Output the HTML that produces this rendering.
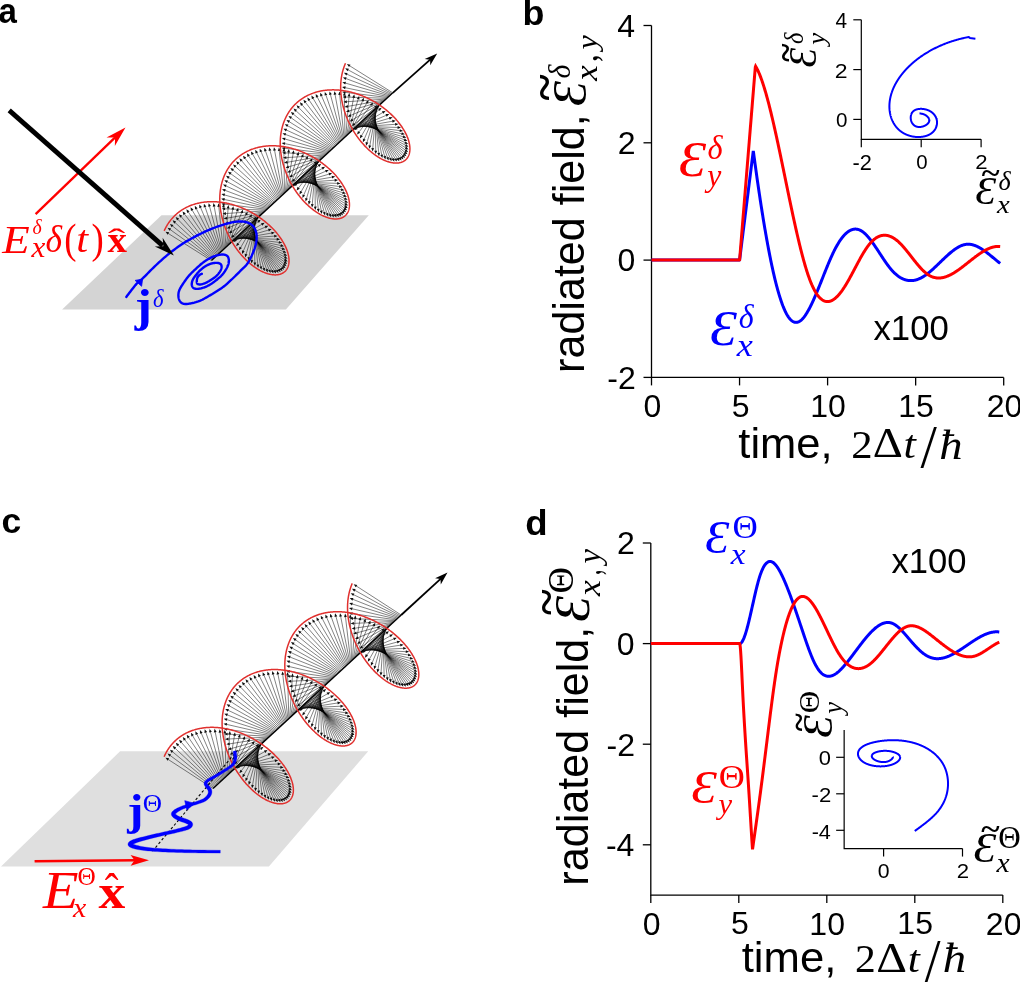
<!DOCTYPE html>
<html><head><meta charset="utf-8"><title>figure</title>
<style>html,body{margin:0;padding:0;background:#fff;}svg{display:block;}</style>
</head><body>
<svg width="1020" height="982" viewBox="0 0 1020 982">
<rect width="1020" height="982" fill="#fff"/>
<polygon points="161.5,215.2 368.8,215.2 285.9,309.4 62.1,309.4" fill="#d4d4d4"/>
<path d="M211.45,260.55L167.85,233.21M212.29,259.77L169.79,229.29M213.13,259.00L172.06,225.62M213.97,258.22L174.66,222.20M214.81,257.44L177.56,219.06M215.65,256.67L180.76,216.22M216.49,255.89L184.22,213.70M217.33,255.12L187.94,211.52M218.17,254.34L191.89,209.67M219.01,253.56L196.03,208.17M219.85,252.79L200.35,207.04M220.69,252.01L204.81,206.26M221.52,251.23L209.38,205.84M222.36,250.46L214.04,205.77M223.20,249.68L218.75,206.05M224.04,248.90L223.47,206.67M224.88,248.13L228.18,207.60M225.72,247.35L232.85,208.83M226.56,246.58L237.45,210.35M227.40,245.80L241.95,212.12M228.24,245.02L246.33,214.13M229.08,244.25L250.57,216.35M229.92,243.47L254.66,218.75M230.76,242.69L258.58,221.33M231.60,241.92L262.31,224.05M232.44,241.14L265.82,226.91M233.28,240.36L269.11,229.89M234.12,239.59L272.15,232.96M234.96,238.81L274.91,236.09M235.80,238.03L277.37,239.27M236.64,237.26L279.52,242.45M237.48,236.48L281.35,245.61M238.32,235.71L282.83,248.72M239.16,234.93L283.97,251.73M240.00,234.15L284.75,254.63M240.84,233.38L285.19,257.38M241.67,232.60L285.27,259.94M242.51,231.82L285.01,262.30M243.35,231.05L284.42,264.43M244.19,230.27L283.50,266.29M245.03,229.49L282.28,267.88M245.87,228.72L280.76,269.16M246.71,227.94L278.98,270.13M247.55,227.17L276.94,270.77M248.39,226.39L274.67,271.06M249.23,225.61L272.21,271.00M250.07,224.84L269.57,270.59M250.91,224.06L266.79,269.81M251.75,223.28L263.89,268.68M252.59,222.51L260.91,267.19M253.43,221.73L257.89,265.36M254.27,220.95L254.84,263.19M255.11,220.18L251.81,260.71M255.95,219.40L248.82,257.92M256.79,218.62L245.90,254.85M257.63,217.85L243.08,251.52M258.47,217.07L240.38,247.97M259.31,216.30L237.81,244.20M260.15,215.52L235.41,240.24M260.99,214.74L233.17,236.11M261.82,213.97L231.12,231.83M262.66,213.19L229.28,227.42M263.50,212.41L227.67,222.89M264.34,211.64L226.32,218.27M265.18,210.86L225.23,213.58M266.02,210.08L224.45,208.85M266.86,209.31L223.98,204.12M267.70,208.53L223.83,199.40M268.54,207.76L224.03,194.75M269.38,206.98L224.57,190.18M270.22,206.20L225.47,185.72M271.06,205.43L226.71,181.42M271.90,204.65L228.30,177.31M272.74,203.87L230.24,173.39M273.58,203.10L232.51,169.72M274.42,202.32L235.11,166.30M275.26,201.54L238.01,163.16M276.10,200.77L241.21,160.32M276.94,199.99L244.67,157.80M277.78,199.22L248.39,155.62M278.62,198.44L252.34,153.77M279.46,197.66L256.48,152.27M280.30,196.89L260.80,151.14M281.14,196.11L265.26,150.36M281.97,195.33L269.83,149.94M282.81,194.56L274.49,149.87M283.65,193.78L279.20,150.15M284.49,193.00L283.92,150.77M285.33,192.23L288.63,151.70M286.17,191.45L293.30,152.93M287.01,190.68L297.90,154.45M287.85,189.90L302.40,156.22M288.69,189.12L306.78,158.23M289.53,188.35L311.02,160.45M290.37,187.57L315.11,162.85M291.21,186.79L319.03,165.43M292.05,186.02L322.76,168.15M292.89,185.24L326.27,171.01M293.73,184.46L329.56,173.99M294.57,183.69L332.60,177.06M295.41,182.91L335.36,180.19M296.25,182.13L337.82,183.37M297.09,181.36L339.97,186.55M297.93,180.58L341.80,189.71M298.77,179.81L343.28,192.82M299.61,179.03L344.42,195.83M300.45,178.25L345.20,198.73M301.29,177.48L345.64,201.48M302.12,176.70L345.72,204.04M302.96,175.92L345.46,206.40M303.80,175.15L344.87,208.53M304.64,174.37L343.95,210.39M305.48,173.59L342.73,211.98M306.32,172.82L341.21,213.26M307.16,172.04L339.43,214.23M308.00,171.27L337.39,214.87M308.84,170.49L335.12,215.16M309.68,169.71L332.66,215.10M310.52,168.94L330.02,214.69M311.36,168.16L327.24,213.91M312.20,167.38L324.34,212.78M313.04,166.61L321.36,211.29M313.88,165.83L318.34,209.46M314.72,165.05L315.29,207.29M315.56,164.28L312.26,204.81M316.40,163.50L309.27,202.02M317.24,162.73L306.35,198.95M318.08,161.95L303.53,195.62M318.92,161.17L300.83,192.07M319.76,160.40L298.26,188.30M320.60,159.62L295.86,184.34M321.44,158.84L293.62,180.21M322.27,158.07L291.57,175.93M323.11,157.29L289.73,171.52M323.95,156.51L288.12,166.99M324.79,155.74L286.77,162.37M325.63,154.96L285.68,157.68M326.47,154.18L284.90,152.95M327.31,153.41L284.43,148.22M328.15,152.63L284.28,143.50M328.99,151.86L284.48,138.85M329.83,151.08L285.02,134.28M330.67,150.30L285.92,129.82M331.51,149.53L287.16,125.52M332.35,148.75L288.75,121.41M333.19,147.97L290.69,117.49M334.03,147.20L292.96,113.82M334.87,146.42L295.56,110.40M335.71,145.64L298.46,107.26M336.55,144.87L301.66,104.42M337.39,144.09L305.12,101.90M338.23,143.32L308.84,99.72M339.07,142.54L312.79,97.87M339.91,141.76L316.93,96.37M340.75,140.99L321.25,95.24M341.59,140.21L325.71,94.46M342.43,139.43L330.28,94.04M343.26,138.66L334.94,93.97M344.10,137.88L339.65,94.25M344.94,137.10L344.37,94.87M345.78,136.33L349.08,95.80M346.62,135.55L353.75,97.03M347.46,134.78L358.35,98.55M348.30,134.00L362.85,100.32M349.14,133.22L367.23,102.33M349.98,132.45L371.47,104.55M350.82,131.67L375.56,106.95M351.66,130.89L379.48,109.53M352.50,130.12L383.21,112.25M353.34,129.34L386.72,115.11M354.18,128.56L390.01,118.09M355.02,127.79L393.05,121.16M355.86,127.01L395.81,124.29M356.70,126.23L398.27,127.47M357.54,125.46L400.42,130.65M358.38,124.68L402.25,133.81M359.22,123.91L403.73,136.92M360.06,123.13L404.87,139.93M360.90,122.35L405.65,142.83M361.74,121.58L406.09,145.58M362.57,120.80L406.17,148.14M363.41,120.02L405.91,150.50M364.25,119.25L405.32,152.63M365.09,118.47L404.40,154.49M365.93,117.69L403.18,156.08M366.77,116.92L401.66,157.36M367.61,116.14L399.88,158.33M368.45,115.37L397.84,158.97M369.29,114.59L395.57,159.26M370.13,113.81L393.11,159.20M370.97,113.04L390.47,158.79M371.81,112.26L387.69,158.01M372.65,111.48L384.79,156.88M373.49,110.71L381.81,155.39M374.33,109.93L378.79,153.56M375.17,109.15L375.74,151.39M376.01,108.38L372.71,148.91M376.85,107.60L369.72,146.12M377.69,106.83L366.80,143.05M378.53,106.05L363.98,139.72M379.37,105.27L361.28,136.17M380.21,104.50L358.71,132.40M381.05,103.72L356.31,128.44M381.89,102.94L354.07,124.31M382.73,102.17L352.02,120.03M383.56,101.39L350.18,115.62M384.40,100.61L348.57,111.09M385.24,99.84L347.22,106.47M386.08,99.06L346.13,101.78M386.92,98.28L345.35,97.05M387.76,97.51L344.88,92.32M388.60,96.73L344.73,87.60M389.44,95.96L344.93,82.95M390.28,95.18L345.47,78.38M391.12,94.40L346.37,73.92M391.96,93.63L347.61,69.62M392.80,92.85L349.20,65.51" stroke="#000" stroke-width="0.7" stroke-opacity="0.7" fill="none"/>
<path d="M165.55,231.76L169.20,232.34L167.66,234.79ZM167.58,227.71L171.19,228.51L169.50,230.87ZM169.95,223.90L173.51,224.92L171.68,227.17ZM172.65,220.36L176.14,221.59L174.18,223.73ZM175.67,217.11L179.08,218.54L177.00,220.56ZM178.98,214.17L182.30,215.79L180.10,217.69ZM182.57,211.54L185.79,213.36L183.49,215.13ZM186.42,209.26L189.52,211.27L187.12,212.89ZM190.51,207.33L193.48,209.52L190.98,210.99ZM194.80,205.75L197.63,208.13L195.04,209.44ZM199.28,204.53L201.95,207.09L199.28,208.23ZM203.92,203.69L206.40,206.43L203.66,207.38ZM208.68,203.21L210.96,206.12L208.16,206.87ZM213.54,203.10L215.59,206.17L212.74,206.71ZM218.47,203.35L220.26,206.58L217.37,206.88ZM223.44,203.95L224.93,207.33L222.03,207.37ZM228.41,204.89L229.57,208.39L226.68,208.16ZM233.35,206.16L234.15,209.77L231.30,209.24ZM238.23,207.75L238.64,211.42L235.87,210.58ZM243.03,209.63L243.01,213.32L240.35,212.17ZM247.70,211.78L247.24,215.45L244.74,213.98ZM252.23,214.19L251.31,217.77L249.01,216.00ZM256.59,216.83L255.21,220.26L253.16,218.21ZM260.74,219.67L258.92,222.89L257.16,220.59ZM264.66,222.68L262.45,225.65L260.99,223.14ZM268.33,225.85L265.77,228.51L264.63,225.84ZM271.72,229.12L268.87,231.47L268.05,228.69ZM274.83,232.49L271.73,234.50L271.23,231.64ZM277.62,235.91L274.33,237.58L274.13,234.69ZM280.09,239.35L276.65,240.69L276.74,237.80ZM282.22,242.78L278.67,243.81L279.02,240.93ZM284.01,246.16L280.38,246.89L280.98,244.05ZM285.44,249.48L281.77,249.92L282.58,247.13ZM286.51,252.69L282.82,252.85L283.84,250.14ZM287.22,255.76L283.53,255.67L284.74,253.03ZM287.58,258.67L283.90,258.33L285.28,255.78ZM287.57,261.39L283.92,260.81L285.47,258.36ZM287.22,263.89L283.61,263.09L285.30,260.73ZM286.53,266.14L282.98,265.12L284.81,262.87ZM285.51,268.13L282.02,266.90L283.98,264.76ZM284.17,269.83L280.77,268.40L282.85,266.38ZM282.54,271.22L279.22,269.59L281.42,267.70ZM280.63,272.29L277.41,270.47L279.71,268.71ZM278.46,273.02L275.35,271.01L277.76,269.39ZM276.05,273.40L273.08,271.21L275.58,269.74ZM273.44,273.43L270.61,271.05L273.19,269.74ZM270.64,273.09L267.97,270.53L270.64,269.39ZM267.68,272.38L265.19,269.64L267.93,268.69ZM264.59,271.31L262.31,268.40L265.12,267.65ZM261.41,269.87L259.36,266.79L262.21,266.26ZM258.16,268.07L256.37,264.83L259.26,264.54ZM254.88,265.91L253.38,262.53L256.28,262.49ZM251.59,263.42L250.42,259.91L253.31,260.15ZM248.32,260.59L247.52,256.99L250.37,257.51ZM245.12,257.45L244.71,253.78L247.48,254.62ZM242.00,254.02L242.02,250.33L244.68,251.48ZM239.00,250.31L239.47,246.65L241.97,248.11ZM236.15,246.35L237.08,242.77L239.38,244.54ZM233.48,242.16L234.86,238.73L236.91,240.78ZM231.01,237.77L232.82,234.55L234.59,236.85ZM228.77,233.20L230.98,230.24L232.44,232.74ZM226.78,228.48L229.34,225.82L230.47,228.49ZM225.06,223.65L227.92,221.31L228.73,224.09ZM223.64,218.74L226.74,216.72L227.23,219.58ZM222.52,213.77L225.81,212.09L226.01,214.98ZM221.73,208.77L225.17,207.42L225.09,210.32ZM221.28,203.79L224.83,202.76L224.48,205.64ZM221.17,198.85L224.79,198.12L224.20,200.96ZM221.42,193.98L225.09,193.54L224.28,196.33ZM222.02,189.22L225.72,189.06L224.70,191.77ZM222.99,184.59L226.69,184.69L225.48,187.33ZM224.32,180.13L228.00,180.47L226.62,183.02ZM226.00,175.86L229.65,176.44L228.11,178.89ZM228.03,171.81L231.64,172.61L229.95,174.97ZM230.40,168.00L233.96,169.02L232.13,171.27ZM233.10,164.46L236.59,165.69L234.63,167.83ZM236.12,161.21L239.53,162.64L237.45,164.66ZM239.43,158.27L242.75,159.89L240.55,161.79ZM243.02,155.64L246.24,157.46L243.94,159.23ZM246.87,153.36L249.97,155.37L247.57,156.99ZM250.96,151.43L253.93,153.62L251.43,155.09ZM255.25,149.85L258.08,152.23L255.49,153.54ZM259.73,148.63L262.40,151.19L259.73,152.33ZM264.37,147.79L266.85,150.53L264.11,151.48ZM269.13,147.31L271.41,150.22L268.61,150.97ZM273.99,147.20L276.04,150.27L273.19,150.81ZM278.92,147.45L280.71,150.68L277.82,150.98ZM283.89,148.05L285.38,151.43L282.48,151.47ZM288.86,148.99L290.02,152.49L287.13,152.26ZM293.80,150.26L294.60,153.87L291.75,153.34ZM298.68,151.84L299.09,155.52L296.32,154.68ZM303.48,153.73L303.46,157.42L300.80,156.27ZM308.15,155.88L307.69,159.55L305.19,158.08ZM312.68,158.29L311.76,161.87L309.46,160.10ZM317.04,160.93L315.66,164.36L313.61,162.31ZM321.19,163.77L319.37,166.99L317.61,164.69ZM325.11,166.78L322.90,169.75L321.44,167.24ZM328.78,169.95L326.22,172.61L325.08,169.94ZM332.17,173.22L329.32,175.57L328.50,172.79ZM335.28,176.59L332.18,178.60L331.68,175.74ZM338.07,180.01L334.78,181.68L334.58,178.79ZM340.54,183.45L337.10,184.79L337.19,181.90ZM342.67,186.88L339.12,187.91L339.47,185.03ZM344.46,190.26L340.83,190.99L341.43,188.15ZM345.89,193.58L342.22,194.02L343.03,191.23ZM346.96,196.79L343.27,196.95L344.29,194.24ZM347.67,199.86L343.98,199.77L345.19,197.13ZM348.03,202.77L344.35,202.43L345.73,199.88ZM348.02,205.49L344.37,204.91L345.92,202.46ZM347.67,207.99L344.06,207.19L345.75,204.83ZM346.98,210.24L343.43,209.22L345.26,206.97ZM345.96,212.23L342.47,211.00L344.43,208.86ZM344.62,213.93L341.22,212.50L343.30,210.48ZM342.99,215.32L339.67,213.69L341.87,211.80ZM341.08,216.39L337.86,214.57L340.16,212.81ZM338.91,217.12L335.80,215.11L338.21,213.49ZM336.50,217.50L333.53,215.31L336.03,213.84ZM333.89,217.53L331.06,215.15L333.64,213.84ZM331.09,217.19L328.42,214.63L331.09,213.49ZM328.13,216.48L325.64,213.74L328.38,212.79ZM325.04,215.41L322.76,212.50L325.57,211.75ZM321.86,213.97L319.81,210.89L322.66,210.36ZM318.61,212.17L316.82,208.93L319.71,208.64ZM315.33,210.01L313.83,206.63L316.73,206.59ZM312.04,207.52L310.87,204.01L313.76,204.25ZM308.77,204.69L307.97,201.09L310.82,201.61ZM305.57,201.56L305.16,197.88L307.93,198.72ZM302.45,198.12L302.47,194.43L305.13,195.58ZM299.45,194.41L299.92,190.75L302.42,192.21ZM296.60,190.45L297.53,186.87L299.83,188.64ZM293.93,186.26L295.31,182.83L297.36,184.88ZM291.46,181.87L293.27,178.65L295.04,180.95ZM289.22,177.30L291.43,174.34L292.89,176.84ZM287.23,172.58L289.79,169.92L290.92,172.59ZM285.51,167.75L288.37,165.41L289.18,168.19ZM284.09,162.84L287.19,160.82L287.68,163.68ZM282.97,157.87L286.26,156.19L286.46,159.08ZM282.18,152.87L285.62,151.52L285.54,154.42ZM281.73,147.89L285.28,146.86L284.93,149.74ZM281.62,142.95L285.24,142.22L284.65,145.06ZM281.87,138.08L285.54,137.64L284.73,140.43ZM282.47,133.32L286.17,133.16L285.15,135.87ZM283.44,128.69L287.14,128.79L285.93,131.43ZM284.77,124.23L288.45,124.57L287.07,127.12ZM286.45,119.96L290.10,120.54L288.56,122.99ZM288.48,115.91L292.09,116.71L290.40,119.07ZM290.85,112.10L294.41,113.12L292.58,115.37ZM293.55,108.56L297.04,109.79L295.08,111.93ZM296.57,105.31L299.98,106.74L297.90,108.76ZM299.88,102.37L303.20,103.99L301.00,105.89ZM303.47,99.74L306.69,101.56L304.39,103.33ZM307.32,97.46L310.42,99.47L308.02,101.09ZM311.41,95.53L314.38,97.72L311.88,99.19ZM315.70,93.95L318.53,96.33L315.94,97.64ZM320.18,92.73L322.85,95.29L320.18,96.43ZM324.82,91.89L327.30,94.63L324.56,95.58ZM329.58,91.41L331.86,94.32L329.06,95.07ZM334.44,91.30L336.49,94.37L333.64,94.91ZM339.37,91.55L341.16,94.78L338.27,95.08ZM344.34,92.15L345.83,95.53L342.93,95.57ZM349.31,93.09L350.47,96.59L347.58,96.36ZM354.25,94.36L355.05,97.97L352.20,97.44ZM359.13,95.95L359.54,99.62L356.77,98.78ZM363.93,97.83L363.91,101.52L361.25,100.37ZM368.60,99.98L368.14,103.65L365.64,102.18ZM373.13,102.39L372.21,105.97L369.91,104.20ZM377.49,105.03L376.11,108.46L374.06,106.41ZM381.64,107.87L379.82,111.09L378.06,108.79ZM385.56,110.88L383.35,113.85L381.89,111.34ZM389.23,114.05L386.67,116.71L385.53,114.04ZM392.62,117.32L389.77,119.67L388.95,116.89ZM395.73,120.69L392.63,122.70L392.13,119.84ZM398.52,124.11L395.23,125.78L395.03,122.89ZM400.99,127.55L397.55,128.89L397.64,126.00ZM403.12,130.98L399.57,132.01L399.92,129.13ZM404.91,134.36L401.28,135.09L401.88,132.25ZM406.34,137.68L402.67,138.12L403.48,135.33ZM407.41,140.89L403.72,141.05L404.74,138.34ZM408.12,143.96L404.43,143.87L405.64,141.23ZM408.48,146.87L404.80,146.53L406.18,143.98ZM408.48,149.59L404.82,149.01L406.37,146.56ZM408.12,152.09L404.51,151.29L406.20,148.93ZM407.43,154.34L403.88,153.32L405.71,151.07ZM406.41,156.33L402.92,155.10L404.88,152.96ZM405.07,158.03L401.67,156.60L403.75,154.58ZM403.44,159.42L400.12,157.79L402.32,155.90ZM401.53,160.49L398.31,158.67L400.61,156.91ZM399.36,161.22L396.25,159.21L398.66,157.59ZM396.95,161.60L393.98,159.41L396.48,157.94ZM394.34,161.63L391.51,159.25L394.09,157.94ZM391.54,161.29L388.87,158.73L391.54,157.59ZM388.58,160.58L386.09,157.84L388.83,156.89ZM385.49,159.51L383.21,156.60L386.02,155.85ZM382.31,158.07L380.26,154.99L383.11,154.46ZM379.06,156.27L377.27,153.03L380.16,152.74ZM375.78,154.11L374.28,150.73L377.18,150.69ZM372.49,151.62L371.32,148.11L374.21,148.35ZM369.22,148.79L368.42,145.19L371.27,145.71ZM366.02,145.66L365.61,141.98L368.38,142.82ZM362.90,142.22L362.92,138.53L365.58,139.68ZM359.90,138.51L360.37,134.85L362.87,136.31ZM357.05,134.55L357.98,130.97L360.28,132.74ZM354.38,130.36L355.76,126.93L357.81,128.98ZM351.91,125.97L353.72,122.75L355.49,125.05ZM349.67,121.40L351.88,118.44L353.34,120.94ZM347.68,116.68L350.24,114.02L351.37,116.69ZM345.96,111.85L348.82,109.51L349.63,112.29ZM344.54,106.94L347.64,104.92L348.13,107.78ZM343.42,101.97L346.71,100.29L346.91,103.18ZM342.63,96.97L346.07,95.62L345.99,98.52ZM342.18,91.99L345.73,90.96L345.38,93.84ZM342.07,87.05L345.69,86.32L345.10,89.16ZM342.32,82.18L345.99,81.74L345.18,84.53ZM342.92,77.42L346.62,77.26L345.60,79.97ZM343.89,72.79L347.59,72.89L346.38,75.53ZM345.22,68.33L348.90,68.67L347.52,71.22ZM346.90,64.06L350.55,64.64L349.01,67.09Z" fill="#111" stroke="none"/>
<line x1="211.45" y1="260.55" x2="392.80" y2="92.85" stroke="#000" stroke-width="1.4"/>
<line x1="392.80" y1="92.85" x2="430.47" y2="59.38" stroke="#000" stroke-width="1.8"/>
<polygon points="437.20,53.40 430.27,65.17 430.10,59.71 424.69,58.89" fill="#000"/>
<polyline points="164.17,230.90 164.45,230.28 164.73,229.68 165.02,229.07 165.32,228.48 165.63,227.88 165.94,227.29 166.26,226.71 166.59,226.13 166.92,225.56 167.26,225.00 167.61,224.43 167.97,223.88 168.33,223.33 168.70,222.78 169.08,222.24 169.46,221.71 169.86,221.18 170.25,220.66 170.66,220.15 171.07,219.64 171.49,219.14 171.92,218.64 172.35,218.15 172.79,217.66 173.23,217.19 173.68,216.71 174.14,216.25 174.61,215.79 175.08,215.34 175.55,214.89 176.04,214.45 176.53,214.02 177.02,213.60 177.53,213.18 178.03,212.77 178.55,212.36 179.07,211.96 179.59,211.57 180.12,211.19 180.66,210.81 181.20,210.45 181.75,210.08 182.31,209.73 182.87,209.38 183.43,209.04 184.00,208.71 184.58,208.38 185.16,208.06 185.74,207.75 186.33,207.45 186.93,207.16 187.53,206.87 188.13,206.59 188.74,206.31 189.36,206.05 189.98,205.79 190.60,205.54 191.23,205.30 191.86,205.06 192.49,204.84 193.13,204.62 193.78,204.41 194.43,204.20 195.08,204.01 195.74,203.82 196.40,203.64 197.06,203.47 197.73,203.30 198.40,203.15 199.07,203.00 199.75,202.86 200.43,202.72 201.11,202.60 201.80,202.48 202.49,202.37 203.18,202.27 203.88,202.18 204.57,202.09 205.27,202.01 205.98,201.94 206.68,201.88 207.39,201.83 208.10,201.78 208.81,201.74 209.52,201.71 210.24,201.69 210.96,201.67 211.68,201.67 212.40,201.67 213.12,201.67 213.84,201.69 214.57,201.71 215.30,201.74 216.02,201.78 216.75,201.83 217.48,201.88 218.21,201.95 218.95,202.01 219.68,202.09 220.41,202.17 221.14,202.27 221.88,202.37 222.61,202.47 223.35,202.59 224.08,202.71 224.82,202.84 225.55,202.97 226.28,203.11 227.02,203.26 227.75,203.42 228.48,203.58 229.22,203.76 229.95,203.93 230.68,204.12 231.41,204.31 232.14,204.51 232.87,204.72 233.59,204.93 234.32,205.15 235.04,205.37 235.77,205.61 236.49,205.85 237.21,206.09 237.93,206.34 238.64,206.60 239.36,206.87 240.07,207.14 240.78,207.41 241.49,207.70 242.19,207.99 242.90,208.28 243.60,208.58 244.30,208.89 244.99,209.20 245.68,209.52 246.37,209.85 247.06,210.18 247.75,210.51 248.43,210.85 249.11,211.20 249.78,211.55 250.45,211.91 251.12,212.27 251.78,212.64 252.44,213.01 253.10,213.39 253.75,213.77 254.40,214.16 255.05,214.55 255.69,214.95 256.33,215.35 256.96,215.75 257.59,216.16 258.21,216.58 258.83,216.99 259.45,217.42 260.06,217.84 260.67,218.27 261.27,218.71 261.86,219.15 262.45,219.59 263.04,220.03 263.62,220.48 264.20,220.94 264.77,221.39 265.34,221.85 265.90,222.31 266.45,222.78 267.00,223.25 267.55,223.72 268.08,224.19 268.62,224.67 269.14,225.15 269.67,225.63 270.18,226.12 270.69,226.60 271.19,227.09 271.69,227.58 272.18,228.08 272.67,228.57 273.15,229.07 273.62,229.57 274.08,230.07 274.54,230.57 275.00,231.07 275.44,231.58 275.88,232.08 276.32,232.59 276.75,233.10 277.17,233.61 277.58,234.12 277.99,234.63 278.39,235.14 278.78,235.66 279.16,236.17 279.54,236.68 279.92,237.20 280.28,237.71 280.64,238.23 280.99,238.74 281.33,239.25 281.67,239.77 282.00,240.28 282.32,240.80 282.64,241.31 282.94,241.82 283.24,242.33 283.53,242.84 283.82,243.35 284.10,243.86 284.37,244.37 284.63,244.88 284.89,245.38 285.13,245.88 285.37,246.39 285.61,246.89 285.83,247.39 286.05,247.89 286.26,248.38 286.46,248.87 286.65,249.37 286.84,249.86 287.02,250.34 287.19,250.83 287.35,251.31 287.51,251.79 287.66,252.27 287.80,252.74 287.93,253.21 288.06,253.68 288.17,254.15 288.28,254.61 288.39,255.07 288.48,255.53 288.57,255.98 288.65,256.43 288.72,256.88 288.78,257.32 288.84,257.76 288.88,258.19 288.92,258.63 288.96,259.05 288.98,259.48 289.00,259.90 289.01,260.31 289.01,260.72 289.01,261.13 288.99,261.53 288.97,261.93 288.95,262.32 288.91,262.71 288.87,263.09 288.82,263.47 288.76,263.84 288.70,264.21 288.62,264.57 288.55,264.93 288.46,265.28 288.36,265.63 288.26,265.97 288.16,266.31 288.04,266.64 287.92,266.97 287.79,267.29 287.65,267.60 287.51,267.91 287.36,268.21 287.20,268.51 287.04,268.80 286.86,269.08 286.69,269.36 286.50,269.63 286.31,269.90 286.11,270.16 285.91,270.41 285.70,270.66 285.48,270.90 285.26,271.13 285.03,271.36 284.79,271.58 284.55,271.79 284.30,272.00 284.04,272.20 283.78,272.40 283.51,272.58 283.24,272.76 282.96,272.93 282.68,273.10 282.39,273.26 282.09,273.41 281.79,273.55 281.48,273.69 281.17,273.82 280.85,273.94 280.53,274.06 280.20,274.17 279.87,274.27 279.53,274.36 279.18,274.45 278.83,274.52 278.48,274.59 278.12,274.66 277.76,274.71 277.39,274.76 277.01,274.80 276.64,274.83 276.25,274.86 275.87,274.88 275.48,274.88 275.08,274.89 274.68,274.88 274.28,274.87 273.87,274.85 273.46,274.82 273.05,274.78 272.63,274.73 272.21,274.68 271.78,274.62 271.35,274.55 270.92,274.48 270.48,274.39 270.04,274.30 269.60,274.20 269.16,274.09 268.71,273.98 268.26,273.85 267.81,273.72 267.35,273.58 266.89,273.43 266.43,273.28 265.97,273.12 265.50,272.95 265.03,272.77 264.56,272.58 264.09,272.39 263.61,272.18 263.14,271.97 262.66,271.76 262.18,271.53 261.70,271.30 261.22,271.06 260.73,270.81 260.25,270.55 259.76,270.29 259.28,270.02 258.79,269.74 258.30,269.45 257.81,269.16 257.32,268.86 256.83,268.55 256.34,268.23 255.84,267.91 255.35,267.58 254.86,267.24 254.37,266.89 253.88,266.54 253.38,266.18 252.89,265.81 252.40,265.43 251.91,265.05 251.42,264.66 250.93,264.27 250.44,263.86 249.95,263.45 249.46,263.04 248.97,262.61 248.49,262.18 248.00,261.75 247.52,261.30 247.04,260.85 246.56,260.39 246.08,259.93 245.60,259.46 245.12,258.98 244.65,258.50 244.18,258.01 243.71,257.51 243.24,257.01 242.77,256.50 242.31,255.99 241.85,255.47 241.39,254.94 240.93,254.41 240.48,253.87 240.03,253.33 239.58,252.78 239.14,252.23 238.70,251.67 238.26,251.10 237.82,250.53 237.39,249.95 236.96,249.37 236.54,248.78 236.11,248.19 235.70,247.60 235.28,246.99 234.87,246.39 234.46,245.77 234.06,245.16 233.66,244.54 233.27,243.91 232.88,243.28 232.49,242.65 232.11,242.01 231.73,241.37 231.36,240.72 230.99,240.07 230.63,239.41 230.27,238.76 229.92,238.09 229.57,237.43 229.22,236.76 228.89,236.08 228.55,235.41 228.22,234.73 227.90,234.04 227.58,233.36 227.27,232.67 226.96,231.97 226.66,231.28 226.37,230.58 226.08,229.88 225.79,229.18 225.52,228.47 225.24,227.76 224.98,227.05 224.72,226.34 224.46,225.62 224.21,224.90 223.97,224.18 223.74,223.46 223.51,222.74 223.28,222.02 223.07,221.29 222.86,220.56 222.65,219.83 222.45,219.10 222.26,218.37 222.08,217.64 221.90,216.90 221.73,216.17 221.57,215.43 221.41,214.70 221.26,213.96 221.12,213.23 220.98,212.49 220.85,211.75 220.73,211.01 220.62,210.27 220.51,209.54 220.41,208.80 220.32,208.06 220.23,207.32 220.15,206.59 220.08,205.85 220.02,205.11 219.96,204.38 219.91,203.65 219.87,202.91 219.83,202.18 219.81,201.45 219.79,200.72 219.78,199.99 219.77,199.26 219.77,198.54 219.79,197.81 219.80,197.09 219.83,196.37 219.86,195.65 219.90,194.93 219.95,194.22 220.01,193.50 220.07,192.79 220.15,192.08 220.23,191.38 220.31,190.68 220.41,189.97 220.51,189.28 220.62,188.58 220.74,187.89 220.87,187.20 221.00,186.51 221.14,185.83 221.29,185.15 221.45,184.47 221.61,183.80 221.78,183.13 221.96,182.47 222.15,181.80 222.34,181.15 222.55,180.49 222.76,179.84 222.98,179.20 223.20,178.55 223.43,177.92 223.68,177.28 223.92,176.65 224.18,176.03 224.44,175.41 224.71,174.79 224.99,174.18 225.28,173.57 225.57,172.97 225.87,172.38 226.18,171.79 226.50,171.20 226.82,170.62 227.15,170.04 227.48,169.47 227.83,168.91 228.18,168.35 228.54,167.79 228.90,167.25 229.28,166.70 229.66,166.17 230.04,165.64 230.44,165.11 230.84,164.59 231.25,164.08 231.66,163.57 232.08,163.07 232.51,162.57 232.94,162.09 233.38,161.60 233.83,161.13 234.29,160.66 234.75,160.20 235.21,159.74 235.69,159.29 236.16,158.85 236.65,158.41 237.14,157.98 237.64,157.56 238.14,157.14 238.65,156.73 239.17,156.33 239.69,155.93 240.22,155.55 240.75,155.16 241.29,154.79 241.84,154.42 242.39,154.06 242.94,153.71 243.50,153.37 244.07,153.03 244.64,152.70 245.22,152.38 245.80,152.06 246.39,151.75 246.98,151.45 247.58,151.16 248.18,150.87 248.79,150.60 249.40,150.33 250.01,150.06 250.63,149.81 251.26,149.56 251.89,149.32 252.52,149.09 253.16,148.86 253.80,148.65 254.44,148.44 255.09,148.24 255.75,148.05 256.41,147.86 257.07,147.68 257.73,147.51 258.40,147.35 259.07,147.20 259.75,147.05 260.42,146.91 261.11,146.78 261.79,146.66 262.48,146.55 263.17,146.44 263.86,146.34 264.56,146.25 265.26,146.17 265.96,146.09 266.66,146.02 267.37,145.96 268.08,145.91 268.79,145.87 269.50,145.83 270.21,145.80 270.93,145.78 271.65,145.77 272.37,145.77 273.09,145.77 273.81,145.78 274.54,145.80 275.26,145.82 275.99,145.86 276.72,145.90 277.45,145.95 278.18,146.00 278.91,146.07 279.64,146.14 280.37,146.22 281.11,146.30 281.84,146.40 282.57,146.50 283.31,146.61 284.04,146.73 284.78,146.85 285.51,146.98 286.24,147.12 286.98,147.26 287.71,147.42 288.45,147.57 289.18,147.74 289.91,147.91 290.64,148.10 291.37,148.28 292.10,148.48 292.83,148.68 293.56,148.89 294.29,149.10 295.01,149.32 295.73,149.55 296.46,149.79 297.18,150.03 297.90,150.27 298.61,150.53 299.33,150.79 300.04,151.06 300.76,151.33 301.47,151.61 302.17,151.89 302.88,152.19 303.58,152.48 304.28,152.79 304.98,153.09 305.67,153.41 306.36,153.73 307.05,154.06 307.74,154.39 308.42,154.73 309.10,155.07 309.78,155.42 310.45,155.77 311.12,156.13 311.79,156.49 312.45,156.86 313.11,157.24 313.77,157.62 314.42,158.00 315.07,158.39 315.71,158.78 316.35,159.18 316.99,159.58 317.62,159.99 318.25,160.40 318.87,160.82 319.49,161.23 320.10,161.66 320.71,162.09 321.32,162.52 321.92,162.95 322.51,163.39 323.10,163.84 323.69,164.28 324.27,164.73 324.84,165.19 325.41,165.64 325.97,166.10 326.53,166.57 327.09,167.03 327.63,167.50 328.18,167.98 328.71,168.45 329.24,168.93 329.77,169.41 330.29,169.89 330.80,170.38 331.31,170.86 331.81,171.35 332.31,171.85 332.79,172.34 333.28,172.84 333.75,173.33 334.22,173.83 334.69,174.33 335.15,174.84 335.60,175.34 336.04,175.85 336.48,176.35 336.91,176.86 337.34,177.37 337.75,177.88 338.17,178.39 338.57,178.90 338.97,179.42 339.36,179.93 339.74,180.44 340.12,180.96 340.49,181.47 340.85,181.98 341.21,182.50 341.55,183.01 341.90,183.53 342.23,184.04 342.56,184.55 342.88,185.07 343.19,185.58 343.49,186.09 343.79,186.60 344.08,187.11 344.36,187.62 344.64,188.13 344.91,188.64 345.17,189.14 345.42,189.65 345.66,190.15 345.90,190.65 346.13,191.15 346.35,191.65 346.57,192.15 346.78,192.65 346.97,193.14 347.17,193.63 347.35,194.12 347.53,194.60 347.70,195.09 347.86,195.57 348.01,196.05 348.16,196.53 348.29,197.00 348.42,197.47 348.55,197.94 348.66,198.40 348.77,198.87 348.87,199.32 348.96,199.78 349.04,200.23 349.12,200.68 349.19,201.13 349.25,201.57 349.30,202.00 349.35,202.44 349.39,202.87 349.42,203.29 349.44,203.72 349.45,204.13 349.46,204.55 349.46,204.96 349.45,205.36 349.44,205.76 349.42,206.16 349.39,206.55 349.35,206.93 349.30,207.32 349.25,207.69 349.19,208.06 349.12,208.43 349.05,208.79 348.97,209.15 348.88,209.50 348.78,209.85 348.68,210.19 348.57,210.52 348.45,210.85 348.32,211.17 348.19,211.49 348.05,211.80 347.91,212.11 347.76,212.41 347.60,212.71 347.43,212.99 347.26,213.28 347.08,213.55 346.89,213.82 346.70,214.09 346.50,214.34 346.29,214.60 346.08,214.84 345.86,215.08 345.63,215.31 345.40,215.53 345.16,215.75 344.91,215.96 344.66,216.17 344.41,216.37 344.14,216.56 343.87,216.74 343.60,216.92 343.32,217.09 343.03,217.25 342.74,217.41 342.44,217.56 342.14,217.70 341.83,217.84 341.51,217.96 341.19,218.08 340.87,218.20 340.54,218.30 340.20,218.40 339.86,218.49 339.52,218.57 339.16,218.65 338.81,218.72 338.45,218.78 338.08,218.83 337.71,218.87 337.34,218.91 336.96,218.94 336.58,218.96 336.19,218.98 335.80,218.99 335.40,218.99 335.00,218.98 334.59,218.96 334.19,218.94 333.77,218.90 333.36,218.86 332.94,218.82 332.52,218.76 332.09,218.70 331.66,218.63 331.22,218.55 330.79,218.46 330.35,218.37 329.90,218.26 329.46,218.15 329.01,218.04 328.56,217.91 328.10,217.78 327.65,217.63 327.19,217.48 326.72,217.33 326.26,217.16 325.79,216.99 325.32,216.81 324.85,216.62 324.38,216.42 323.91,216.22 323.43,216.00 322.95,215.78 322.47,215.56 321.99,215.32 321.51,215.08 321.02,214.83 320.54,214.57 320.05,214.30 319.56,214.03 319.08,213.74 318.59,213.46 318.10,213.16 317.61,212.86 317.11,212.54 316.62,212.22 316.13,211.90 315.64,211.56 315.15,211.22 314.65,210.87 314.16,210.52 313.67,210.16 313.18,209.79 312.69,209.41 312.19,209.02 311.70,208.63 311.21,208.23 310.72,207.83 310.24,207.42 309.75,207.00 309.26,206.57 308.78,206.14 308.29,205.70 307.81,205.25 307.33,204.80 306.85,204.34 306.37,203.87 305.89,203.40 305.41,202.92 304.94,202.44 304.47,201.94 304.00,201.45 303.53,200.94 303.07,200.43 302.61,199.92 302.15,199.39 301.69,198.87 301.23,198.33 300.78,197.79 300.33,197.25 299.88,196.70 299.44,196.14 299.00,195.58 298.56,195.01 298.13,194.44 297.70,193.86 297.27,193.28 296.84,192.69 296.42,192.09 296.01,191.50 295.59,190.89 295.18,190.28 294.78,189.67 294.38,189.05 293.98,188.43 293.59,187.80 293.20,187.17 292.81,186.54 292.43,185.90 292.06,185.25 291.69,184.60 291.32,183.95 290.96,183.30 290.60,182.64 290.25,181.97 289.90,181.30 289.56,180.63 289.22,179.96 288.89,179.28 288.57,178.60 288.24,177.91 287.93,177.23 287.62,176.54 287.31,175.84 287.01,175.15 286.72,174.45 286.43,173.74 286.15,173.04 285.87,172.33 285.60,171.62 285.34,170.91 285.08,170.20 284.83,169.48 284.58,168.76 284.34,168.04 284.11,167.32 283.88,166.60 283.66,165.87 283.45,165.15 283.24,164.42 283.04,163.69 282.84,162.96 282.65,162.23 282.47,161.49 282.30,160.76 282.13,160.03 281.97,159.29 281.81,158.55 281.66,157.82 281.52,157.08 281.39,156.34 281.26,155.60 281.14,154.87 281.03,154.13 280.93,153.39 280.83,152.65 280.74,151.92 280.65,151.18 280.58,150.44 280.51,149.71 280.45,148.97 280.39,148.23 280.35,147.50 280.31,146.77 280.27,146.04 280.25,145.30 280.23,144.57 280.22,143.85 280.22,143.12 280.23,142.39 280.24,141.67 280.26,140.95 280.29,140.23 280.33,139.51 280.37,138.79 280.42,138.08 280.48,137.37 280.55,136.66 280.62,135.95 280.70,135.24 280.79,134.54 280.89,133.84 281.00,133.14 281.11,132.45 281.23,131.76 281.36,131.07 281.50,130.39 281.64,129.70 281.79,129.03 281.95,128.35 282.12,127.68 282.29,127.01 282.47,126.35 282.66,125.68 282.86,125.03 283.07,124.37 283.28,123.73 283.50,123.08 283.73,122.44 283.96,121.80 284.21,121.17 284.46,120.54 284.72,119.92 284.98,119.30 285.26,118.69 285.54,118.08 285.83,117.47 286.12,116.87 286.42,116.28 286.73,115.69 287.05,115.11 287.38,114.53 287.71,113.95 288.05,113.38 288.40,112.82 288.75,112.26 289.11,111.71 289.48,111.16 289.85,110.62 290.24,110.09 290.62,109.56 291.02,109.04 291.42,108.52 291.83,108.01 292.25,107.50 292.67,107.00 293.10,106.51 293.54,106.02 293.98,105.54 294.43,105.07 294.89,104.60 295.35,104.14 295.82,103.69 296.29,103.24 296.78,102.80 297.26,102.37 297.76,101.94 298.26,101.52 298.76,101.10 299.28,100.70 299.79,100.30 300.32,99.90 300.85,99.52 301.38,99.14 301.92,98.77 302.47,98.40 303.02,98.05 303.58,97.70 304.14,97.35 304.71,97.02 305.28,96.69 305.86,96.37 306.45,96.06 307.03,95.75 307.63,95.45 308.23,95.16 308.83,94.88 309.44,94.60 310.05,94.34 310.67,94.08 311.29,93.82 311.92,93.58 312.55,93.34 313.18,93.11 313.82,92.89 314.46,92.68 315.11,92.47 315.76,92.27 316.42,92.08 317.08,91.90 317.74,91.72 318.40,91.56 319.07,91.40 319.75,91.25 320.42,91.10 321.10,90.97 321.78,90.84 322.47,90.72 323.16,90.61 323.85,90.50 324.54,90.41 325.24,90.32 325.94,90.24 326.64,90.17 327.35,90.10 328.05,90.05 328.76,90.00 329.47,89.95 330.19,89.92 330.90,89.90 331.62,89.88 332.34,89.87 333.06,89.87 333.78,89.87 334.50,89.88 335.23,89.90 335.95,89.93 336.68,89.97 337.41,90.01 338.14,90.06 338.87,90.12 339.60,90.19 340.33,90.26 341.07,90.35 341.80,90.44 342.53,90.53 343.27,90.64 344.00,90.75 344.74,90.87 345.47,90.99 346.20,91.12 346.94,91.27 347.67,91.41 348.41,91.57 349.14,91.73 349.87,91.90 350.60,92.07 351.34,92.26 352.07,92.45 352.80,92.64 353.52,92.85 354.25,93.06 354.98,93.27 355.70,93.50 356.43,93.73 357.15,93.97 357.87,94.21 358.59,94.46 359.30,94.72 360.02,94.98 360.73,95.25 361.44,95.52 362.15,95.80 362.86,96.09 363.56,96.38 364.26,96.68 364.96,96.99 365.66,97.30 366.35,97.62 367.04,97.94 367.73,98.27 368.42,98.60 369.10,98.94 369.78,99.28 370.46,99.63 371.13,99.99 371.80,100.35 372.46,100.72 373.12,101.09 373.78,101.46 374.44,101.84 375.09,102.23 375.73,102.62 376.38,103.01 377.02,103.41 377.65,103.82 378.28,104.22 378.91,104.64 379.53,105.05 380.14,105.48 380.76,105.90 381.36,106.33 381.97,106.76 382.56,107.20 383.16,107.64 383.75,108.08 384.33,108.53 384.91,108.98 385.48,109.44 386.05,109.90 386.61,110.36 387.17,110.82 387.72,111.29 388.26,111.76 388.81,112.23 389.34,112.71 389.87,113.19 390.39,113.67 390.91,114.15 391.42,114.64 391.93,115.13 392.43,115.62 392.92,116.11 393.41,116.61 393.89,117.10 394.36,117.60 394.83,118.10 395.29,118.60 395.75,119.11 396.20,119.61 396.64,120.12 397.07,120.62 397.50,121.13 397.93,121.64 398.34,122.15 398.75,122.66 399.15,123.17 399.55,123.69 399.94,124.20 400.32,124.71 400.69,125.23 401.06,125.74 401.42,126.25 401.77,126.77 402.12,127.28 402.46,127.80 402.79,128.31 403.11,128.82 403.43,129.34 403.74,129.85 404.04,130.36 404.34,130.87 404.63,131.38 404.91,131.89 405.18,132.40 405.44,132.91 405.70,133.41 405.95,133.92 406.19,134.42 406.43,134.92 406.66,135.42 406.88,135.92 407.09,136.42 407.29,136.91 407.49,137.40 407.68,137.89 407.86,138.38 408.03,138.87 408.20,139.35 408.36,139.83 408.51,140.31 408.65,140.78 408.79,141.26 408.92,141.73 409.04,142.19 409.15,142.66 409.25,143.12 409.35,143.58 409.44,144.03 409.52,144.48 409.59,144.93 409.66,145.37 409.72,145.81 409.77,146.25 409.81,146.68 409.85,147.11 409.87,147.54 409.90,147.96 409.91,148.37 409.91,148.78 409.91,149.19 409.90,149.60 409.88,149.99 409.86,150.39 409.82,150.78 409.78,151.16 409.74,151.54 409.68,151.92 409.62,152.29 409.55,152.65 409.47,153.01 409.39,153.37 409.30,153.72 409.20,154.06 409.09,154.40 408.98,154.73 408.86,155.06 408.73,155.38 408.60,155.70 408.46,156.01 408.31,156.31 408.15,156.61 407.99,156.90 407.82,157.19 407.65,157.47 407.46,157.74 407.27,158.01 407.08,158.27 406.88,158.53 406.67,158.78 406.45,159.02 406.23,159.26 406.00,159.49 405.77,159.71 405.53,159.92 405.28,160.13 405.03,160.34 404.77,160.53 404.50,160.72 404.23,160.90 403.96,161.08 403.67,161.25 403.39,161.41 403.09,161.56 402.79,161.71 402.49,161.85 402.17,161.98 401.86,162.10 401.54,162.22 401.21,162.33 400.88,162.43 400.54,162.53 400.20,162.62 399.85,162.70 399.50,162.77 399.14,162.84 398.78,162.90 398.41,162.95 398.04,162.99 397.66,163.02 397.28,163.05 396.90,163.07 396.51,163.08 396.11,163.09 395.72,163.08 395.31,163.07 394.91,163.05 394.50,163.03 394.09,162.99 393.67,162.95 393.25,162.90 392.82,162.84 392.40,162.78 391.96,162.70 391.53,162.62 391.09,162.53 390.65,162.43 390.21,162.33 389.76,162.22 389.31,162.09 388.86,161.97 388.40,161.83 387.94,161.68 387.48,161.53 387.02,161.37 386.55,161.20 386.09,161.03 385.62,160.84 385.15,160.65 384.67,160.45 384.20,160.25 383.72,160.03 383.24,159.81 382.76,159.58 382.28,159.34 381.80,159.09 381.31,158.84 380.83,158.58 380.34,158.31 379.85,158.03 379.36,157.75 378.87,157.46 378.38,157.16 377.89,156.85 377.40,156.54 376.91,156.22 376.42,155.89 375.92,155.55 375.43,155.21 374.94,154.86 374.45,154.50 373.95,154.13 373.46,153.76 372.97,153.38 372.48,152.99 371.99,152.60 371.50,152.20 371.01,151.79 370.52,151.38 370.04,150.96 369.55,150.53 369.06,150.09 368.58,149.65 368.10,149.20 367.62,148.75 367.14,148.28 366.66,147.82 366.18,147.34 365.71,146.86 365.23,146.37 364.76,145.88 364.29,145.38 363.83,144.87 363.36,144.36 362.90,143.84 362.44,143.32 361.99,142.79 361.53,142.25 361.08,141.71 360.63,141.16 360.19,140.61 359.74,140.05 359.30,139.49 358.87,138.92 358.43,138.35 358.00,137.77 357.58,137.18 357.15,136.59 356.73,135.99 356.32,135.39 355.91,134.79 355.50,134.18 355.10,133.56 354.70,132.95 354.30,132.32 353.91,131.69 353.52,131.06 353.14,130.42 352.76,129.78 352.38,129.14 352.01,128.49 351.65,127.83 351.29,127.18 350.93,126.51 350.58,125.85 350.24,125.18 349.90,124.51 349.56,123.83 349.23,123.15 348.91,122.47 348.59,121.79 348.27,121.10 347.97,120.41 347.66,119.71 347.37,119.01 347.07,118.31 346.79,117.61 346.51,116.90 346.23,116.20 345.96,115.49 345.70,114.77 345.45,114.06 345.20,113.34 344.95,112.62 344.71,111.90 344.48,111.18 344.26,110.46 344.04,109.73 343.82,109.00 343.62,108.28 343.42,107.55 343.23,106.81 343.04,106.08 342.86,105.35 342.69,104.61 342.52,103.88 342.36,103.14 342.21,102.41 342.07,101.67 341.93,100.93 341.80,100.20 341.67,99.46 341.56,98.72 341.45,97.98 341.34,97.24 341.25,96.51 341.16,95.77 341.08,95.03 341.00,94.30 340.94,93.56 340.88,92.82 340.83,92.09 340.78,91.36 340.75,90.62 340.72,89.89 340.69,89.16 340.68,88.43 340.67,87.70 340.67,86.98 340.68,86.25 340.70,85.53 340.72,84.81 340.75,84.09 340.79,83.37 340.84,82.65 340.89,81.94 340.95,81.23 341.02,80.52 341.10,79.81 341.18,79.11 341.28,78.41 341.38,77.71 341.48,77.01 341.60,76.32 341.72,75.63 341.85,74.94 341.99,74.26 342.14,73.58 342.29,72.90 342.45,72.23 342.62,71.55 342.80,70.89 342.99,70.22 343.18,69.57 343.38,68.91 343.59,68.26 343.80,67.61 344.03,66.97 344.26,66.33 344.49,65.69 344.74,65.06 344.99,64.44 345.25,63.81 345.52,63.20" stroke="#e0302e" stroke-width="1.5" fill="none" stroke-linejoin="round"/>
<polyline points="126.30,296.90 127.32,295.59 128.35,294.23 129.41,292.84 130.46,291.45 131.51,290.07 132.54,288.72 133.55,287.43 134.52,286.22 135.44,285.10 136.30,284.10 137.07,283.26 137.73,282.60 138.32,282.05 138.86,281.59 139.39,281.18 139.94,280.75 140.53,280.29 141.21,279.74 141.98,279.05 142.90,278.20 143.95,277.18 145.08,276.04 146.31,274.80 147.60,273.48 148.95,272.11 150.35,270.69 151.79,269.25 153.25,267.81 154.72,266.39 156.20,265.00 157.69,263.63 159.21,262.23 160.76,260.81 162.33,259.39 163.94,257.96 165.57,256.53 167.24,255.11 168.93,253.72 170.65,252.34 172.40,251.00 174.17,249.68 175.96,248.38 177.78,247.09 179.62,245.82 181.49,244.56 183.40,243.32 185.36,242.09 187.35,240.88 189.40,239.68 191.50,238.50 193.68,237.32 195.94,236.12 198.27,234.93 200.66,233.75 203.07,232.59 205.50,231.46 207.92,230.38 210.33,229.35 212.69,228.39 215.00,227.50 217.30,226.67 219.64,225.86 221.98,225.10 224.33,224.38 226.64,223.72 228.90,223.13 231.09,222.61 233.18,222.18 235.16,221.84 237.00,221.60 238.72,221.46 240.34,221.42 241.86,221.46 243.30,221.58 244.66,221.78 245.93,222.06 247.13,222.40 248.25,222.81 249.31,223.28 250.30,223.80 251.22,224.39 252.06,225.07 252.82,225.81 253.51,226.63 254.13,227.51 254.68,228.44 255.16,229.42 255.57,230.45 255.91,231.51 256.20,232.60 256.42,233.73 256.57,234.93 256.65,236.17 256.66,237.46 256.61,238.79 256.49,240.16 256.31,241.56 256.06,242.98 255.76,244.43 255.40,245.90 254.95,247.44 254.41,249.08 253.78,250.79 253.08,252.54 252.34,254.29 251.56,256.03 250.75,257.71 249.95,259.30 249.16,260.77 248.40,262.10 247.65,263.27 246.89,264.32 246.12,265.26 245.34,266.13 244.56,266.93 243.77,267.68 242.97,268.42 242.18,269.15 241.39,269.91 240.60,270.70 239.81,271.52 239.02,272.32 238.23,273.12 237.44,273.91 236.65,274.69 235.86,275.47 235.07,276.24 234.28,277.00 233.49,277.75 232.70,278.50 231.92,279.25 231.13,279.99 230.35,280.73 229.57,281.47 228.79,282.19 228.02,282.91 227.24,283.61 226.46,284.29 225.68,284.96 224.90,285.60 224.12,286.22 223.34,286.82 222.56,287.39 221.78,287.95 221.01,288.50 220.23,289.03 219.45,289.56 218.67,290.08 217.88,290.59 217.10,291.10 216.31,291.60 215.52,292.10 214.73,292.58 213.94,293.06 213.15,293.53 212.36,293.99 211.57,294.44 210.78,294.90 209.99,295.35 209.20,295.80 208.42,296.25 207.64,296.71 206.86,297.17 206.08,297.63 205.30,298.08 204.52,298.51 203.74,298.94 202.96,299.35 202.18,299.74 201.40,300.10 200.61,300.44 199.82,300.77 199.03,301.07 198.24,301.37 197.45,301.64 196.66,301.90 195.87,302.15 195.08,302.38 194.29,302.60 193.50,302.80 192.70,302.99 191.88,303.18 191.06,303.36 190.22,303.52 189.40,303.66 188.59,303.79 187.81,303.89 187.06,303.96 186.35,304.00 185.70,304.00 185.09,303.97 184.52,303.93 183.99,303.85 183.49,303.75 183.01,303.62 182.57,303.47 182.14,303.28 181.74,303.05 181.36,302.80 181.00,302.50 180.65,302.16 180.33,301.78 180.02,301.37 179.74,300.92 179.47,300.44 179.24,299.93 179.03,299.40 178.86,298.85 178.71,298.28 178.60,297.70 178.51,297.10 178.45,296.48 178.40,295.83 178.39,295.15 178.41,294.46 178.46,293.75 178.55,293.03 178.68,292.30 178.87,291.55 179.10,290.80 179.39,290.03 179.75,289.24 180.16,288.42 180.62,287.59 181.11,286.75 181.63,285.91 182.17,285.06 182.72,284.23 183.26,283.41 183.80,282.60 184.34,281.80 184.90,281.00 185.48,280.19 186.07,279.39 186.68,278.60 187.28,277.82 187.89,277.05 188.50,276.31 189.10,275.59 189.70,274.90 190.29,274.24 190.88,273.61 191.47,273.00 192.06,272.42 192.65,271.85 193.24,271.29 193.83,270.74 194.42,270.20 195.01,269.65 195.60,269.10 196.19,268.54 196.78,267.99 197.37,267.44 197.96,266.89 198.55,266.35 199.14,265.82 199.73,265.29 200.32,264.78 200.91,264.28 201.50,263.80 202.09,263.33 202.68,262.87 203.27,262.42 203.86,261.98 204.46,261.55 205.05,261.13 205.64,260.73 206.23,260.34 206.81,259.96 207.40,259.60 207.98,259.25 208.56,258.92 209.14,258.60 209.72,258.29 210.30,258.00 210.88,257.72 211.46,257.45 212.04,257.19 212.62,256.94 213.20,256.70 213.79,256.47 214.39,256.25 215.00,256.03 215.61,255.83 216.22,255.64 216.82,255.46 217.42,255.30 218.00,255.15 218.56,255.01 219.10,254.90 219.62,254.80 220.13,254.72 220.63,254.64 221.12,254.59 221.59,254.54 222.06,254.52 222.51,254.51 222.95,254.52 223.38,254.55 223.80,254.60 224.21,254.67 224.63,254.75 225.03,254.85 225.42,254.97 225.81,255.11 226.17,255.27 226.52,255.45 226.84,255.64 227.13,255.86 227.40,256.10 227.64,256.37 227.85,256.66 228.04,256.98 228.20,257.32 228.34,257.68 228.47,258.05 228.57,258.44 228.66,258.82 228.74,259.21 228.80,259.60 228.85,259.99 228.88,260.38 228.90,260.77 228.90,261.18 228.88,261.59 228.85,262.01 228.79,262.44 228.72,262.88 228.62,263.33 228.50,263.80 228.36,264.28 228.20,264.78 228.01,265.29 227.81,265.82 227.59,266.35 227.35,266.89 227.09,267.44 226.81,267.99 226.51,268.54 226.20,269.10 225.87,269.66 225.52,270.24 225.16,270.82 224.78,271.41 224.38,272.00 223.96,272.59 223.52,273.18 223.06,273.76 222.59,274.34 222.10,274.90 221.58,275.46 221.04,276.01 220.46,276.56 219.87,277.11 219.26,277.65 218.65,278.18 218.03,278.71 217.41,279.22 216.80,279.72 216.20,280.20 215.61,280.67 215.02,281.13 214.43,281.58 213.84,282.02 213.25,282.45 212.66,282.87 212.07,283.27 211.48,283.66 210.89,284.04 210.30,284.40 209.71,284.75 209.12,285.09 208.53,285.41 207.94,285.72 207.35,286.02 206.76,286.30 206.17,286.57 205.58,286.83 204.99,287.07 204.40,287.30 203.80,287.52 203.20,287.72 202.59,287.92 201.98,288.10 201.38,288.27 200.77,288.42 200.18,288.55 199.60,288.66 199.04,288.74 198.50,288.80 197.97,288.84 197.44,288.86 196.92,288.86 196.40,288.84 195.91,288.80 195.43,288.74 194.97,288.64 194.55,288.53 194.16,288.38 193.80,288.20 193.48,287.99 193.18,287.74 192.91,287.45 192.67,287.14 192.46,286.81 192.27,286.45 192.11,286.08 191.98,285.69 191.87,285.30 191.80,284.90 191.76,284.49 191.75,284.05 191.76,283.59 191.81,283.12 191.89,282.64 191.99,282.15 192.11,281.65 192.25,281.16 192.42,280.68 192.60,280.20 192.80,279.73 193.03,279.27 193.28,278.81 193.56,278.35 193.86,277.89 194.17,277.42 194.51,276.95 194.86,276.48 195.22,275.99 195.60,275.50 196.00,274.99 196.42,274.46 196.87,273.92 197.33,273.37 197.81,272.81 198.30,272.26 198.79,271.72 199.29,271.19 199.80,270.68 200.30,270.20 200.80,269.73 201.31,269.28 201.83,268.83 202.35,268.40 202.88,267.98 203.41,267.57 203.95,267.18 204.49,266.80 205.04,266.44 205.60,266.10 206.17,265.77 206.74,265.45 207.33,265.15 207.92,264.86 208.51,264.58 209.11,264.32 209.71,264.09 210.31,263.87 210.91,263.67 211.50,263.50 212.10,263.35 212.72,263.22 213.35,263.11 213.98,263.02 214.60,262.94 215.21,262.89 215.81,262.86 216.37,262.85 216.91,262.87 217.40,262.90 217.86,262.96 218.30,263.03 218.72,263.13 219.11,263.25 219.48,263.39 219.82,263.56 220.14,263.74 220.42,263.94 220.68,264.16 220.90,264.40 221.09,264.67 221.24,264.96 221.37,265.28 221.46,265.63 221.53,265.99 221.57,266.36 221.59,266.74 221.58,267.13 221.55,267.52 221.50,267.90 221.42,268.29 221.32,268.68 221.19,269.09 221.03,269.50 220.86,269.91 220.66,270.33 220.44,270.75 220.21,271.17 219.96,271.59 219.70,272.00 219.42,272.41 219.13,272.83 218.81,273.25 218.48,273.67 218.13,274.09 217.77,274.50 217.39,274.91 217.00,275.32 216.61,275.71 216.20,276.10 215.78,276.48 215.35,276.85 214.90,277.21 214.44,277.57 213.96,277.92 213.48,278.26 212.99,278.61 212.50,278.94 212.00,279.27 211.50,279.60 210.99,279.93 210.48,280.25 209.95,280.57 209.42,280.89 208.89,281.21 208.35,281.51 207.81,281.80 207.27,282.08 206.73,282.35 206.20,282.60 205.66,282.84 205.11,283.08 204.55,283.30 203.99,283.52 203.44,283.73 202.89,283.91 202.36,284.07 201.84,284.21 201.36,284.32 200.90,284.40 200.46,284.45 200.04,284.47 199.63,284.47 199.23,284.45 198.86,284.40 198.50,284.33 198.18,284.23 197.89,284.11 197.62,283.97 197.40,283.80 197.22,283.60 197.07,283.36 196.96,283.09 196.88,282.80 196.83,282.48 196.80,282.15 196.79,281.81 196.78,281.47 196.79,281.13 196.80,280.80 196.82,280.47 196.85,280.11 196.90,279.75 196.96,279.38 197.03,279.01 197.12,278.64 197.22,278.28 197.33,277.94 197.46,277.61 197.60,277.30 197.76,277.01 197.94,276.73 198.13,276.46 198.35,276.20 198.57,275.95 198.80,275.71 199.03,275.49 199.26,275.28 199.48,275.08 199.70,274.90 199.91,274.74 200.12,274.60 200.33,274.47 200.54,274.37 200.75,274.27 200.96,274.18 201.17,274.09 201.38,274.00 201.59,273.90 201.80,273.80" stroke="#0000ff" stroke-width="2.4" fill="none" stroke-linejoin="round" stroke-linecap="round"/>
<polygon points="142.6,279.1 135.1,280.4 141.6,286.3" fill="#0000ff" stroke="#0000ff" stroke-width="0.8" stroke-linejoin="round"/>
<line x1="35.6" y1="214.2" x2="115.43" y2="137.12" stroke="#ff0000" stroke-width="2.3"/>
<polygon points="125.50,127.40 114.85,146.03 115.07,137.47 106.51,137.39" fill="#ff0000"/>
<line x1="9.2" y1="110.4" x2="162.64" y2="245.58" stroke="#000" stroke-width="4.8"/>
<polygon points="173.90,255.50 154.84,246.57 163.40,246.25 162.64,237.72" fill="#000"/>
<polygon points="120.1,751.3 368.2,751.3 268.9,866.5 1,866.5" fill="#dfdfdf"/>
<path d="M213.04,788.45L167.80,759.21M213.91,787.65L169.75,755.18M214.78,786.84L172.05,751.40M215.65,786.04L174.69,747.89M216.52,785.24L177.64,744.69M217.40,784.44L180.90,741.80M218.27,783.63L184.45,739.24M219.14,782.83L188.25,737.03M220.01,782.03L192.30,735.19M220.88,781.22L196.56,733.71M221.75,780.42L201.00,732.60M222.62,779.62L205.59,731.88M223.49,778.82L210.31,731.52M224.36,778.01L215.12,731.54M225.24,777.21L219.98,731.91M226.11,776.41L224.87,732.63M226.98,775.60L229.74,733.69M227.85,774.80L234.58,735.06M228.72,774.00L239.34,736.71M229.59,773.19L244.01,738.63M230.46,772.39L248.56,740.79M231.33,771.59L252.97,743.16M232.20,770.79L257.22,745.72M233.08,769.98L261.30,748.45M233.95,769.18L265.19,751.33M234.82,768.38L268.87,754.35M235.69,767.57L272.32,757.48M236.56,766.77L275.51,760.70M237.43,765.97L278.43,763.99M238.30,765.17L281.03,767.31M239.17,764.36L283.32,770.63M240.04,763.56L285.27,773.93M240.92,762.76L286.86,777.16M241.79,761.95L288.10,780.30M242.66,761.15L288.98,783.30M243.53,760.35L289.49,786.14M244.40,759.55L289.64,788.79M245.27,758.74L289.43,791.21M246.14,757.94L288.87,793.38M247.01,757.14L287.98,795.28M247.88,756.33L286.77,796.88M248.76,755.53L285.25,798.17M249.63,754.73L283.45,799.12M250.50,753.92L281.38,799.72M251.37,753.12L279.08,799.96M252.24,752.32L276.56,799.83M253.11,751.52L273.86,799.33M253.98,750.71L271.01,798.46M254.85,749.91L268.04,797.20M255.72,749.11L264.97,795.58M256.60,748.30L261.85,793.60M257.47,747.50L258.71,791.27M258.34,746.70L255.57,788.61M259.21,745.90L252.48,785.64M260.08,745.09L249.46,782.38M260.95,744.29L246.53,778.85M261.82,743.49L243.72,775.09M262.69,742.68L241.06,771.11M263.56,741.88L238.55,766.94M264.44,741.08L236.21,762.61M265.31,740.28L234.06,758.12M266.18,739.47L232.12,753.50M267.05,738.67L230.42,748.77M267.92,737.87L228.97,743.94M268.79,737.06L227.80,739.05M269.66,736.26L226.93,734.12M270.53,735.46L226.39,729.19M271.40,734.65L226.18,724.28M272.28,733.85L226.33,719.44M273.15,733.05L226.83,714.70M274.02,732.25L227.70,710.09M274.89,731.44L228.93,705.65M275.76,730.64L230.52,701.40M276.63,729.84L232.47,697.37M277.50,729.03L234.77,693.59M278.37,728.23L237.41,690.08M279.24,727.43L240.36,686.88M280.12,726.63L243.62,683.99M280.99,725.82L247.17,681.43M281.86,725.02L250.97,679.22M282.73,724.22L255.02,677.38M283.60,723.41L259.28,675.90M284.47,722.61L263.72,674.79M285.34,721.81L268.31,674.07M286.21,721.01L273.03,673.71M287.08,720.20L277.84,673.73M287.96,719.40L282.70,674.10M288.83,718.60L287.59,674.82M289.70,717.79L292.46,675.88M290.57,716.99L297.30,677.25M291.44,716.19L302.06,678.90M292.31,715.38L306.73,680.82M293.18,714.58L311.28,682.98M294.05,713.78L315.69,685.35M294.92,712.98L319.94,687.91M295.80,712.17L324.02,690.64M296.67,711.37L327.91,693.52M297.54,710.57L331.59,696.54M298.41,709.76L335.04,699.67M299.28,708.96L338.23,702.89M300.15,708.16L341.15,706.18M301.02,707.36L343.75,709.50M301.89,706.55L346.04,712.82M302.76,705.75L347.99,716.12M303.64,704.95L349.58,719.35M304.51,704.14L350.82,722.49M305.38,703.34L351.70,725.49M306.25,702.54L352.21,728.33M307.12,701.74L352.36,730.98M307.99,700.93L352.15,733.40M308.86,700.13L351.59,735.57M309.73,699.33L350.70,737.47M310.60,698.52L349.49,739.07M311.48,697.72L347.97,740.36M312.35,696.92L346.17,741.31M313.22,696.11L344.10,741.91M314.09,695.31L341.80,742.15M314.96,694.51L339.28,742.02M315.83,693.71L336.58,741.52M316.70,692.90L333.73,740.65M317.57,692.10L330.76,739.39M318.44,691.30L327.69,737.77M319.32,690.49L324.57,735.79M320.19,689.69L321.43,733.46M321.06,688.89L318.29,730.80M321.93,688.09L315.20,727.83M322.80,687.28L312.18,724.57M323.67,686.48L309.25,721.04M324.54,685.68L306.44,717.28M325.41,684.87L303.78,713.30M326.28,684.07L301.27,709.13M327.16,683.27L298.93,704.80M328.03,682.47L296.78,700.31M328.90,681.66L294.84,695.69M329.77,680.86L293.14,690.96M330.64,680.06L291.69,686.13M331.51,679.25L290.52,681.24M332.38,678.45L289.65,676.31M333.25,677.65L289.11,671.38M334.12,676.84L288.90,666.47M335.00,676.04L289.05,661.63M335.87,675.24L289.55,656.89M336.74,674.44L290.42,652.28M337.61,673.63L291.65,647.84M338.48,672.83L293.24,643.59M339.35,672.03L295.19,639.56M340.22,671.22L297.49,635.78M341.09,670.42L300.13,632.27M341.96,669.62L303.08,629.07M342.84,668.82L306.34,626.18M343.71,668.01L309.89,623.62M344.58,667.21L313.69,621.41M345.45,666.41L317.74,619.57M346.32,665.60L322.00,618.09M347.19,664.80L326.44,616.98M348.06,664.00L331.03,616.26M348.93,663.20L335.75,615.90M349.80,662.39L340.56,615.92M350.68,661.59L345.42,616.29M351.55,660.79L350.31,617.01M352.42,659.98L355.18,618.07M353.29,659.18L360.02,619.44M354.16,658.38L364.78,621.09M355.03,657.57L369.45,623.01M355.90,656.77L374.00,625.17M356.77,655.97L378.41,627.54M357.64,655.17L382.66,630.10M358.52,654.36L386.74,632.83M359.39,653.56L390.63,635.71M360.26,652.76L394.31,638.73M361.13,651.95L397.76,641.86M362.00,651.15L400.95,645.08M362.87,650.35L403.87,648.37M363.74,649.55L406.47,651.69M364.61,648.74L408.76,655.01M365.48,647.94L410.71,658.31M366.36,647.14L412.30,661.54M367.23,646.33L413.54,664.68M368.10,645.53L414.42,667.68M368.97,644.73L414.93,670.52M369.84,643.93L415.08,673.17M370.71,643.12L414.87,675.59M371.58,642.32L414.31,677.76M372.45,641.52L413.42,679.66M373.32,640.71L412.21,681.26M374.20,639.91L410.69,682.55M375.07,639.11L408.89,683.50M375.94,638.30L406.82,684.10M376.81,637.50L404.52,684.34M377.68,636.70L402.00,684.21M378.55,635.90L399.30,683.71M379.42,635.09L396.45,682.84M380.29,634.29L393.48,681.58M381.16,633.49L390.41,679.96M382.04,632.68L387.29,677.98M382.91,631.88L384.15,675.65M383.78,631.08L381.01,672.99M384.65,630.28L377.92,670.02M385.52,629.47L374.90,666.76M386.39,628.67L371.97,663.23M387.26,627.87L369.16,659.47M388.13,627.06L366.50,655.49M389.00,626.26L363.99,651.32M389.88,625.46L361.65,646.99M390.75,624.65L359.50,642.50M391.62,623.85L357.56,637.88M392.49,623.05L355.86,633.15M393.36,622.25L354.41,628.32M394.23,621.44L353.24,623.43M395.10,620.64L352.37,618.50M395.97,619.84L351.83,613.57M396.84,619.03L351.62,608.66M397.72,618.23L351.77,603.82M398.59,617.43L352.27,599.08M399.46,616.63L353.14,594.47M400.33,615.82L354.37,590.03M401.20,615.02L355.96,585.78" stroke="#000" stroke-width="0.7" stroke-opacity="0.7" fill="none"/>
<path d="M165.52,757.73L169.16,758.36L167.59,760.79ZM167.56,753.57L171.16,754.41L169.44,756.75ZM169.96,749.66L173.50,750.72L171.65,752.95ZM172.70,746.04L176.17,747.30L174.20,749.42ZM175.76,742.72L179.16,744.17L177.07,746.18ZM179.13,739.73L182.45,741.37L180.24,743.26ZM182.80,737.08L186.01,738.90L183.71,740.66ZM186.73,734.78L189.84,736.79L187.43,738.41ZM190.91,732.85L193.89,735.03L191.40,736.51ZM195.32,731.29L198.16,733.65L195.58,734.98ZM199.92,730.11L202.60,732.65L199.94,733.81ZM204.68,729.31L207.19,732.03L204.46,733.00ZM209.58,728.90L211.89,731.79L209.10,732.57ZM214.59,728.87L216.67,731.92L213.83,732.49ZM219.67,729.21L221.50,732.42L218.62,732.75ZM224.79,729.91L226.34,733.27L223.44,733.35ZM229.92,730.98L231.15,734.46L228.25,734.27ZM235.03,732.37L235.90,735.97L233.04,735.48ZM240.09,734.10L240.55,737.76L237.76,736.97ZM245.06,736.12L245.09,739.82L242.41,738.70ZM249.91,738.43L249.48,742.10L246.96,740.66ZM254.61,741.00L253.71,744.58L251.40,742.83ZM259.14,743.80L257.77,747.23L255.71,745.18ZM263.46,746.80L261.64,750.02L259.88,747.71ZM267.55,749.99L265.32,752.93L263.88,750.41ZM271.39,753.31L268.80,755.95L267.69,753.27ZM274.94,756.76L272.05,759.06L271.28,756.26ZM278.20,760.28L275.07,762.24L274.62,759.37ZM281.14,763.85L277.82,765.47L277.68,762.57ZM283.75,767.44L280.28,768.72L280.43,765.83ZM286.01,771.02L282.44,771.97L282.85,769.10ZM287.92,774.54L284.28,775.19L284.93,772.37ZM289.46,777.98L285.78,778.34L286.65,775.58ZM290.63,781.30L286.94,781.40L288.00,778.70ZM291.43,784.48L287.74,784.32L288.99,781.70ZM291.86,787.47L288.18,787.07L289.60,784.54ZM291.92,790.27L288.28,789.64L289.85,787.20ZM291.62,792.82L288.02,791.98L289.74,789.64ZM290.97,795.12L287.42,794.07L289.27,791.83ZM289.97,797.14L286.49,795.88L288.47,793.76ZM288.65,798.85L285.25,797.40L287.34,795.39ZM287.02,800.23L283.71,798.59L285.91,796.71ZM285.10,801.28L281.88,799.46L284.19,797.70ZM282.90,801.97L279.80,799.97L282.20,798.35ZM280.46,802.30L277.48,800.11L279.98,798.64ZM277.80,802.25L274.96,799.89L277.54,798.57ZM274.95,801.83L272.26,799.29L274.92,798.13ZM271.92,801.02L269.42,798.30L272.15,797.33ZM268.77,799.82L266.46,796.94L269.25,796.16ZM265.50,798.25L263.42,795.20L266.26,794.63ZM262.16,796.30L260.33,793.09L263.21,792.76ZM258.78,793.99L257.24,790.64L260.14,790.55ZM255.39,791.33L254.17,787.84L257.06,788.03ZM252.02,788.32L251.16,784.73L254.02,785.21ZM248.71,784.99L248.25,781.33L251.04,782.12ZM245.48,781.36L245.45,777.66L248.13,778.78ZM242.37,777.45L242.80,773.78L245.32,775.22ZM239.41,773.27L240.32,769.69L242.62,771.45ZM236.63,768.87L238.00,765.44L240.06,767.49ZM234.05,764.26L235.87,761.04L237.63,763.35ZM231.70,759.47L233.93,756.52L235.37,759.04ZM229.61,754.54L232.20,751.90L233.30,754.58ZM227.79,749.49L230.69,747.19L231.46,749.98ZM226.28,744.36L229.41,742.40L229.86,745.27ZM225.08,739.18L228.41,737.57L228.55,740.46ZM224.21,733.98L227.68,732.70L227.54,735.60ZM223.69,728.80L227.26,727.85L226.86,730.72ZM223.53,723.68L227.17,723.02L226.52,725.85ZM223.73,718.63L227.41,718.26L226.54,721.03ZM224.30,713.70L228.00,713.61L226.93,716.30ZM225.25,708.92L228.94,709.08L227.69,711.70ZM226.56,704.32L230.23,704.72L228.81,707.25ZM228.24,699.92L231.88,700.55L230.31,702.98ZM230.28,695.76L233.88,696.60L232.16,698.94ZM232.68,691.85L236.22,692.91L234.37,695.14ZM235.42,688.23L238.89,689.49L236.92,691.61ZM238.48,684.91L241.88,686.36L239.79,688.37ZM241.85,681.92L245.17,683.56L242.96,685.45ZM245.52,679.27L248.73,681.09L246.43,682.85ZM249.45,676.97L252.56,678.98L250.15,680.60ZM253.63,675.04L256.61,677.22L254.12,678.70ZM258.04,673.48L260.88,675.84L258.30,677.17ZM262.64,672.30L265.32,674.84L262.66,676.00ZM267.40,671.50L269.91,674.22L267.18,675.19ZM272.30,671.09L274.61,673.98L271.82,674.76ZM277.31,671.06L279.39,674.11L276.55,674.68ZM282.39,671.40L284.22,674.61L281.34,674.94ZM287.51,672.10L289.06,675.46L286.16,675.54ZM292.64,673.17L293.87,676.65L290.97,676.46ZM297.75,674.56L298.62,678.16L295.76,677.67ZM302.81,676.29L303.27,679.95L300.48,679.16ZM307.78,678.31L307.81,682.01L305.13,680.89ZM312.63,680.62L312.20,684.29L309.68,682.85ZM317.33,683.19L316.43,686.77L314.12,685.02ZM321.86,685.99L320.49,689.42L318.43,687.37ZM326.18,688.99L324.36,692.21L322.60,689.90ZM330.27,692.18L328.04,695.12L326.60,692.60ZM334.11,695.50L331.52,698.14L330.41,695.46ZM337.66,698.95L334.77,701.25L334.00,698.45ZM340.92,702.47L337.79,704.43L337.34,701.56ZM343.86,706.04L340.54,707.66L340.40,704.76ZM346.47,709.63L343.00,710.91L343.15,708.02ZM348.73,713.21L345.16,714.16L345.57,711.29ZM350.64,716.73L347.00,717.38L347.65,714.56ZM352.18,720.17L348.50,720.53L349.37,717.77ZM353.35,723.49L349.66,723.59L350.72,720.89ZM354.15,726.67L350.46,726.51L351.71,723.89ZM354.58,729.66L350.90,729.26L352.32,726.73ZM354.64,732.46L351.00,731.83L352.57,729.39ZM354.34,735.01L350.74,734.17L352.46,731.83ZM353.69,737.31L350.14,736.26L351.99,734.02ZM352.69,739.33L349.21,738.07L351.19,735.95ZM351.37,741.04L347.97,739.59L350.06,737.58ZM349.74,742.42L346.43,740.78L348.63,738.90ZM347.82,743.47L344.60,741.65L346.91,739.89ZM345.62,744.16L342.52,742.16L344.92,740.54ZM343.18,744.49L340.20,742.30L342.70,740.83ZM340.52,744.44L337.68,742.08L340.26,740.76ZM337.67,744.02L334.98,741.48L337.64,740.32ZM334.64,743.21L332.14,740.49L334.87,739.52ZM331.49,742.01L329.18,739.13L331.97,738.35ZM328.22,740.44L326.14,737.39L328.98,736.82ZM324.88,738.49L323.05,735.28L325.93,734.95ZM321.50,736.18L319.96,732.83L322.86,732.74ZM318.11,733.52L316.89,730.03L319.78,730.22ZM314.74,730.51L313.88,726.92L316.74,727.40ZM311.43,727.18L310.97,723.52L313.76,724.31ZM308.20,723.55L308.17,719.85L310.85,720.97ZM305.09,719.64L305.52,715.97L308.04,717.41ZM302.13,715.46L303.04,711.88L305.34,713.64ZM299.35,711.06L300.72,707.63L302.78,709.68ZM296.77,706.45L298.59,703.23L300.35,705.54ZM294.42,701.66L296.65,698.71L298.09,701.23ZM292.33,696.73L294.92,694.09L296.02,696.77ZM290.51,691.68L293.41,689.38L294.18,692.17ZM289.00,686.55L292.13,684.59L292.58,687.46ZM287.80,681.37L291.13,679.76L291.27,682.65ZM286.93,676.17L290.40,674.89L290.26,677.79ZM286.41,670.99L289.98,670.04L289.58,672.91ZM286.25,665.87L289.89,665.21L289.24,668.04ZM286.45,660.82L290.13,660.45L289.26,663.22ZM287.02,655.89L290.72,655.80L289.65,658.49ZM287.97,651.11L291.66,651.27L290.41,653.89ZM289.28,646.51L292.95,646.91L291.53,649.44ZM290.96,642.11L294.60,642.74L293.03,645.17ZM293.00,637.95L296.60,638.79L294.88,641.13ZM295.40,634.04L298.94,635.10L297.09,637.33ZM298.14,630.42L301.61,631.68L299.64,633.80ZM301.20,627.10L304.60,628.55L302.51,630.56ZM304.57,624.11L307.89,625.75L305.68,627.64ZM308.24,621.46L311.45,623.28L309.15,625.04ZM312.17,619.16L315.28,621.17L312.87,622.79ZM316.35,617.23L319.33,619.41L316.84,620.89ZM320.76,615.67L323.60,618.03L321.02,619.36ZM325.36,614.49L328.04,617.03L325.38,618.19ZM330.12,613.69L332.63,616.41L329.90,617.38ZM335.02,613.28L337.33,616.17L334.54,616.95ZM340.03,613.25L342.11,616.30L339.27,616.87ZM345.11,613.59L346.94,616.80L344.06,617.13ZM350.23,614.29L351.78,617.65L348.88,617.73ZM355.36,615.36L356.59,618.84L353.69,618.65ZM360.47,616.75L361.34,620.35L358.48,619.86ZM365.53,618.48L365.99,622.14L363.20,621.35ZM370.50,620.50L370.53,624.20L367.85,623.08ZM375.35,622.81L374.92,626.48L372.40,625.04ZM380.05,625.38L379.15,628.96L376.84,627.21ZM384.58,628.18L383.21,631.61L381.15,629.56ZM388.90,631.18L387.08,634.40L385.32,632.09ZM392.99,634.37L390.76,637.31L389.32,634.79ZM396.83,637.69L394.24,640.33L393.13,637.65ZM400.38,641.14L397.49,643.44L396.72,640.64ZM403.64,644.66L400.51,646.62L400.06,643.75ZM406.58,648.23L403.26,649.85L403.12,646.95ZM409.19,651.82L405.72,653.10L405.87,650.21ZM411.45,655.40L407.88,656.35L408.29,653.48ZM413.36,658.92L409.72,659.57L410.37,656.75ZM414.90,662.36L411.22,662.72L412.09,659.96ZM416.07,665.68L412.38,665.78L413.44,663.08ZM416.87,668.86L413.18,668.70L414.43,666.08ZM417.30,671.85L413.62,671.45L415.04,668.92ZM417.36,674.65L413.72,674.02L415.29,671.58ZM417.06,677.20L413.46,676.36L415.18,674.02ZM416.41,679.50L412.86,678.45L414.71,676.21ZM415.41,681.52L411.93,680.26L413.91,678.14ZM414.09,683.23L410.69,681.78L412.78,679.77ZM412.46,684.61L409.15,682.97L411.35,681.09ZM410.54,685.66L407.32,683.84L409.63,682.08ZM408.34,686.35L405.24,684.35L407.64,682.73ZM405.90,686.68L402.92,684.49L405.42,683.02ZM403.24,686.63L400.40,684.27L402.98,682.95ZM400.39,686.21L397.70,683.67L400.36,682.51ZM397.36,685.40L394.86,682.68L397.59,681.71ZM394.21,684.20L391.90,681.32L394.69,680.54ZM390.94,682.63L388.86,679.58L391.70,679.01ZM387.60,680.68L385.77,677.47L388.65,677.14ZM384.22,678.37L382.68,675.02L385.58,674.93ZM380.83,675.71L379.61,672.22L382.50,672.41ZM377.46,672.70L376.60,669.11L379.46,669.59ZM374.15,669.37L373.69,665.71L376.48,666.50ZM370.92,665.74L370.89,662.04L373.57,663.16ZM367.81,661.83L368.24,658.16L370.76,659.60ZM364.85,657.65L365.76,654.07L368.06,655.83ZM362.07,653.25L363.44,649.82L365.50,651.87ZM359.49,648.64L361.31,645.42L363.07,647.73ZM357.14,643.85L359.37,640.90L360.81,643.42ZM355.05,638.92L357.64,636.28L358.74,638.96ZM353.23,633.87L356.13,631.57L356.90,634.36ZM351.72,628.74L354.85,626.78L355.30,629.65ZM350.52,623.56L353.85,621.95L353.99,624.84ZM349.65,618.36L353.12,617.08L352.98,619.98ZM349.13,613.18L352.70,612.23L352.30,615.10ZM348.97,608.06L352.61,607.40L351.96,610.23ZM349.17,603.01L352.85,602.64L351.98,605.41ZM349.74,598.08L353.44,597.99L352.37,600.68ZM350.69,593.30L354.38,593.46L353.13,596.08ZM352.00,588.70L355.67,589.10L354.25,591.63ZM353.68,584.30L357.32,584.93L355.75,587.36Z" fill="#111" stroke="none"/>
<line x1="213.04" y1="788.45" x2="401.20" y2="615.02" stroke="#000" stroke-width="1.4"/>
<line x1="401.20" y1="615.02" x2="440.87" y2="578.59" stroke="#000" stroke-width="1.8"/>
<polygon points="447.50,572.50 440.77,584.39 440.50,578.93 435.08,578.20" fill="#000"/>
<polyline points="164.09,756.81 164.37,756.18 164.66,755.55 164.95,754.93 165.25,754.32 165.55,753.71 165.87,753.11 166.19,752.51 166.52,751.92 166.86,751.33 167.20,750.75 167.56,750.17 167.92,749.60 168.28,749.04 168.66,748.48 169.04,747.93 169.43,747.38 169.83,746.84 170.23,746.31 170.64,745.78 171.06,745.26 171.48,744.75 171.92,744.24 172.35,743.74 172.80,743.25 173.25,742.76 173.71,742.28 174.18,741.80 174.65,741.34 175.13,740.88 175.62,740.42 176.11,739.98 176.61,739.54 177.11,739.11 177.62,738.68 178.14,738.27 178.67,737.86 179.20,737.45 179.73,737.06 180.27,736.67 180.82,736.29 181.38,735.92 181.94,735.55 182.50,735.19 183.07,734.84 183.65,734.50 184.23,734.17 184.82,733.84 185.42,733.52 186.01,733.21 186.62,732.90 187.23,732.61 187.84,732.32 188.46,732.04 189.08,731.77 189.71,731.50 190.35,731.25 190.99,731.00 191.63,730.76 192.28,730.53 192.93,730.31 193.59,730.09 194.25,729.88 194.91,729.68 195.58,729.49 196.25,729.31 196.93,729.13 197.61,728.97 198.30,728.81 198.99,728.66 199.68,728.52 200.37,728.38 201.07,728.26 201.77,728.14 202.48,728.03 203.19,727.93 203.90,727.83 204.61,727.75 205.33,727.67 206.05,727.60 206.78,727.54 207.50,727.49 208.23,727.45 208.96,727.41 209.69,727.38 210.43,727.36 211.16,727.35 211.90,727.35 212.64,727.35 213.39,727.37 214.13,727.39 214.88,727.42 215.62,727.45 216.37,727.50 217.12,727.55 217.88,727.61 218.63,727.68 219.38,727.76 220.14,727.84 220.89,727.93 221.65,728.03 222.40,728.14 223.16,728.25 223.92,728.38 224.68,728.51 225.44,728.64 226.19,728.79 226.95,728.94 227.71,729.10 228.47,729.27 229.23,729.45 229.98,729.63 230.74,729.82 231.50,730.02 232.25,730.22 233.01,730.43 233.76,730.65 234.51,730.88 235.27,731.11 236.02,731.35 236.77,731.59 237.52,731.85 238.26,732.11 239.01,732.37 239.75,732.64 240.49,732.92 241.23,733.21 241.97,733.50 242.71,733.80 243.44,734.11 244.17,734.42 244.90,734.73 245.63,735.06 246.35,735.39 247.07,735.72 247.79,736.07 248.51,736.41 249.22,736.77 249.93,737.12 250.64,737.49 251.34,737.86 252.04,738.23 252.74,738.61 253.43,739.00 254.12,739.39 254.81,739.79 255.49,740.19 256.17,740.59 256.85,741.01 257.52,741.42 258.19,741.84 258.85,742.27 259.51,742.70 260.16,743.13 260.81,743.57 261.46,744.01 262.10,744.46 262.73,744.91 263.36,745.37 263.99,745.82 264.61,746.29 265.23,746.75 265.84,747.22 266.45,747.70 267.05,748.17 267.65,748.66 268.24,749.14 268.82,749.63 269.40,750.12 269.97,750.61 270.54,751.11 271.11,751.60 271.66,752.11 272.21,752.61 272.76,753.12 273.30,753.63 273.83,754.14 274.36,754.65 274.88,755.17 275.39,755.68 275.90,756.20 276.40,756.73 276.90,757.25 277.39,757.77 277.87,758.30 278.35,758.83 278.82,759.36 279.28,759.89 279.73,760.42 280.18,760.95 280.63,761.48 281.06,762.02 281.49,762.55 281.91,763.09 282.32,763.62 282.73,764.16 283.13,764.69 283.52,765.23 283.91,765.77 284.29,766.30 284.66,766.84 285.02,767.38 285.38,767.91 285.73,768.45 286.07,768.98 286.40,769.52 286.73,770.05 287.05,770.58 287.36,771.11 287.66,771.64 287.96,772.17 288.24,772.70 288.52,773.23 288.80,773.75 289.06,774.28 289.32,774.80 289.57,775.32 289.81,775.84 290.04,776.35 290.27,776.87 290.49,777.38 290.70,777.89 290.90,778.40 291.09,778.90 291.28,779.40 291.46,779.90 291.63,780.40 291.79,780.89 291.95,781.39 292.09,781.87 292.23,782.36 292.36,782.84 292.49,783.32 292.60,783.79 292.71,784.26 292.81,784.73 292.90,785.20 292.98,785.66 293.06,786.11 293.12,786.57 293.18,787.01 293.23,787.46 293.28,787.90 293.31,788.33 293.34,788.76 293.36,789.19 293.37,789.61 293.38,790.03 293.37,790.44 293.36,790.85 293.34,791.25 293.31,791.65 293.28,792.04 293.24,792.43 293.19,792.81 293.13,793.19 293.07,793.56 292.99,793.93 292.91,794.29 292.82,794.64 292.73,794.99 292.63,795.34 292.52,795.67 292.40,796.00 292.27,796.33 292.14,796.65 292.00,796.96 291.86,797.27 291.70,797.57 291.54,797.86 291.37,798.15 291.20,798.43 291.02,798.71 290.83,798.98 290.63,799.24 290.43,799.49 290.22,799.74 290.00,799.98 289.78,800.22 289.55,800.44 289.32,800.67 289.07,800.88 288.82,801.09 288.57,801.28 288.31,801.48 288.04,801.66 287.77,801.84 287.49,802.01 287.20,802.17 286.91,802.33 286.61,802.47 286.30,802.61 285.99,802.75 285.68,802.87 285.36,802.99 285.03,803.10 284.70,803.20 284.36,803.30 284.02,803.38 283.67,803.46 283.32,803.53 282.96,803.60 282.59,803.65 282.22,803.70 281.85,803.74 281.47,803.77 281.09,803.79 280.70,803.81 280.31,803.81 279.91,803.81 279.51,803.80 279.10,803.79 278.69,803.76 278.27,803.73 277.86,803.69 277.43,803.64 277.01,803.58 276.58,803.51 276.14,803.44 275.70,803.36 275.26,803.27 274.82,803.17 274.37,803.06 273.92,802.95 273.46,802.82 273.00,802.69 272.54,802.55 272.08,802.40 271.61,802.25 271.14,802.08 270.67,801.91 270.19,801.73 269.72,801.54 269.24,801.34 268.76,801.14 268.27,800.93 267.79,800.70 267.30,800.48 266.81,800.24 266.31,799.99 265.82,799.74 265.33,799.48 264.83,799.21 264.33,798.93 263.83,798.65 263.33,798.35 262.83,798.05 262.33,797.74 261.82,797.43 261.32,797.10 260.81,796.77 260.31,796.43 259.80,796.08 259.29,795.72 258.79,795.36 258.28,794.99 257.77,794.61 257.27,794.23 256.76,793.83 256.25,793.43 255.74,793.03 255.24,792.61 254.73,792.19 254.23,791.76 253.72,791.32 253.22,790.88 252.72,790.43 252.21,789.97 251.71,789.51 251.21,789.03 250.72,788.55 250.22,788.07 249.72,787.58 249.23,787.08 248.74,786.57 248.25,786.06 247.76,785.54 247.27,785.02 246.79,784.49 246.30,783.95 245.82,783.41 245.35,782.86 244.87,782.30 244.40,781.74 243.93,781.17 243.46,780.60 243.00,780.02 242.54,779.43 242.08,778.84 241.62,778.24 241.17,777.64 240.72,777.03 240.27,776.42 239.83,775.80 239.39,775.18 238.96,774.55 238.53,773.92 238.10,773.28 237.68,772.64 237.26,771.99 236.84,771.34 236.43,770.68 236.02,770.02 235.62,769.35 235.22,768.68 234.83,768.00 234.44,767.33 234.06,766.64 233.68,765.95 233.30,765.26 232.93,764.57 232.57,763.87 232.21,763.17 231.85,762.46 231.50,761.75 231.16,761.04 230.82,760.32 230.49,759.61 230.16,758.88 229.84,758.16 229.52,757.43 229.21,756.70 228.91,755.97 228.61,755.23 228.31,754.49 228.03,753.75 227.75,753.01 227.47,752.26 227.20,751.52 226.94,750.77 226.68,750.01 226.43,749.26 226.19,748.51 225.95,747.75 225.72,746.99 225.50,746.23 225.28,745.47 225.07,744.71 224.87,743.95 224.67,743.18 224.48,742.42 224.30,741.65 224.12,740.89 223.95,740.12 223.79,739.35 223.64,738.59 223.49,737.82 223.35,737.05 223.22,736.28 223.09,735.52 222.97,734.75 222.86,733.98 222.76,733.21 222.66,732.45 222.57,731.68 222.49,730.92 222.42,730.15 222.35,729.39 222.29,728.62 222.24,727.86 222.20,727.10 222.16,726.34 222.13,725.59 222.11,724.83 222.10,724.07 222.10,723.32 222.10,722.57 222.11,721.82 222.13,721.07 222.15,720.33 222.19,719.59 222.23,718.84 222.28,718.11 222.34,717.37 222.41,716.64 222.48,715.91 222.56,715.18 222.65,714.45 222.75,713.73 222.85,713.01 222.97,712.30 223.09,711.58 223.22,710.87 223.36,710.17 223.50,709.47 223.66,708.77 223.82,708.07 223.99,707.38 224.16,706.70 224.35,706.01 224.54,705.33 224.74,704.66 224.95,703.99 225.17,703.32 225.39,702.66 225.63,702.00 225.87,701.35 226.11,700.70 226.37,700.06 226.63,699.42 226.91,698.79 227.18,698.16 227.47,697.54 227.77,696.92 228.07,696.31 228.38,695.70 228.70,695.10 229.02,694.50 229.35,693.91 229.69,693.32 230.04,692.74 230.40,692.17 230.76,691.60 231.13,691.04 231.51,690.49 231.89,689.94 232.28,689.39 232.68,688.85 233.09,688.32 233.50,687.80 233.92,687.28 234.35,686.77 234.78,686.26 235.22,685.77 235.67,685.27 236.12,684.79 236.59,684.31 237.05,683.84 237.53,683.37 238.01,682.92 238.50,682.46 238.99,682.02 239.49,681.58 240.00,681.15 240.52,680.73 241.04,680.32 241.56,679.91 242.09,679.51 242.63,679.12 243.18,678.73 243.73,678.35 244.28,677.98 244.84,677.62 245.41,677.27 245.99,676.92 246.56,676.58 247.15,676.25 247.74,675.92 248.33,675.60 248.93,675.30 249.54,674.99 250.15,674.70 250.77,674.42 251.39,674.14 252.01,673.87 252.64,673.61 253.28,673.36 253.92,673.11 254.57,672.87 255.21,672.64 255.87,672.42 256.53,672.21 257.19,672.00 257.85,671.81 258.53,671.62 259.20,671.44 259.88,671.27 260.56,671.10 261.25,670.95 261.94,670.80 262.63,670.66 263.33,670.53 264.03,670.41 264.73,670.29 265.44,670.18 266.15,670.09 266.86,669.99 267.57,669.91 268.29,669.84 269.01,669.77 269.74,669.72 270.46,669.67 271.19,669.62 271.92,669.59 272.66,669.57 273.39,669.55 274.13,669.54 274.87,669.54 275.61,669.55 276.35,669.56 277.10,669.59 277.85,669.62 278.59,669.66 279.34,669.70 280.09,669.76 280.85,669.82 281.60,669.89 282.35,669.97 283.11,670.06 283.86,670.15 284.62,670.26 285.38,670.37 286.13,670.48 286.89,670.61 287.65,670.74 288.41,670.88 289.17,671.03 289.92,671.19 290.68,671.35 291.44,671.52 292.20,671.70 292.96,671.88 293.71,672.07 294.47,672.27 295.22,672.48 295.98,672.69 296.73,672.91 297.49,673.14 298.24,673.38 298.99,673.62 299.74,673.87 300.48,674.12 301.23,674.38 301.98,674.65 302.72,674.93 303.46,675.21 304.20,675.50 304.94,675.79 305.67,676.09 306.40,676.40 307.14,676.71 307.86,677.03 308.59,677.36 309.31,677.69 310.03,678.03 310.75,678.37 311.47,678.72 312.18,679.07 312.89,679.43 313.59,679.80 314.30,680.17 315.00,680.55 315.69,680.93 316.38,681.32 317.07,681.71 317.76,682.11 318.44,682.51 319.12,682.92 319.79,683.33 320.46,683.75 321.13,684.17 321.79,684.60 322.45,685.03 323.10,685.47 323.75,685.91 324.39,686.35 325.03,686.80 325.66,687.25 326.29,687.71 326.92,688.17 327.54,688.63 328.15,689.10 328.76,689.57 329.37,690.05 329.97,690.52 330.56,691.01 331.15,691.49 331.73,691.98 332.31,692.47 332.88,692.97 333.45,693.46 334.01,693.96 334.57,694.46 335.12,694.97 335.66,695.48 336.20,695.99 336.73,696.50 337.25,697.01 337.77,697.53 338.28,698.05 338.79,698.57 339.29,699.09 339.78,699.61 340.27,700.14 340.75,700.67 341.22,701.19 341.69,701.72 342.15,702.25 342.61,702.78 343.05,703.32 343.49,703.85 343.92,704.38 344.35,704.92 344.77,705.45 345.18,705.99 345.59,706.53 345.98,707.06 346.37,707.60 346.76,708.14 347.13,708.67 347.50,709.21 347.86,709.74 348.22,710.28 348.56,710.82 348.90,711.35 349.23,711.88 349.55,712.42 349.87,712.95 350.18,713.48 350.48,714.01 350.77,714.54 351.06,715.07 351.34,715.59 351.61,716.12 351.87,716.64 352.12,717.16 352.37,717.68 352.61,718.20 352.84,718.71 353.06,719.23 353.28,719.74 353.49,720.25 353.69,720.76 353.88,721.26 354.06,721.76 354.24,722.26 354.40,722.76 354.56,723.25 354.72,723.74 354.86,724.23 355.00,724.71 355.12,725.19 355.24,725.67 355.36,726.14 355.46,726.61 355.56,727.08 355.65,727.54 355.73,728.00 355.80,728.45 355.86,728.91 355.92,729.35 355.97,729.80 356.01,730.23 356.04,730.67 356.07,731.10 356.08,731.52 356.09,731.94 356.10,732.36 356.09,732.77 356.08,733.18 356.05,733.58 356.02,733.97 355.99,734.36 355.94,734.75 355.89,735.13 355.83,735.50 355.76,735.87 355.69,736.24 355.60,736.60 355.51,736.95 355.42,737.30 355.31,737.64 355.20,737.97 355.08,738.30 354.95,738.63 354.82,738.94 354.67,739.25 354.53,739.56 354.37,739.86 354.21,740.15 354.04,740.44 353.86,740.72 353.67,740.99 353.48,741.25 353.29,741.51 353.08,741.77 352.87,742.01 352.65,742.25 352.43,742.48 352.19,742.71 351.96,742.93 351.71,743.14 351.46,743.34 351.20,743.54 350.94,743.73 350.67,743.91 350.39,744.09 350.11,744.25 349.82,744.41 349.53,744.57 349.23,744.71 348.92,744.85 348.61,744.98 348.29,745.10 347.97,745.22 347.64,745.32 347.31,745.42 346.97,745.52 346.62,745.60 346.27,745.68 345.92,745.74 345.56,745.80 345.19,745.86 344.82,745.90 344.44,745.94 344.06,745.97 343.68,745.99 343.29,746.00 342.89,746.00 342.49,746.00 342.09,745.99 341.68,745.97 341.27,745.94 340.86,745.91 340.44,745.86 340.01,745.81 339.58,745.75 339.15,745.68 338.72,745.60 338.28,745.52 337.83,745.42 337.39,745.32 336.94,745.21 336.49,745.10 336.03,744.97 335.57,744.84 335.11,744.69 334.64,744.54 334.18,744.38 333.70,744.22 333.23,744.04 332.76,743.86 332.28,743.67 331.80,743.47 331.31,743.26 330.83,743.04 330.34,742.82 329.85,742.59 329.36,742.35 328.87,742.10 328.38,741.84 327.88,741.58 327.38,741.31 326.88,741.03 326.38,740.74 325.88,740.44 325.38,740.14 324.88,739.83 324.37,739.51 323.87,739.18 323.36,738.85 322.86,738.50 322.35,738.15 321.85,737.79 321.34,737.43 320.83,737.06 320.32,736.68 319.82,736.29 319.31,735.89 318.80,735.49 318.30,735.08 317.79,734.66 317.28,734.24 316.78,733.80 316.27,733.37 315.77,732.92 315.27,732.47 314.77,732.01 314.27,731.54 313.77,731.06 313.27,730.58 312.77,730.10 312.28,729.60 311.78,729.10 311.29,728.59 310.80,728.08 310.32,727.56 309.83,727.03 309.35,726.50 308.86,725.96 308.38,725.41 307.91,724.86 307.43,724.30 306.96,723.74 306.49,723.17 306.03,722.59 305.56,722.01 305.10,721.42 304.64,720.83 304.19,720.23 303.74,719.63 303.29,719.02 302.85,718.41 302.41,717.79 301.97,717.16 301.54,716.53 301.11,715.90 300.68,715.26 300.26,714.61 299.84,713.96 299.43,713.31 299.02,712.65 298.61,711.98 298.21,711.32 297.81,710.64 297.42,709.97 297.03,709.29 296.65,708.60 296.27,707.91 295.90,707.22 295.53,706.53 295.17,705.83 294.81,705.12 294.46,704.42 294.11,703.71 293.77,702.99 293.43,702.28 293.10,701.56 292.77,700.83 292.45,700.11 292.14,699.38 291.83,698.65 291.53,697.91 291.23,697.17 290.94,696.44 290.65,695.69 290.37,694.95 290.10,694.20 289.83,693.46 289.57,692.71 289.32,691.95 289.07,691.20 288.83,690.44 288.60,689.69 288.37,688.93 288.15,688.17 287.93,687.41 287.72,686.65 287.52,685.88 287.33,685.12 287.14,684.35 286.96,683.59 286.79,682.82 286.62,682.06 286.46,681.29 286.31,680.52 286.16,679.75 286.02,678.99 285.89,678.22 285.77,677.45 285.65,676.68 285.55,675.92 285.44,675.15 285.35,674.38 285.26,673.62 285.18,672.85 285.11,672.09 285.05,671.32 284.99,670.56 284.94,669.80 284.90,669.04 284.87,668.28 284.85,667.52 284.83,666.77 284.82,666.01 284.82,665.26 284.82,664.51 284.83,663.76 284.86,663.01 284.89,662.27 284.92,661.53 284.97,660.79 285.02,660.05 285.08,659.32 285.15,658.58 285.23,657.85 285.31,657.13 285.40,656.40 285.50,655.68 285.61,654.96 285.73,654.25 285.85,653.54 285.98,652.83 286.12,652.12 286.27,651.42 286.43,650.73 286.59,650.03 286.76,649.34 286.94,648.66 287.13,647.98 287.33,647.30 287.53,646.62 287.74,645.96 287.96,645.29 288.19,644.63 288.43,643.98 288.67,643.32 288.92,642.68 289.18,642.04 289.44,641.40 289.72,640.77 290.00,640.14 290.29,639.52 290.59,638.90 290.89,638.29 291.20,637.69 291.52,637.09 291.85,636.49 292.19,635.90 292.53,635.32 292.88,634.74 293.24,634.17 293.60,633.61 293.97,633.05 294.35,632.49 294.74,631.94 295.13,631.40 295.54,630.87 295.94,630.34 296.36,629.82 296.78,629.30 297.21,628.79 297.65,628.29 298.09,627.79 298.54,627.30 299.00,626.82 299.46,626.34 299.93,625.87 300.41,625.41 300.89,624.95 301.38,624.51 301.88,624.06 302.38,623.63 302.89,623.20 303.41,622.78 303.93,622.37 304.46,621.97 304.99,621.57 305.53,621.18 306.08,620.79 306.63,620.42 307.19,620.05 307.75,619.69 308.32,619.34 308.90,618.99 309.48,618.66 310.07,618.33 310.66,618.00 311.25,617.69 311.86,617.38 312.46,617.09 313.08,616.80 313.69,616.51 314.32,616.24 314.94,615.97 315.58,615.71 316.21,615.46 316.85,615.22 317.50,614.99 318.15,614.76 318.81,614.54 319.47,614.33 320.13,614.13 320.80,613.93 321.47,613.75 322.15,613.57 322.83,613.40 323.51,613.24 324.20,613.09 324.89,612.94 325.58,612.80 326.28,612.68 326.98,612.56 327.68,612.44 328.39,612.34 329.10,612.24 329.82,612.16 330.53,612.08 331.25,612.01 331.97,611.94 332.70,611.89 333.43,611.84 334.16,611.80 334.89,611.77 335.62,611.75 336.36,611.74 337.10,611.73 337.84,611.73 338.58,611.74 339.32,611.76 340.07,611.79 340.82,611.82 341.56,611.86 342.31,611.91 343.06,611.97 343.82,612.04 344.57,612.11 345.32,612.19 346.08,612.28 346.84,612.38 347.59,612.48 348.35,612.59 349.11,612.71 349.86,612.84 350.62,612.98 351.38,613.12 352.14,613.27 352.90,613.43 353.66,613.59 354.41,613.77 355.17,613.95 355.93,614.13 356.68,614.33 357.44,614.53 358.20,614.74 358.95,614.96 359.70,615.18 360.46,615.41 361.21,615.65 361.96,615.89 362.71,616.14 363.45,616.40 364.20,616.66 364.94,616.93 365.69,617.21 366.43,617.49 367.16,617.78 367.90,618.08 368.64,618.38 369.37,618.69 370.10,619.01 370.83,619.33 371.55,619.66 372.27,619.99 372.99,620.33 373.71,620.68 374.42,621.03 375.14,621.38 375.84,621.75 376.55,622.11 377.25,622.49 377.95,622.87 378.64,623.25 379.33,623.64 380.02,624.03 380.71,624.43 381.39,624.84 382.06,625.25 382.74,625.66 383.40,626.08 384.07,626.50 384.73,626.93 385.38,627.37 386.03,627.80 386.68,628.24 387.32,628.69 387.96,629.14 388.59,629.59 389.22,630.05 389.85,630.51 390.46,630.98 391.08,631.45 391.69,631.92 392.29,632.40 392.89,632.88 393.48,633.36 394.07,633.84 394.65,634.33 395.22,634.83 395.79,635.32 396.36,635.82 396.92,636.32 397.47,636.82 398.02,637.33 398.56,637.84 399.09,638.35 399.62,638.86 400.15,639.37 400.66,639.89 401.17,640.41 401.68,640.93 402.18,641.45 402.67,641.98 403.15,642.50 403.63,643.03 404.10,643.56 404.57,644.09 405.02,644.62 405.47,645.15 405.92,645.68 406.36,646.22 406.79,646.75 407.21,647.29 407.63,647.82 408.04,648.36 408.44,648.90 408.83,649.43 409.22,649.97 409.60,650.50 409.98,651.04 410.34,651.58 410.70,652.11 411.05,652.65 411.40,653.18 411.73,653.72 412.06,654.25 412.38,654.78 412.69,655.32 413.00,655.85 413.30,656.38 413.59,656.91 413.87,657.43 414.15,657.96 414.42,658.48 414.67,659.00 414.93,659.53 415.17,660.04 415.41,660.56 415.64,661.08 415.86,661.59 416.07,662.10 416.27,662.61 416.47,663.11 416.66,663.62 416.84,664.12 417.01,664.62 417.18,665.11 417.34,665.60 417.49,666.09 417.63,666.58 417.76,667.06 417.89,667.54 418.00,668.02 418.11,668.49 418.21,668.96 418.31,669.42 418.39,669.88 418.47,670.34 418.54,670.80 418.60,671.24 418.66,671.69 418.70,672.13 418.74,672.57 418.77,673.00 418.79,673.43 418.81,673.85 418.82,674.27 418.81,674.69 418.81,675.10 418.79,675.50 418.76,675.90 418.73,676.29 418.69,676.68 418.65,677.07 418.59,677.45 418.53,677.82 418.46,678.19 418.38,678.55 418.29,678.91 418.20,679.26 418.10,679.60 417.99,679.94 417.88,680.27 417.76,680.60 417.63,680.92 417.49,681.24 417.35,681.55 417.19,681.85 417.04,682.15 416.87,682.44 416.70,682.72 416.52,683.00 416.33,683.27 416.14,683.53 415.94,683.79 415.73,684.04 415.52,684.28 415.30,684.52 415.07,684.75 414.84,684.97 414.60,685.19 414.35,685.40 414.10,685.60 413.84,685.79 413.57,685.98 413.30,686.16 413.02,686.33 412.74,686.50 412.45,686.66 412.15,686.81 411.85,686.95 411.54,687.08 411.23,687.21 410.91,687.33 410.58,687.44 410.25,687.55 409.91,687.65 409.57,687.73 409.23,687.82 408.87,687.89 408.52,687.96 408.15,688.01 407.79,688.06 407.41,688.10 407.04,688.14 406.65,688.16 406.27,688.18 405.88,688.19 405.48,688.19 405.08,688.19 404.68,688.17 404.27,688.15 403.85,688.12 403.44,688.08 403.01,688.03 402.59,687.98 402.16,687.92 401.73,687.84 401.29,687.77 400.85,687.68 400.41,687.58 399.96,687.48 399.51,687.37 399.05,687.24 398.60,687.12 398.14,686.98 397.67,686.83 397.21,686.68 396.74,686.52 396.27,686.35 395.79,686.17 395.32,685.98 394.84,685.79 394.36,685.59 393.87,685.38 393.39,685.16 392.90,684.93 392.41,684.70 391.92,684.46 391.43,684.20 390.93,683.95 390.43,683.68 389.94,683.40 389.44,683.12 388.94,682.83 388.44,682.53 387.93,682.23 387.43,681.91 386.93,681.59 386.42,681.26 385.92,680.92 385.41,680.58 384.90,680.22 384.40,679.86 383.89,679.50 383.38,679.12 382.87,678.74 382.37,678.35 381.86,677.95 381.35,677.54 380.85,677.13 380.34,676.71 379.84,676.28 379.33,675.85 378.83,675.41 378.32,674.96 377.82,674.50 377.32,674.04 376.82,673.57 376.32,673.09 375.82,672.61 375.33,672.12 374.83,671.63 374.34,671.12 373.85,670.61 373.36,670.10 372.87,669.57 372.39,669.04 371.91,668.51 371.42,667.97 370.95,667.42 370.47,666.87 370.00,666.31 369.53,665.74 369.06,665.17 368.59,664.59 368.13,664.01 367.67,663.42 367.21,662.82 366.76,662.22 366.31,661.62 365.86,661.01 365.42,660.39 364.98,659.77 364.54,659.14 364.11,658.51 363.68,657.87 363.26,657.23 362.84,656.58 362.42,655.93 362.01,655.28 361.60,654.62 361.20,653.95 360.80,653.28 360.40,652.61 360.01,651.93 359.62,651.25 359.24,650.56 358.87,649.87 358.50,649.18 358.13,648.48 357.77,647.78 357.41,647.08 357.06,646.37 356.71,645.66 356.37,644.94 356.04,644.23 355.71,643.50 355.39,642.78 355.07,642.05 354.75,641.32 354.45,640.59 354.15,639.86 353.85,639.12 353.56,638.38 353.28,637.64 353.00,636.89 352.73,636.14 352.47,635.40 352.21,634.65 351.96,633.89 351.71,633.14 351.47,632.38 351.24,631.63 351.01,630.87 350.79,630.11 350.58,629.35 350.38,628.58 350.18,627.82 349.98,627.05 349.80,626.29 349.62,625.52 349.45,624.76 349.29,623.99 349.13,623.22 348.98,622.46 348.84,621.69 348.70,620.92 348.57,620.15 348.45,619.38 348.34,618.62 348.23,617.85 348.13,617.08 348.04,616.32 347.96,615.55 347.88,614.79 347.81,614.02 347.75,613.26 347.70,612.50 347.65,611.74 347.61,610.98 347.58,610.22 347.56,609.46 347.54,608.71 347.54,607.95 347.54,607.20 347.54,606.45 347.56,605.70 347.58,604.96 347.62,604.21 347.66,603.47 347.70,602.73 347.76,602.00 347.82,601.26 347.89,600.53 347.97,599.80 348.06,599.07 348.16,598.35 348.26,597.63 348.37,596.91 348.49,596.20 348.62,595.49 348.75,594.78 348.89,594.08 349.04,593.38 349.20,592.68 349.37,591.99 349.54,591.30 349.73,590.62 349.92,589.94 350.12,589.26 350.32,588.59 350.54,587.92 350.76,587.26 350.99,586.60 351.23,585.95 351.47,585.30 351.72,584.65 351.99,584.01 352.25,583.38" stroke="#e0302e" stroke-width="1.5" fill="none" stroke-linejoin="round"/>
<line x1="152.4" y1="851.2" x2="237.5" y2="750.2" stroke="#000" stroke-width="1.1" stroke-dasharray="2.6,2.2"/>
<polygon points="220.32,850.29 217.19,850.25 214.04,850.21 210.87,850.18 207.72,850.14 204.58,850.10 201.49,850.06 198.47,850.01 195.53,849.95 192.68,849.88 189.90,849.81 187.20,849.74 184.53,849.66 181.90,849.58 179.27,849.48 176.63,849.38 173.96,849.26 171.22,849.13 168.42,848.99 165.58,848.84 162.77,848.68 160.01,848.51 157.36,848.33 154.86,848.14 152.54,847.94 150.40,847.71 148.40,847.48 146.51,847.25 144.75,847.00 143.09,846.74 141.54,846.46 140.08,846.17 138.71,845.85 137.38,845.52 136.09,845.16 134.88,844.78 133.80,844.40 132.89,844.02 132.21,843.67 131.86,843.43 131.91,843.47 132.12,844.04 132.04,844.70 131.91,844.91 132.04,844.79 132.43,844.52 133.05,844.17 133.84,843.79 134.76,843.38 135.84,842.93 137.13,842.46 138.62,841.96 140.25,841.46 141.98,840.95 143.78,840.43 145.62,839.91 147.44,839.40 149.30,838.92 151.26,838.42 153.29,837.93 155.37,837.43 157.45,836.94 159.52,836.46 161.54,835.98 163.47,835.53 165.35,835.11 167.21,834.70 169.04,834.30 170.85,833.92 172.62,833.53 174.34,833.15 176.02,832.76 177.62,832.36 179.19,831.99 180.75,831.62 182.28,831.24 183.76,830.86 185.17,830.48 186.48,830.09 187.67,829.68 188.74,829.24 189.67,828.77 190.48,828.25 191.18,827.67 191.77,827.02 192.24,826.30 192.56,825.51 192.71,824.68 192.67,823.80 192.36,822.88 191.84,822.12 191.25,821.55 190.63,821.09 189.98,820.69 189.29,820.32 188.57,819.96 187.77,819.58 186.79,819.17 185.67,818.78 184.48,818.39 183.26,818.00 182.06,817.62 180.93,817.23 179.93,816.86 179.10,816.49 178.36,816.09 177.63,815.65 176.95,815.22 176.36,814.79 175.87,814.39 175.51,814.05 175.32,813.82 175.29,813.77 175.31,813.95 175.28,814.15 175.25,814.20 175.31,814.08 175.51,813.84 175.82,813.53 176.22,813.17 176.66,812.79 177.11,812.41 177.66,812.00 178.29,811.58 178.99,811.15 179.74,810.71 180.53,810.28 181.33,809.86 182.14,809.45 182.95,809.08 183.80,808.73 184.68,808.39 185.59,808.05 186.52,807.71 187.48,807.37 188.46,807.03 189.45,806.68 190.47,806.35 191.52,806.02 192.60,805.70 193.71,805.37 194.82,805.04 195.93,804.69 197.03,804.34 198.08,803.97 199.11,803.62 200.14,803.27 201.18,802.92 202.22,802.55 203.24,802.16 204.23,801.73 205.19,801.25 206.09,800.71 206.92,800.12 207.70,799.48 208.42,798.81 209.08,798.11 209.68,797.40 210.21,796.68 210.68,795.98 211.08,795.27 211.41,794.53 211.65,793.78 211.81,793.03 211.88,792.29 211.89,791.58 211.83,790.89 211.73,790.23 211.56,789.54 211.27,788.81 210.87,788.13 210.45,787.54 210.01,787.01 209.59,786.54 209.22,786.12 208.91,785.76 208.65,785.41 208.35,785.00 208.03,784.58 207.74,784.23 207.50,783.93 207.33,783.70 207.24,783.55 207.20,783.52 207.18,783.51 207.18,783.44 207.19,783.32 207.24,783.18 207.35,782.99 207.54,782.75 207.81,782.46 208.18,782.11 208.63,781.74 209.18,781.34 209.84,780.91 210.61,780.46 211.45,779.98 212.35,779.47 213.28,778.94 214.23,778.40 215.17,777.84 216.13,777.26 217.12,776.66 218.15,776.04 219.19,775.40 220.23,774.76 221.26,774.13 222.25,773.51 223.20,772.92 224.11,772.35 225.02,771.79 225.91,771.24 226.78,770.69 227.63,770.15 228.45,769.62 229.24,769.09 229.96,768.58 230.64,768.11 231.28,767.67 231.90,767.24 232.50,766.79 233.09,766.32 233.65,765.80 234.18,765.23 234.68,764.58 235.12,763.86 235.51,763.10 235.84,762.31 236.12,761.52 236.36,760.73 236.56,759.96 236.73,759.22 236.87,758.51 236.95,757.79 236.96,757.08 236.92,756.41 236.85,755.79 236.77,755.23 236.69,754.72 236.62,754.26 236.58,753.84 236.53,753.42 236.48,753.01 236.43,752.62 236.38,752.26 236.33,751.90 236.28,751.56 236.24,751.21 236.19,750.85 233.21,751.15 233.24,751.52 233.27,751.88 233.29,752.23 233.32,752.58 233.34,752.94 233.37,753.31 233.39,753.70 233.42,754.16 233.48,754.67 233.56,755.20 233.64,755.70 233.71,756.19 233.76,756.67 233.79,757.14 233.78,757.60 233.73,758.09 233.65,758.66 233.55,759.31 233.42,759.98 233.25,760.66 233.06,761.32 232.84,761.95 232.59,762.52 232.32,763.02 232.01,763.46 231.66,763.87 231.26,764.26 230.81,764.66 230.30,765.06 229.72,765.48 229.10,765.94 228.44,766.42 227.74,766.92 227.00,767.42 226.21,767.93 225.38,768.46 224.52,769.00 223.63,769.55 222.72,770.11 221.80,770.68 220.86,771.27 219.87,771.88 218.85,772.51 217.81,773.15 216.77,773.78 215.75,774.40 214.77,775.00 213.83,775.56 212.91,776.09 211.98,776.60 211.04,777.10 210.13,777.59 209.24,778.07 208.41,778.54 207.64,779.00 206.97,779.46 206.38,779.89 205.88,780.29 205.42,780.69 205.01,781.12 204.66,781.59 204.36,782.10 204.15,782.66 204.02,783.29 204.02,784.00 204.18,784.69 204.42,785.26 204.70,785.76 204.98,786.20 205.25,786.61 205.50,786.98 205.75,787.39 206.08,787.89 206.48,788.40 206.87,788.87 207.23,789.31 207.54,789.72 207.79,790.09 207.95,790.39 208.04,790.66 208.13,791.00 208.21,791.39 208.26,791.77 208.28,792.16 208.26,792.53 208.19,792.92 208.09,793.31 207.92,793.73 207.67,794.23 207.36,794.78 206.97,795.36 206.53,795.94 206.04,796.52 205.50,797.08 204.92,797.61 204.31,798.09 203.64,798.52 202.88,798.94 202.03,799.34 201.12,799.72 200.15,800.10 199.15,800.48 198.13,800.85 197.12,801.23 196.10,801.59 195.06,801.93 193.98,802.26 192.88,802.59 191.77,802.92 190.67,803.25 189.59,803.58 188.55,803.92 187.54,804.24 186.54,804.55 185.56,804.86 184.59,805.18 183.63,805.50 182.69,805.83 181.76,806.18 180.86,806.55 179.97,806.91 179.08,807.29 178.20,807.68 177.34,808.09 176.51,808.51 175.73,808.93 174.99,809.37 174.34,809.81 173.79,810.23 173.26,810.65 172.74,811.12 172.24,811.66 171.77,812.32 171.42,813.17 171.30,814.20 171.51,815.23 171.97,816.08 172.53,816.79 173.18,817.42 173.89,818.01 174.67,818.57 175.50,819.10 176.37,819.61 177.30,820.11 178.34,820.61 179.51,821.07 180.74,821.51 181.98,821.93 183.18,822.34 184.30,822.72 185.26,823.08 186.03,823.42 186.72,823.75 187.36,824.07 187.89,824.36 188.29,824.60 188.55,824.79 188.64,824.87 188.60,824.79 188.53,824.60 188.54,824.48 188.57,824.46 188.58,824.49 188.53,824.61 188.38,824.82 188.09,825.09 187.66,825.41 187.06,825.76 186.26,826.13 185.26,826.53 184.08,826.94 182.76,827.35 181.35,827.77 179.86,828.19 178.32,828.61 176.78,829.04 175.21,829.43 173.58,829.83 171.88,830.22 170.12,830.61 168.32,831.01 166.48,831.42 164.61,831.84 162.73,832.27 160.79,832.71 158.77,833.16 156.69,833.62 154.59,834.09 152.50,834.57 150.45,835.05 148.45,835.52 146.56,836.00 144.71,836.44 142.85,836.90 141.01,837.36 139.22,837.82 137.51,838.27 135.93,838.73 134.49,839.18 133.24,839.62 132.17,840.07 131.20,840.52 130.32,840.99 129.52,841.51 128.79,842.17 128.16,843.16 127.96,844.59 128.49,845.93 129.35,846.75 130.28,847.31 131.32,847.76 132.47,848.17 133.72,848.55 135.06,848.91 136.46,849.24 137.89,849.55 139.37,849.82 140.92,850.08 142.55,850.31 144.28,850.53 146.10,850.73 148.03,850.92 150.08,851.09 152.26,851.26 154.61,851.44 157.15,851.60 159.82,851.75 162.60,851.88 165.43,852.01 168.27,852.13 171.09,852.24 173.84,852.34 176.52,852.43 179.17,852.52 181.81,852.59 184.45,852.65 187.13,852.71 189.84,852.76 192.62,852.80 195.47,852.85 198.42,852.90 201.46,852.94 204.55,852.97 207.68,853.00 210.85,853.03 214.01,853.05 217.16,853.08 220.28,853.11" fill="#0000ff" stroke="#0000ff" stroke-width="0.3" stroke-linejoin="round"/>
<polygon points="194.60,803.40 186.84,810.02 184.78,800.65" fill="#0000ff" stroke="#0000ff" stroke-width="0.6" stroke-linejoin="round"/>
<line x1="34.6" y1="861.2" x2="135.00" y2="860.32" stroke="#ff0000" stroke-width="2.5"/>
<polygon points="149.00,860.20 130.65,865.76 134.50,860.33 130.55,854.96" fill="#ff0000"/>
<path d="M651.50,25.50 L651.50,377.40 L1003.70,377.40" stroke="#000" stroke-width="1.3" fill="none"/>
<line x1="643.50" y1="25.50" x2="651.50" y2="25.50" stroke="#000" stroke-width="1.3"/>
<text transform="matrix(0.3200 0 0 0.3200 617.140 36.800)" font-family="'Liberation Sans', Arial, Helvetica, sans-serif" font-size="100" fill="#000">4</text>
<line x1="643.50" y1="142.80" x2="651.50" y2="142.80" stroke="#000" stroke-width="1.3"/>
<text transform="matrix(0.3200 0 0 0.3200 617.780 154.100)" font-family="'Liberation Sans', Arial, Helvetica, sans-serif" font-size="100" fill="#000">2</text>
<line x1="643.50" y1="260.10" x2="651.50" y2="260.10" stroke="#000" stroke-width="1.3"/>
<text transform="matrix(0.3200 0 0 0.3200 617.460 271.240)" font-family="'Liberation Sans', Arial, Helvetica, sans-serif" font-size="100" fill="#000">0</text>
<line x1="643.50" y1="377.40" x2="651.50" y2="377.40" stroke="#000" stroke-width="1.3"/>
<text transform="matrix(0.3200 0 0 0.3200 607.220 388.700)" font-family="'Liberation Sans', Arial, Helvetica, sans-serif" font-size="100" fill="#000">-2</text>
<line x1="651.50" y1="377.40" x2="651.50" y2="385.40" stroke="#000" stroke-width="1.3"/>
<text transform="matrix(0.3200 0 0 0.3200 643.490 417.190)" font-family="'Liberation Sans', Arial, Helvetica, sans-serif" font-size="100" fill="#000">0</text>
<line x1="739.55" y1="377.40" x2="739.55" y2="385.40" stroke="#000" stroke-width="1.3"/>
<text transform="matrix(0.3200 0 0 0.3200 731.700 417.030)" font-family="'Liberation Sans', Arial, Helvetica, sans-serif" font-size="100" fill="#000">5</text>
<line x1="827.60" y1="377.40" x2="827.60" y2="385.40" stroke="#000" stroke-width="1.3"/>
<text transform="matrix(0.3200 0 0 0.3200 810.150 417.190)" font-family="'Liberation Sans', Arial, Helvetica, sans-serif" font-size="100" fill="#000">10</text>
<line x1="915.65" y1="377.40" x2="915.65" y2="385.40" stroke="#000" stroke-width="1.3"/>
<text transform="matrix(0.3200 0 0 0.3200 898.200 417.030)" font-family="'Liberation Sans', Arial, Helvetica, sans-serif" font-size="100" fill="#000">15</text>
<line x1="1003.70" y1="377.40" x2="1003.70" y2="385.40" stroke="#000" stroke-width="1.3"/>
<text transform="matrix(0.3200 0 0 0.3200 986.730 417.190)" font-family="'Liberation Sans', Arial, Helvetica, sans-serif" font-size="100" fill="#000">20</text>
<path d="M651.50,260.10 L651.79,260.10 L652.08,260.10 L652.37,260.10 L652.66,260.10 L652.95,260.10 L653.24,260.10 L653.54,260.10 L653.83,260.10 L654.12,260.10 L654.41,260.10 L654.70,260.10 L654.99,260.10 L655.28,260.10 L655.57,260.10 L655.86,260.10 L656.15,260.10 L656.44,260.10 L656.73,260.10 L657.03,260.10 L657.32,260.10 L657.61,260.10 L657.90,260.10 L658.19,260.10 L658.48,260.10 L658.77,260.10 L659.06,260.10 L659.35,260.10 L659.64,260.10 L659.93,260.10 L660.22,260.10 L660.52,260.10 L660.81,260.10 L661.10,260.10 L661.39,260.10 L661.68,260.10 L661.97,260.10 L662.26,260.10 L662.55,260.10 L662.84,260.10 L663.13,260.10 L663.42,260.10 L663.71,260.10 L664.00,260.10 L664.30,260.10 L664.59,260.10 L664.88,260.10 L665.17,260.10 L665.46,260.10 L665.75,260.10 L666.04,260.10 L666.33,260.10 L666.62,260.10 L666.91,260.10 L667.20,260.10 L667.49,260.10 L667.79,260.10 L668.08,260.10 L668.37,260.10 L668.66,260.10 L668.95,260.10 L669.24,260.10 L669.53,260.10 L669.82,260.10 L670.11,260.10 L670.40,260.10 L670.69,260.10 L670.98,260.10 L671.27,260.10 L671.57,260.10 L671.86,260.10 L672.15,260.10 L672.44,260.10 L672.73,260.10 L673.02,260.10 L673.31,260.10 L673.60,260.10 L673.89,260.10 L674.18,260.10 L674.47,260.10 L674.76,260.10 L675.06,260.10 L675.35,260.10 L675.64,260.10 L675.93,260.10 L676.22,260.10 L676.51,260.10 L676.80,260.10 L677.09,260.10 L677.38,260.10 L677.67,260.10 L677.96,260.10 L678.25,260.10 L678.55,260.10 L678.84,260.10 L679.13,260.10 L679.42,260.10 L679.71,260.10 L680.00,260.10 L680.29,260.10 L680.58,260.10 L680.87,260.10 L681.16,260.10 L681.45,260.10 L681.74,260.10 L682.03,260.10 L682.33,260.10 L682.62,260.10 L682.91,260.10 L683.20,260.10 L683.49,260.10 L683.78,260.10 L684.07,260.10 L684.36,260.10 L684.65,260.10 L684.94,260.10 L685.23,260.10 L685.52,260.10 L685.82,260.10 L686.11,260.10 L686.40,260.10 L686.69,260.10 L686.98,260.10 L687.27,260.10 L687.56,260.10 L687.85,260.10 L688.14,260.10 L688.43,260.10 L688.72,260.10 L689.01,260.10 L689.30,260.10 L689.60,260.10 L689.89,260.10 L690.18,260.10 L690.47,260.10 L690.76,260.10 L691.05,260.10 L691.34,260.10 L691.63,260.10 L691.92,260.10 L692.21,260.10 L692.50,260.10 L692.79,260.10 L693.09,260.10 L693.38,260.10 L693.67,260.10 L693.96,260.10 L694.25,260.10 L694.54,260.10 L694.83,260.10 L695.12,260.10 L695.41,260.10 L695.70,260.10 L695.99,260.10 L696.28,260.10 L696.58,260.10 L696.87,260.10 L697.16,260.10 L697.45,260.10 L697.74,260.10 L698.03,260.10 L698.32,260.10 L698.61,260.10 L698.90,260.10 L699.19,260.10 L699.48,260.10 L699.77,260.10 L700.06,260.10 L700.36,260.10 L700.65,260.10 L700.94,260.10 L701.23,260.10 L701.52,260.10 L701.81,260.10 L702.10,260.10 L702.39,260.10 L702.68,260.10 L702.97,260.10 L703.26,260.10 L703.55,260.10 L703.85,260.10 L704.14,260.10 L704.43,260.10 L704.72,260.10 L705.01,260.10 L705.30,260.10 L705.59,260.10 L705.88,260.10 L706.17,260.10 L706.46,260.10 L706.75,260.10 L707.04,260.10 L707.34,260.10 L707.63,260.10 L707.92,260.10 L708.21,260.10 L708.50,260.10 L708.79,260.10 L709.08,260.10 L709.37,260.10 L709.66,260.10 L709.95,260.10 L710.24,260.10 L710.53,260.10 L710.82,260.10 L711.12,260.10 L711.41,260.10 L711.70,260.10 L711.99,260.10 L712.28,260.10 L712.57,260.10 L712.86,260.10 L713.15,260.10 L713.44,260.10 L713.73,260.10 L714.02,260.10 L714.31,260.10 L714.61,260.10 L714.90,260.10 L715.19,260.10 L715.48,260.10 L715.77,260.10 L716.06,260.10 L716.35,260.10 L716.64,260.10 L716.93,260.10 L717.22,260.10 L717.51,260.10 L717.80,260.10 L718.09,260.10 L718.39,260.10 L718.68,260.10 L718.97,260.10 L719.26,260.10 L719.55,260.10 L719.84,260.10 L720.13,260.10 L720.42,260.10 L720.71,260.10 L721.00,260.10 L721.29,260.10 L721.58,260.10 L721.88,260.10 L722.17,260.10 L722.46,260.10 L722.75,260.10 L723.04,260.10 L723.33,260.10 L723.62,260.10 L723.91,260.10 L724.20,260.10 L724.49,260.10 L724.78,260.10 L725.07,260.10 L725.37,260.10 L725.66,260.10 L725.95,260.10 L726.24,260.10 L726.53,260.10 L726.82,260.10 L727.11,260.10 L727.40,260.10 L727.69,260.10 L727.98,260.10 L728.27,260.10 L728.56,260.10 L728.85,260.10 L729.15,260.10 L729.44,260.10 L729.73,260.10 L730.02,260.10 L730.31,260.10 L730.60,260.10 L730.89,260.10 L731.18,260.10 L731.47,260.10 L731.76,260.10 L732.05,260.10 L732.34,260.10 L732.64,260.10 L732.93,260.10 L733.22,260.10 L733.51,260.10 L733.80,260.10 L734.09,260.10 L734.38,260.10 L734.67,260.10 L734.96,260.10 L735.25,260.10 L735.54,260.10 L735.83,260.10 L736.12,260.10 L736.42,260.10 L736.71,260.10 L737.00,260.10 L737.29,260.10 L737.58,260.10 L737.87,260.10 L738.16,260.10 L738.45,260.10 L738.74,260.10 L739.03,260.10 L739.32,260.10 L739.61,259.98 L739.91,257.66 L740.20,255.34 L740.49,253.02 L740.78,250.70 L741.07,248.38 L741.36,246.06 L741.65,243.74 L741.94,241.42 L742.23,239.10 L742.52,236.78 L742.81,234.46 L743.10,232.14 L743.40,229.82 L743.69,227.50 L743.98,225.18 L744.27,222.86 L744.56,220.54 L744.85,218.22 L745.14,215.90 L745.43,213.58 L745.72,211.26 L746.01,208.94 L746.30,206.62 L746.59,204.30 L746.88,201.98 L747.18,199.66 L747.47,197.34 L747.76,195.02 L748.05,192.70 L748.34,190.38 L748.63,188.06 L748.92,185.74 L749.21,183.42 L749.50,181.10 L749.79,178.78 L750.08,176.46 L750.37,174.14 L750.67,171.82 L750.96,169.50 L751.25,167.18 L751.54,164.86 L751.83,162.54 L752.12,160.22 L752.41,157.90 L752.70,155.58 L752.99,153.26 L753.28,150.94 L753.57,152.84 L753.86,155.02 L754.15,157.18 L754.45,159.33 L754.74,161.47 L755.03,163.60 L755.32,165.71 L755.61,167.82 L755.90,169.91 L756.19,172.00 L756.48,174.07 L756.77,176.13 L757.06,178.18 L757.35,180.22 L757.64,182.24 L757.94,184.26 L758.23,186.26 L758.52,188.25 L758.81,190.23 L759.10,192.20 L759.39,194.15 L759.68,196.09 L759.97,198.02 L760.26,199.94 L760.55,201.85 L760.84,203.74 L761.13,205.62 L761.43,207.49 L761.72,209.34 L762.01,211.18 L762.30,213.01 L762.59,214.83 L762.88,216.63 L763.17,218.43 L763.46,220.20 L763.75,221.97 L764.04,223.72 L764.33,225.46 L764.62,227.18 L764.91,228.89 L765.21,230.59 L765.50,232.28 L765.79,233.95 L766.08,235.60 L766.37,237.25 L766.66,238.88 L766.95,240.49 L767.24,242.09 L767.53,243.68 L767.82,245.25 L768.11,246.81 L768.40,248.36 L768.70,249.89 L768.99,251.40 L769.28,252.90 L769.57,254.39 L769.86,255.86 L770.15,257.32 L770.44,258.76 L770.73,260.19 L771.02,261.60 L771.31,263.00 L771.60,264.39 L771.89,265.75 L772.19,267.11 L772.48,268.44 L772.77,269.77 L773.06,271.07 L773.35,272.36 L773.64,273.64 L773.93,274.90 L774.22,276.14 L774.51,277.37 L774.80,278.59 L775.09,279.78 L775.38,280.96 L775.67,282.13 L775.97,283.28 L776.26,284.41 L776.55,285.53 L776.84,286.63 L777.13,287.71 L777.42,288.78 L777.71,289.83 L778.00,290.87 L778.29,291.89 L778.58,292.89 L778.87,293.88 L779.16,294.85 L779.46,295.80 L779.75,296.74 L780.04,297.66 L780.33,298.57 L780.62,299.45 L780.91,300.32 L781.20,301.18 L781.49,302.02 L781.78,302.84 L782.07,303.64 L782.36,304.43 L782.65,305.20 L782.94,305.96 L783.24,306.69 L783.53,307.41 L783.82,308.12 L784.11,308.80 L784.40,309.47 L784.69,310.12 L784.98,310.76 L785.27,311.38 L785.56,311.98 L785.85,312.56 L786.14,313.13 L786.43,313.68 L786.73,314.21 L787.02,314.73 L787.31,315.22 L787.60,315.70 L787.89,316.17 L788.18,316.61 L788.47,317.04 L788.76,317.45 L789.05,317.84 L789.34,318.22 L789.63,318.58 L789.92,318.92 L790.22,319.25 L790.51,319.56 L790.80,319.85 L791.09,320.13 L791.38,320.39 L791.67,320.63 L791.96,320.86 L792.25,321.07 L792.54,321.26 L792.83,321.44 L793.12,321.60 L793.41,321.75 L793.70,321.88 L794.00,322.00 L794.29,322.10 L794.58,322.18 L794.87,322.25 L795.16,322.30 L795.45,322.34 L795.74,322.37 L796.03,322.38 L796.32,322.37 L796.61,322.35 L796.90,322.31 L797.19,322.26 L797.49,322.19 L797.78,322.11 L798.07,322.02 L798.36,321.91 L798.65,321.79 L798.94,321.65 L799.23,321.50 L799.52,321.33 L799.81,321.15 L800.10,320.96 L800.39,320.75 L800.68,320.53 L800.97,320.30 L801.27,320.05 L801.56,319.79 L801.85,319.52 L802.14,319.23 L802.43,318.93 L802.72,318.62 L803.01,318.30 L803.30,317.96 L803.59,317.62 L803.88,317.26 L804.17,316.89 L804.46,316.50 L804.76,316.11 L805.05,315.71 L805.34,315.29 L805.63,314.87 L805.92,314.43 L806.21,313.98 L806.50,313.53 L806.79,313.06 L807.08,312.59 L807.37,312.10 L807.66,311.61 L807.95,311.10 L808.25,310.59 L808.54,310.07 L808.83,309.54 L809.12,309.00 L809.41,308.45 L809.70,307.89 L809.99,307.33 L810.28,306.76 L810.57,306.18 L810.86,305.60 L811.15,305.00 L811.44,304.40 L811.73,303.80 L812.03,303.18 L812.32,302.56 L812.61,301.94 L812.90,301.30 L813.19,300.67 L813.48,300.02 L813.77,299.37 L814.06,298.72 L814.35,298.06 L814.64,297.39 L814.93,296.72 L815.22,296.05 L815.52,295.37 L815.81,294.69 L816.10,294.00 L816.39,293.31 L816.68,292.61 L816.97,291.91 L817.26,291.21 L817.55,290.51 L817.84,289.80 L818.13,289.09 L818.42,288.37 L818.71,287.66 L819.01,286.94 L819.30,286.22 L819.59,285.49 L819.88,284.77 L820.17,284.04 L820.46,283.32 L820.75,282.59 L821.04,281.86 L821.33,281.13 L821.62,280.39 L821.91,279.66 L822.20,278.93 L822.49,278.20 L822.79,277.47 L823.08,276.73 L823.37,276.00 L823.66,275.27 L823.95,274.54 L824.24,273.81 L824.53,273.08 L824.82,272.36 L825.11,271.63 L825.40,270.91 L825.69,270.19 L825.98,269.47 L826.28,268.75 L826.57,268.03 L826.86,267.32 L827.15,266.61 L827.44,265.90 L827.73,265.20 L828.02,264.50 L828.31,263.80 L828.60,263.11 L828.89,262.42 L829.18,261.73 L829.47,261.05 L829.76,260.37 L830.06,259.70 L830.35,259.03 L830.64,258.37 L830.93,257.71 L831.22,257.06 L831.51,256.41 L831.80,255.77 L832.09,255.14 L832.38,254.51 L832.67,253.88 L832.96,253.26 L833.25,252.65 L833.55,252.05 L833.84,251.45 L834.13,250.86 L834.42,250.28 L834.71,249.71 L835.00,249.14 L835.29,248.58 L835.58,248.03 L835.87,247.48 L836.16,246.95 L836.45,246.42 L836.74,245.89 L837.04,245.38 L837.33,244.88 L837.62,244.38 L837.91,243.89 L838.20,243.41 L838.49,242.93 L838.78,242.46 L839.07,242.00 L839.36,241.55 L839.65,241.11 L839.94,240.67 L840.23,240.25 L840.52,239.83 L840.82,239.42 L841.11,239.01 L841.40,238.62 L841.69,238.23 L841.98,237.85 L842.27,237.47 L842.56,237.11 L842.85,236.75 L843.14,236.41 L843.43,236.07 L843.72,235.73 L844.01,235.41 L844.31,235.09 L844.60,234.78 L844.89,234.48 L845.18,234.19 L845.47,233.91 L845.76,233.63 L846.05,233.36 L846.34,233.10 L846.63,232.85 L846.92,232.60 L847.21,232.37 L847.50,232.14 L847.79,231.92 L848.09,231.71 L848.38,231.51 L848.67,231.31 L848.96,231.12 L849.25,230.94 L849.54,230.77 L849.83,230.61 L850.12,230.46 L850.41,230.31 L850.70,230.17 L850.99,230.04 L851.28,229.92 L851.58,229.81 L851.87,229.70 L852.16,229.61 L852.45,229.52 L852.74,229.44 L853.03,229.37 L853.32,229.30 L853.61,229.25 L853.90,229.20 L854.19,229.16 L854.48,229.13 L854.77,229.11 L855.07,229.10 L855.36,229.09 L855.65,229.10 L855.94,229.11 L856.23,229.13 L856.52,229.16 L856.81,229.19 L857.10,229.24 L857.39,229.29 L857.68,229.35 L857.97,229.43 L858.26,229.50 L858.55,229.59 L858.85,229.69 L859.14,229.79 L859.43,229.91 L859.72,230.03 L860.01,230.16 L860.30,230.30 L860.59,230.45 L860.88,230.60 L861.17,230.77 L861.46,230.94 L861.75,231.12 L862.04,231.31 L862.34,231.51 L862.63,231.72 L862.92,231.93 L863.21,232.15 L863.50,232.38 L863.79,232.62 L864.08,232.87 L864.37,233.12 L864.66,233.38 L864.95,233.65 L865.24,233.92 L865.53,234.20 L865.83,234.49 L866.12,234.78 L866.41,235.08 L866.70,235.39 L866.99,235.70 L867.28,236.02 L867.57,236.34 L867.86,236.67 L868.15,237.00 L868.44,237.34 L868.73,237.69 L869.02,238.04 L869.31,238.40 L869.61,238.76 L869.90,239.12 L870.19,239.49 L870.48,239.87 L870.77,240.25 L871.06,240.63 L871.35,241.02 L871.64,241.41 L871.93,241.80 L872.22,242.20 L872.51,242.60 L872.80,243.01 L873.10,243.42 L873.39,243.83 L873.68,244.24 L873.97,244.66 L874.26,245.08 L874.55,245.50 L874.84,245.93 L875.13,246.36 L875.42,246.79 L875.71,247.22 L876.00,247.65 L876.29,248.09 L876.58,248.52 L876.88,248.96 L877.17,249.40 L877.46,249.84 L877.75,250.28 L878.04,250.73 L878.33,251.17 L878.62,251.61 L878.91,252.06 L879.20,252.50 L879.49,252.95 L879.78,253.40 L880.07,253.84 L880.37,254.29 L880.66,254.73 L880.95,255.18 L881.24,255.62 L881.53,256.07 L881.82,256.51 L882.11,256.95 L882.40,257.39 L882.69,257.83 L882.98,258.27 L883.27,258.70 L883.56,259.14 L883.86,259.57 L884.15,260.00 L884.44,260.43 L884.73,260.86 L885.02,261.29 L885.31,261.71 L885.60,262.13 L885.89,262.55 L886.18,262.96 L886.47,263.37 L886.76,263.78 L887.05,264.18 L887.34,264.58 L887.64,264.98 L887.93,265.38 L888.22,265.77 L888.51,266.15 L888.80,266.54 L889.09,266.91 L889.38,267.29 L889.67,267.66 L889.96,268.02 L890.25,268.38 L890.54,268.74 L890.83,269.09 L891.13,269.43 L891.42,269.77 L891.71,270.11 L892.00,270.44 L892.29,270.76 L892.58,271.08 L892.87,271.39 L893.16,271.70 L893.45,272.00 L893.74,272.29 L894.03,272.58 L894.32,272.87 L894.61,273.15 L894.91,273.42 L895.20,273.69 L895.49,273.95 L895.78,274.21 L896.07,274.46 L896.36,274.71 L896.65,274.95 L896.94,275.19 L897.23,275.42 L897.52,275.65 L897.81,275.87 L898.10,276.08 L898.40,276.29 L898.69,276.50 L898.98,276.70 L899.27,276.89 L899.56,277.08 L899.85,277.27 L900.14,277.45 L900.43,277.62 L900.72,277.79 L901.01,277.95 L901.30,278.11 L901.59,278.27 L901.89,278.42 L902.18,278.56 L902.47,278.70 L902.76,278.83 L903.05,278.96 L903.34,279.09 L903.63,279.21 L903.92,279.32 L904.21,279.43 L904.50,279.53 L904.79,279.63 L905.08,279.73 L905.37,279.82 L905.67,279.90 L905.96,279.98 L906.25,280.06 L906.54,280.13 L906.83,280.19 L907.12,280.26 L907.41,280.31 L907.70,280.36 L907.99,280.41 L908.28,280.45 L908.57,280.49 L908.86,280.52 L909.16,280.55 L909.45,280.57 L909.74,280.59 L910.03,280.61 L910.32,280.62 L910.61,280.62 L910.90,280.62 L911.19,280.62 L911.48,280.61 L911.77,280.60 L912.06,280.58 L912.35,280.56 L912.64,280.53 L912.94,280.50 L913.23,280.47 L913.52,280.43 L913.81,280.38 L914.10,280.34 L914.39,280.28 L914.68,280.23 L914.97,280.16 L915.26,280.10 L915.55,280.03 L915.84,279.95 L916.13,279.88 L916.43,279.79 L916.72,279.71 L917.01,279.61 L917.30,279.52 L917.59,279.42 L917.88,279.32 L918.17,279.21 L918.46,279.10 L918.75,278.98 L919.04,278.86 L919.33,278.73 L919.62,278.61 L919.92,278.47 L920.21,278.34 L920.50,278.20 L920.79,278.05 L921.08,277.90 L921.37,277.75 L921.66,277.59 L921.95,277.43 L922.24,277.27 L922.53,277.10 L922.82,276.93 L923.11,276.75 L923.40,276.57 L923.70,276.39 L923.99,276.20 L924.28,276.01 L924.57,275.82 L924.86,275.63 L925.15,275.43 L925.44,275.22 L925.73,275.02 L926.02,274.81 L926.31,274.60 L926.60,274.39 L926.89,274.17 L927.19,273.95 L927.48,273.73 L927.77,273.50 L928.06,273.27 L928.35,273.04 L928.64,272.81 L928.93,272.57 L929.22,272.34 L929.51,272.10 L929.80,271.85 L930.09,271.61 L930.38,271.36 L930.68,271.11 L930.97,270.86 L931.26,270.61 L931.55,270.36 L931.84,270.10 L932.13,269.84 L932.42,269.58 L932.71,269.32 L933.00,269.06 L933.29,268.80 L933.58,268.53 L933.87,268.26 L934.16,268.00 L934.46,267.73 L934.75,267.45 L935.04,267.18 L935.33,266.91 L935.62,266.64 L935.91,266.36 L936.20,266.09 L936.49,265.81 L936.78,265.53 L937.07,265.25 L937.36,264.97 L937.65,264.70 L937.95,264.42 L938.24,264.13 L938.53,263.85 L938.82,263.57 L939.11,263.29 L939.40,263.01 L939.69,262.73 L939.98,262.45 L940.27,262.16 L940.56,261.88 L940.85,261.60 L941.14,261.32 L941.43,261.04 L941.73,260.76 L942.02,260.48 L942.31,260.20 L942.60,259.92 L942.89,259.64 L943.18,259.36 L943.47,259.08 L943.76,258.80 L944.05,258.53 L944.34,258.25 L944.63,257.97 L944.92,257.70 L945.22,257.43 L945.51,257.15 L945.80,256.88 L946.09,256.61 L946.38,256.35 L946.67,256.08 L946.96,255.81 L947.25,255.55 L947.54,255.29 L947.83,255.02 L948.12,254.76 L948.41,254.51 L948.71,254.25 L949.00,253.99 L949.29,253.74 L949.58,253.49 L949.87,253.24 L950.16,253.00 L950.45,252.75 L950.74,252.51 L951.03,252.27 L951.32,252.03 L951.61,251.79 L951.90,251.56 L952.19,251.33 L952.49,251.10 L952.78,250.88 L953.07,250.65 L953.36,250.43 L953.65,250.21 L953.94,250.00 L954.23,249.79 L954.52,249.58 L954.81,249.37 L955.10,249.17 L955.39,248.97 L955.68,248.77 L955.98,248.58 L956.27,248.39 L956.56,248.20 L956.85,248.02 L957.14,247.84 L957.43,247.66 L957.72,247.49 L958.01,247.32 L958.30,247.16 L958.59,247.00 L958.88,246.84 L959.17,246.69 L959.46,246.54 L959.76,246.39 L960.05,246.25 L960.34,246.11 L960.63,245.98 L960.92,245.85 L961.21,245.73 L961.50,245.61 L961.79,245.49 L962.08,245.38 L962.37,245.27 L962.66,245.17 L962.95,245.08 L963.25,244.98 L963.54,244.90 L963.83,244.81 L964.12,244.74 L964.41,244.66 L964.70,244.60 L964.99,244.53 L965.28,244.48 L965.57,244.42 L965.86,244.38 L966.15,244.34 L966.44,244.30 L966.74,244.27 L967.03,244.25 L967.32,244.23 L967.61,244.21 L967.90,244.21 L968.19,244.20 L968.48,244.21 L968.77,244.22 L969.06,244.23 L969.35,244.25 L969.64,244.27 L969.93,244.30 L970.22,244.33 L970.52,244.37 L970.81,244.42 L971.10,244.47 L971.39,244.52 L971.68,244.58 L971.97,244.64 L972.26,244.71 L972.55,244.78 L972.84,244.86 L973.13,244.94 L973.42,245.02 L973.71,245.11 L974.01,245.21 L974.30,245.30 L974.59,245.41 L974.88,245.51 L975.17,245.62 L975.46,245.74 L975.75,245.85 L976.04,245.97 L976.33,246.10 L976.62,246.23 L976.91,246.36 L977.20,246.50 L977.50,246.64 L977.79,246.78 L978.08,246.93 L978.37,247.08 L978.66,247.23 L978.95,247.39 L979.24,247.55 L979.53,247.71 L979.82,247.87 L980.11,248.04 L980.40,248.21 L980.69,248.39 L980.98,248.57 L981.28,248.75 L981.57,248.93 L981.86,249.11 L982.15,249.30 L982.44,249.49 L982.73,249.68 L983.02,249.88 L983.31,250.08 L983.60,250.28 L983.89,250.48 L984.18,250.68 L984.47,250.89 L984.77,251.10 L985.06,251.31 L985.35,251.52 L985.64,251.73 L985.93,251.95 L986.22,252.16 L986.51,252.38 L986.80,252.60 L987.09,252.82 L987.38,253.05 L987.67,253.27 L987.96,253.50 L988.25,253.72 L988.55,253.95 L988.84,254.18 L989.13,254.41 L989.42,254.64 L989.71,254.88 L990.00,255.11 L990.29,255.35 L990.58,255.58 L990.87,255.82 L991.16,256.05 L991.45,256.29 L991.74,256.53 L992.04,256.77 L992.33,257.01 L992.62,257.24 L992.91,257.48 L993.20,257.72 L993.49,257.96 L993.78,258.20 L994.07,258.44 L994.36,258.68 L994.65,258.92 L994.94,259.16 L995.23,259.40 L995.53,259.64 L995.82,259.88 L996.11,260.12 L996.40,260.36 L996.69,260.60 L996.98,260.83 L997.27,261.07 L997.56,261.31 L997.85,261.54 L998.14,261.78 L998.43,262.01 L998.72,262.24 L999.01,262.48 L999.31,262.71 L999.60,262.94 L999.89,263.17 L1000.18,263.39" stroke="#0000ff" stroke-width="3" fill="none" stroke-linejoin="miter" stroke-miterlimit="6"/>
<path d="M651.50,260.10 L651.79,260.10 L652.08,260.10 L652.37,260.10 L652.66,260.10 L652.95,260.10 L653.24,260.10 L653.54,260.10 L653.83,260.10 L654.12,260.10 L654.41,260.10 L654.70,260.10 L654.99,260.10 L655.28,260.10 L655.57,260.10 L655.86,260.10 L656.15,260.10 L656.44,260.10 L656.73,260.10 L657.03,260.10 L657.32,260.10 L657.61,260.10 L657.90,260.10 L658.19,260.10 L658.48,260.10 L658.77,260.10 L659.06,260.10 L659.35,260.10 L659.64,260.10 L659.93,260.10 L660.22,260.10 L660.52,260.10 L660.81,260.10 L661.10,260.10 L661.39,260.10 L661.68,260.10 L661.97,260.10 L662.26,260.10 L662.55,260.10 L662.84,260.10 L663.13,260.10 L663.42,260.10 L663.71,260.10 L664.00,260.10 L664.30,260.10 L664.59,260.10 L664.88,260.10 L665.17,260.10 L665.46,260.10 L665.75,260.10 L666.04,260.10 L666.33,260.10 L666.62,260.10 L666.91,260.10 L667.20,260.10 L667.49,260.10 L667.79,260.10 L668.08,260.10 L668.37,260.10 L668.66,260.10 L668.95,260.10 L669.24,260.10 L669.53,260.10 L669.82,260.10 L670.11,260.10 L670.40,260.10 L670.69,260.10 L670.98,260.10 L671.27,260.10 L671.57,260.10 L671.86,260.10 L672.15,260.10 L672.44,260.10 L672.73,260.10 L673.02,260.10 L673.31,260.10 L673.60,260.10 L673.89,260.10 L674.18,260.10 L674.47,260.10 L674.76,260.10 L675.06,260.10 L675.35,260.10 L675.64,260.10 L675.93,260.10 L676.22,260.10 L676.51,260.10 L676.80,260.10 L677.09,260.10 L677.38,260.10 L677.67,260.10 L677.96,260.10 L678.25,260.10 L678.55,260.10 L678.84,260.10 L679.13,260.10 L679.42,260.10 L679.71,260.10 L680.00,260.10 L680.29,260.10 L680.58,260.10 L680.87,260.10 L681.16,260.10 L681.45,260.10 L681.74,260.10 L682.03,260.10 L682.33,260.10 L682.62,260.10 L682.91,260.10 L683.20,260.10 L683.49,260.10 L683.78,260.10 L684.07,260.10 L684.36,260.10 L684.65,260.10 L684.94,260.10 L685.23,260.10 L685.52,260.10 L685.82,260.10 L686.11,260.10 L686.40,260.10 L686.69,260.10 L686.98,260.10 L687.27,260.10 L687.56,260.10 L687.85,260.10 L688.14,260.10 L688.43,260.10 L688.72,260.10 L689.01,260.10 L689.30,260.10 L689.60,260.10 L689.89,260.10 L690.18,260.10 L690.47,260.10 L690.76,260.10 L691.05,260.10 L691.34,260.10 L691.63,260.10 L691.92,260.10 L692.21,260.10 L692.50,260.10 L692.79,260.10 L693.09,260.10 L693.38,260.10 L693.67,260.10 L693.96,260.10 L694.25,260.10 L694.54,260.10 L694.83,260.10 L695.12,260.10 L695.41,260.10 L695.70,260.10 L695.99,260.10 L696.28,260.10 L696.58,260.10 L696.87,260.10 L697.16,260.10 L697.45,260.10 L697.74,260.10 L698.03,260.10 L698.32,260.10 L698.61,260.10 L698.90,260.10 L699.19,260.10 L699.48,260.10 L699.77,260.10 L700.06,260.10 L700.36,260.10 L700.65,260.10 L700.94,260.10 L701.23,260.10 L701.52,260.10 L701.81,260.10 L702.10,260.10 L702.39,260.10 L702.68,260.10 L702.97,260.10 L703.26,260.10 L703.55,260.10 L703.85,260.10 L704.14,260.10 L704.43,260.10 L704.72,260.10 L705.01,260.10 L705.30,260.10 L705.59,260.10 L705.88,260.10 L706.17,260.10 L706.46,260.10 L706.75,260.10 L707.04,260.10 L707.34,260.10 L707.63,260.10 L707.92,260.10 L708.21,260.10 L708.50,260.10 L708.79,260.10 L709.08,260.10 L709.37,260.10 L709.66,260.10 L709.95,260.10 L710.24,260.10 L710.53,260.10 L710.82,260.10 L711.12,260.10 L711.41,260.10 L711.70,260.10 L711.99,260.10 L712.28,260.10 L712.57,260.10 L712.86,260.10 L713.15,260.10 L713.44,260.10 L713.73,260.10 L714.02,260.10 L714.31,260.10 L714.61,260.10 L714.90,260.10 L715.19,260.10 L715.48,260.10 L715.77,260.10 L716.06,260.10 L716.35,260.10 L716.64,260.10 L716.93,260.10 L717.22,260.10 L717.51,260.10 L717.80,260.10 L718.09,260.10 L718.39,260.10 L718.68,260.10 L718.97,260.10 L719.26,260.10 L719.55,260.10 L719.84,260.10 L720.13,260.10 L720.42,260.10 L720.71,260.10 L721.00,260.10 L721.29,260.10 L721.58,260.10 L721.88,260.10 L722.17,260.10 L722.46,260.10 L722.75,260.10 L723.04,260.10 L723.33,260.10 L723.62,260.10 L723.91,260.10 L724.20,260.10 L724.49,260.10 L724.78,260.10 L725.07,260.10 L725.37,260.10 L725.66,260.10 L725.95,260.10 L726.24,260.10 L726.53,260.10 L726.82,260.10 L727.11,260.10 L727.40,260.10 L727.69,260.10 L727.98,260.10 L728.27,260.10 L728.56,260.10 L728.85,260.10 L729.15,260.10 L729.44,260.10 L729.73,260.10 L730.02,260.10 L730.31,260.10 L730.60,260.10 L730.89,260.10 L731.18,260.10 L731.47,260.10 L731.76,260.10 L732.05,260.10 L732.34,260.10 L732.64,260.10 L732.93,260.10 L733.22,260.10 L733.51,260.10 L733.80,260.10 L734.09,260.10 L734.38,260.10 L734.67,260.10 L734.96,260.10 L735.25,260.10 L735.54,260.10 L735.83,260.10 L736.12,260.10 L736.42,260.10 L736.71,260.10 L737.00,260.10 L737.29,260.10 L737.58,260.10 L737.87,260.10 L738.16,260.10 L738.45,260.10 L738.74,260.10 L739.03,260.10 L739.32,260.10 L739.61,259.92 L739.91,256.35 L740.20,252.78 L740.49,249.20 L740.78,245.63 L741.07,242.06 L741.36,238.49 L741.65,234.91 L741.94,231.34 L742.23,227.77 L742.52,224.20 L742.81,220.62 L743.10,217.05 L743.40,213.48 L743.69,209.91 L743.98,206.33 L744.27,202.76 L744.56,199.19 L744.85,195.62 L745.14,192.04 L745.43,188.47 L745.72,184.90 L746.01,181.33 L746.30,177.75 L746.59,174.18 L746.88,170.61 L747.18,167.04 L747.47,163.46 L747.76,159.89 L748.05,156.32 L748.34,152.74 L748.63,149.17 L748.92,145.60 L749.21,142.03 L749.50,138.45 L749.79,134.88 L750.08,131.31 L750.37,127.74 L750.67,124.16 L750.96,120.59 L751.25,117.02 L751.54,113.45 L751.83,109.87 L752.12,106.30 L752.41,102.73 L752.70,99.16 L752.99,95.58 L753.28,92.01 L753.57,88.44 L753.86,84.87 L754.15,81.29 L754.45,77.72 L754.74,74.15 L755.03,70.58 L755.32,67.00 L755.61,66.22 L755.90,66.71 L756.19,67.22 L756.48,67.74 L756.77,68.28 L757.06,68.84 L757.35,69.42 L757.64,70.01 L757.94,70.63 L758.23,71.25 L758.52,71.90 L758.81,72.56 L759.10,73.24 L759.39,73.93 L759.68,74.64 L759.97,75.37 L760.26,76.11 L760.55,76.87 L760.84,77.64 L761.13,78.43 L761.43,79.23 L761.72,80.05 L762.01,80.88 L762.30,81.72 L762.59,82.58 L762.88,83.46 L763.17,84.35 L763.46,85.25 L763.75,86.16 L764.04,87.09 L764.33,88.03 L764.62,88.99 L764.91,89.96 L765.21,90.94 L765.50,91.93 L765.79,92.93 L766.08,93.95 L766.37,94.98 L766.66,96.02 L766.95,97.07 L767.24,98.13 L767.53,99.21 L767.82,100.29 L768.11,101.39 L768.40,102.49 L768.70,103.61 L768.99,104.74 L769.28,105.88 L769.57,107.02 L769.86,108.18 L770.15,109.35 L770.44,110.52 L770.73,111.71 L771.02,112.90 L771.31,114.10 L771.60,115.31 L771.89,116.53 L772.19,117.76 L772.48,119.00 L772.77,120.24 L773.06,121.49 L773.35,122.75 L773.64,124.02 L773.93,125.29 L774.22,126.57 L774.51,127.86 L774.80,129.15 L775.09,130.46 L775.38,131.76 L775.67,133.08 L775.97,134.39 L776.26,135.72 L776.55,137.05 L776.84,138.38 L777.13,139.73 L777.42,141.07 L777.71,142.42 L778.00,143.78 L778.29,145.14 L778.58,146.50 L778.87,147.87 L779.16,149.24 L779.46,150.62 L779.75,152.00 L780.04,153.38 L780.33,154.76 L780.62,156.15 L780.91,157.55 L781.20,158.94 L781.49,160.34 L781.78,161.74 L782.07,163.14 L782.36,164.54 L782.65,165.95 L782.94,167.35 L783.24,168.76 L783.53,170.17 L783.82,171.58 L784.11,172.99 L784.40,174.41 L784.69,175.82 L784.98,177.23 L785.27,178.64 L785.56,180.06 L785.85,181.47 L786.14,182.88 L786.43,184.29 L786.73,185.71 L787.02,187.12 L787.31,188.52 L787.60,189.93 L787.89,191.34 L788.18,192.74 L788.47,194.15 L788.76,195.55 L789.05,196.95 L789.34,198.34 L789.63,199.74 L789.92,201.13 L790.22,202.52 L790.51,203.90 L790.80,205.28 L791.09,206.66 L791.38,208.03 L791.67,209.41 L791.96,210.77 L792.25,212.14 L792.54,213.49 L792.83,214.85 L793.12,216.20 L793.41,217.54 L793.70,218.88 L794.00,220.21 L794.29,221.54 L794.58,222.86 L794.87,224.18 L795.16,225.49 L795.45,226.80 L795.74,228.10 L796.03,229.39 L796.32,230.67 L796.61,231.95 L796.90,233.22 L797.19,234.49 L797.49,235.74 L797.78,236.99 L798.07,238.23 L798.36,239.47 L798.65,240.69 L798.94,241.91 L799.23,243.12 L799.52,244.32 L799.81,245.51 L800.10,246.69 L800.39,247.86 L800.68,249.03 L800.97,250.18 L801.27,251.33 L801.56,252.46 L801.85,253.58 L802.14,254.70 L802.43,255.80 L802.72,256.89 L803.01,257.97 L803.30,259.04 L803.59,260.10 L803.88,261.15 L804.17,262.19 L804.46,263.21 L804.76,264.23 L805.05,265.23 L805.34,266.22 L805.63,267.19 L805.92,268.16 L806.21,269.11 L806.50,270.04 L806.79,270.97 L807.08,271.88 L807.37,272.78 L807.66,273.66 L807.95,274.53 L808.25,275.39 L808.54,276.23 L808.83,277.05 L809.12,277.87 L809.41,278.66 L809.70,279.45 L809.99,280.21 L810.28,280.97 L810.57,281.70 L810.86,282.43 L811.15,283.13 L811.44,283.83 L811.73,284.51 L812.03,285.17 L812.32,285.82 L812.61,286.45 L812.90,287.07 L813.19,287.68 L813.48,288.27 L813.77,288.85 L814.06,289.41 L814.35,289.96 L814.64,290.50 L814.93,291.02 L815.22,291.53 L815.52,292.02 L815.81,292.51 L816.10,292.97 L816.39,293.43 L816.68,293.87 L816.97,294.30 L817.26,294.71 L817.55,295.12 L817.84,295.50 L818.13,295.88 L818.42,296.24 L818.71,296.59 L819.01,296.93 L819.30,297.26 L819.59,297.57 L819.88,297.87 L820.17,298.16 L820.46,298.44 L820.75,298.70 L821.04,298.95 L821.33,299.19 L821.62,299.42 L821.91,299.64 L822.20,299.84 L822.49,300.03 L822.79,300.21 L823.08,300.38 L823.37,300.54 L823.66,300.69 L823.95,300.82 L824.24,300.95 L824.53,301.06 L824.82,301.17 L825.11,301.26 L825.40,301.34 L825.69,301.41 L825.98,301.47 L826.28,301.52 L826.57,301.55 L826.86,301.58 L827.15,301.60 L827.44,301.61 L827.73,301.60 L828.02,301.59 L828.31,301.57 L828.60,301.53 L828.89,301.49 L829.18,301.44 L829.47,301.38 L829.76,301.30 L830.06,301.22 L830.35,301.13 L830.64,301.03 L830.93,300.92 L831.22,300.80 L831.51,300.67 L831.80,300.54 L832.09,300.39 L832.38,300.24 L832.67,300.07 L832.96,299.90 L833.25,299.72 L833.55,299.53 L833.84,299.33 L834.13,299.13 L834.42,298.91 L834.71,298.69 L835.00,298.46 L835.29,298.22 L835.58,297.97 L835.87,297.72 L836.16,297.45 L836.45,297.18 L836.74,296.91 L837.04,296.62 L837.33,296.33 L837.62,296.03 L837.91,295.72 L838.20,295.40 L838.49,295.08 L838.78,294.75 L839.07,294.41 L839.36,294.07 L839.65,293.72 L839.94,293.36 L840.23,293.00 L840.52,292.63 L840.82,292.25 L841.11,291.87 L841.40,291.48 L841.69,291.09 L841.98,290.68 L842.27,290.28 L842.56,289.86 L842.85,289.44 L843.14,289.02 L843.43,288.58 L843.72,288.15 L844.01,287.70 L844.31,287.26 L844.60,286.80 L844.89,286.34 L845.18,285.88 L845.47,285.41 L845.76,284.93 L846.05,284.46 L846.34,283.97 L846.63,283.48 L846.92,282.99 L847.21,282.49 L847.50,281.99 L847.79,281.49 L848.09,280.98 L848.38,280.47 L848.67,279.95 L848.96,279.44 L849.25,278.91 L849.54,278.39 L849.83,277.86 L850.12,277.33 L850.41,276.80 L850.70,276.27 L850.99,275.73 L851.28,275.19 L851.58,274.65 L851.87,274.11 L852.16,273.57 L852.45,273.02 L852.74,272.48 L853.03,271.93 L853.32,271.38 L853.61,270.83 L853.90,270.28 L854.19,269.73 L854.48,269.18 L854.77,268.63 L855.07,268.08 L855.36,267.53 L855.65,266.98 L855.94,266.43 L856.23,265.88 L856.52,265.33 L856.81,264.79 L857.10,264.24 L857.39,263.70 L857.68,263.15 L857.97,262.61 L858.26,262.07 L858.55,261.53 L858.85,261.00 L859.14,260.46 L859.43,259.93 L859.72,259.40 L860.01,258.87 L860.30,258.35 L860.59,257.83 L860.88,257.31 L861.17,256.80 L861.46,256.28 L861.75,255.78 L862.04,255.27 L862.34,254.77 L862.63,254.28 L862.92,253.78 L863.21,253.30 L863.50,252.81 L863.79,252.33 L864.08,251.86 L864.37,251.39 L864.66,250.93 L864.95,250.47 L865.24,250.01 L865.53,249.56 L865.83,249.12 L866.12,248.69 L866.41,248.25 L866.70,247.83 L866.99,247.41 L867.28,247.00 L867.57,246.60 L867.86,246.20 L868.15,245.81 L868.44,245.42 L868.73,245.04 L869.02,244.67 L869.31,244.31 L869.61,243.96 L869.90,243.61 L870.19,243.27 L870.48,242.94 L870.77,242.61 L871.06,242.30 L871.35,241.99 L871.64,241.68 L871.93,241.39 L872.22,241.10 L872.51,240.82 L872.80,240.55 L873.10,240.28 L873.39,240.02 L873.68,239.77 L873.97,239.52 L874.26,239.29 L874.55,239.06 L874.84,238.83 L875.13,238.62 L875.42,238.41 L875.71,238.20 L876.00,238.01 L876.29,237.82 L876.58,237.64 L876.88,237.46 L877.17,237.29 L877.46,237.13 L877.75,236.98 L878.04,236.83 L878.33,236.69 L878.62,236.56 L878.91,236.43 L879.20,236.31 L879.49,236.19 L879.78,236.09 L880.07,235.99 L880.37,235.89 L880.66,235.80 L880.95,235.72 L881.24,235.65 L881.53,235.58 L881.82,235.52 L882.11,235.46 L882.40,235.41 L882.69,235.37 L882.98,235.33 L883.27,235.30 L883.56,235.28 L883.86,235.26 L884.15,235.25 L884.44,235.24 L884.73,235.25 L885.02,235.25 L885.31,235.27 L885.60,235.28 L885.89,235.31 L886.18,235.34 L886.47,235.38 L886.76,235.42 L887.05,235.47 L887.34,235.53 L887.64,235.59 L887.93,235.65 L888.22,235.73 L888.51,235.80 L888.80,235.89 L889.09,235.98 L889.38,236.07 L889.67,236.18 L889.96,236.28 L890.25,236.40 L890.54,236.51 L890.83,236.64 L891.13,236.77 L891.42,236.90 L891.71,237.04 L892.00,237.19 L892.29,237.34 L892.58,237.50 L892.87,237.66 L893.16,237.83 L893.45,238.00 L893.74,238.18 L894.03,238.36 L894.32,238.55 L894.61,238.75 L894.91,238.95 L895.20,239.15 L895.49,239.36 L895.78,239.58 L896.07,239.80 L896.36,240.02 L896.65,240.25 L896.94,240.49 L897.23,240.73 L897.52,240.98 L897.81,241.23 L898.10,241.48 L898.40,241.74 L898.69,242.01 L898.98,242.28 L899.27,242.55 L899.56,242.83 L899.85,243.11 L900.14,243.40 L900.43,243.70 L900.72,243.99 L901.01,244.29 L901.30,244.60 L901.59,244.90 L901.89,245.22 L902.18,245.53 L902.47,245.85 L902.76,246.17 L903.05,246.50 L903.34,246.83 L903.63,247.16 L903.92,247.50 L904.21,247.83 L904.50,248.17 L904.79,248.52 L905.08,248.86 L905.37,249.21 L905.67,249.56 L905.96,249.91 L906.25,250.27 L906.54,250.62 L906.83,250.98 L907.12,251.34 L907.41,251.70 L907.70,252.07 L907.99,252.43 L908.28,252.80 L908.57,253.16 L908.86,253.53 L909.16,253.90 L909.45,254.27 L909.74,254.64 L910.03,255.01 L910.32,255.38 L910.61,255.76 L910.90,256.13 L911.19,256.50 L911.48,256.87 L911.77,257.25 L912.06,257.62 L912.35,257.99 L912.64,258.36 L912.94,258.73 L913.23,259.10 L913.52,259.47 L913.81,259.84 L914.10,260.21 L914.39,260.58 L914.68,260.95 L914.97,261.31 L915.26,261.68 L915.55,262.04 L915.84,262.40 L916.13,262.76 L916.43,263.11 L916.72,263.47 L917.01,263.82 L917.30,264.17 L917.59,264.52 L917.88,264.87 L918.17,265.21 L918.46,265.56 L918.75,265.90 L919.04,266.23 L919.33,266.57 L919.62,266.90 L919.92,267.22 L920.21,267.55 L920.50,267.87 L920.79,268.18 L921.08,268.50 L921.37,268.81 L921.66,269.12 L921.95,269.42 L922.24,269.72 L922.53,270.01 L922.82,270.30 L923.11,270.59 L923.40,270.87 L923.70,271.15 L923.99,271.42 L924.28,271.69 L924.57,271.95 L924.86,272.21 L925.15,272.46 L925.44,272.71 L925.73,272.95 L926.02,273.18 L926.31,273.42 L926.60,273.64 L926.89,273.86 L927.19,274.08 L927.48,274.28 L927.77,274.49 L928.06,274.68 L928.35,274.87 L928.64,275.05 L928.93,275.23 L929.22,275.40 L929.51,275.57 L929.80,275.73 L930.09,275.88 L930.38,276.03 L930.68,276.18 L930.97,276.31 L931.26,276.44 L931.55,276.57 L931.84,276.69 L932.13,276.80 L932.42,276.91 L932.71,277.02 L933.00,277.11 L933.29,277.21 L933.58,277.29 L933.87,277.38 L934.16,277.45 L934.46,277.53 L934.75,277.59 L935.04,277.65 L935.33,277.71 L935.62,277.76 L935.91,277.81 L936.20,277.85 L936.49,277.89 L936.78,277.92 L937.07,277.95 L937.36,277.97 L937.65,277.99 L937.95,278.00 L938.24,278.01 L938.53,278.01 L938.82,278.01 L939.11,278.01 L939.40,278.00 L939.69,277.98 L939.98,277.97 L940.27,277.94 L940.56,277.92 L940.85,277.89 L941.14,277.85 L941.43,277.81 L941.73,277.77 L942.02,277.72 L942.31,277.67 L942.60,277.61 L942.89,277.55 L943.18,277.49 L943.47,277.42 L943.76,277.35 L944.05,277.28 L944.34,277.20 L944.63,277.12 L944.92,277.03 L945.22,276.95 L945.51,276.85 L945.80,276.76 L946.09,276.66 L946.38,276.56 L946.67,276.45 L946.96,276.34 L947.25,276.23 L947.54,276.11 L947.83,275.99 L948.12,275.87 L948.41,275.75 L948.71,275.62 L949.00,275.49 L949.29,275.35 L949.58,275.22 L949.87,275.08 L950.16,274.93 L950.45,274.79 L950.74,274.64 L951.03,274.49 L951.32,274.34 L951.61,274.18 L951.90,274.02 L952.19,273.86 L952.49,273.70 L952.78,273.53 L953.07,273.36 L953.36,273.19 L953.65,273.02 L953.94,272.84 L954.23,272.67 L954.52,272.49 L954.81,272.31 L955.10,272.12 L955.39,271.94 L955.68,271.75 L955.98,271.56 L956.27,271.37 L956.56,271.18 L956.85,270.98 L957.14,270.78 L957.43,270.58 L957.72,270.38 L958.01,270.18 L958.30,269.98 L958.59,269.77 L958.88,269.57 L959.17,269.36 L959.46,269.15 L959.76,268.94 L960.05,268.73 L960.34,268.52 L960.63,268.30 L960.92,268.09 L961.21,267.87 L961.50,267.65 L961.79,267.43 L962.08,267.21 L962.37,266.99 L962.66,266.77 L962.95,266.55 L963.25,266.32 L963.54,266.10 L963.83,265.87 L964.12,265.65 L964.41,265.42 L964.70,265.19 L964.99,264.97 L965.28,264.74 L965.57,264.51 L965.86,264.28 L966.15,264.05 L966.44,263.82 L966.74,263.59 L967.03,263.36 L967.32,263.13 L967.61,262.90 L967.90,262.67 L968.19,262.44 L968.48,262.21 L968.77,261.98 L969.06,261.74 L969.35,261.51 L969.64,261.28 L969.93,261.05 L970.22,260.82 L970.52,260.59 L970.81,260.36 L971.10,260.13 L971.39,259.90 L971.68,259.67 L971.97,259.45 L972.26,259.22 L972.55,258.99 L972.84,258.77 L973.13,258.54 L973.42,258.31 L973.71,258.09 L974.01,257.87 L974.30,257.64 L974.59,257.42 L974.88,257.20 L975.17,256.98 L975.46,256.76 L975.75,256.54 L976.04,256.33 L976.33,256.11 L976.62,255.90 L976.91,255.68 L977.20,255.47 L977.50,255.26 L977.79,255.05 L978.08,254.84 L978.37,254.64 L978.66,254.43 L978.95,254.23 L979.24,254.03 L979.53,253.83 L979.82,253.63 L980.11,253.43 L980.40,253.24 L980.69,253.04 L980.98,252.85 L981.28,252.66 L981.57,252.47 L981.86,252.29 L982.15,252.10 L982.44,251.92 L982.73,251.74 L983.02,251.57 L983.31,251.39 L983.60,251.22 L983.89,251.05 L984.18,250.88 L984.47,250.71 L984.77,250.55 L985.06,250.39 L985.35,250.23 L985.64,250.07 L985.93,249.92 L986.22,249.77 L986.51,249.62 L986.80,249.48 L987.09,249.33 L987.38,249.19 L987.67,249.06 L987.96,248.92 L988.25,248.79 L988.55,248.66 L988.84,248.54 L989.13,248.42 L989.42,248.30 L989.71,248.18 L990.00,248.07 L990.29,247.96 L990.58,247.85 L990.87,247.75 L991.16,247.65 L991.45,247.55 L991.74,247.46 L992.04,247.37 L992.33,247.29 L992.62,247.21 L992.91,247.13 L993.20,247.05 L993.49,246.98 L993.78,246.92 L994.07,246.85 L994.36,246.79 L994.65,246.74 L994.94,246.69 L995.23,246.64 L995.53,246.60 L995.82,246.56 L996.11,246.52 L996.40,246.49 L996.69,246.46 L996.98,246.44 L997.27,246.42 L997.56,246.41 L997.85,246.40 L998.14,246.39 L998.43,246.39 L998.72,246.40 L999.01,246.40 L999.31,246.42 L999.60,246.43 L999.89,246.46 L1000.18,246.48" stroke="#ff0000" stroke-width="3" fill="none" stroke-linejoin="miter" stroke-miterlimit="6"/>
<path d="M861.30,19.80 L861.30,139.32 L981.10,139.32" stroke="#000" stroke-width="1.2" fill="none"/>
<line x1="853.30" y1="19.80" x2="861.30" y2="19.80" stroke="#000" stroke-width="1.2"/>
<line x1="853.30" y1="69.60" x2="861.30" y2="69.60" stroke="#000" stroke-width="1.2"/>
<line x1="853.30" y1="119.40" x2="861.30" y2="119.40" stroke="#000" stroke-width="1.2"/>
<line x1="861.30" y1="139.32" x2="861.30" y2="147.32" stroke="#000" stroke-width="1.2"/>
<line x1="921.20" y1="139.32" x2="921.20" y2="147.32" stroke="#000" stroke-width="1.2"/>
<line x1="981.10" y1="139.32" x2="981.10" y2="147.32" stroke="#000" stroke-width="1.2"/>
<path d="M975.41,38.72 L969.82,38.01 L969.21,37.16 L968.61,37.04 L968.01,37.15 L967.40,37.27 L966.80,37.39 L966.21,37.51 L965.61,37.63 L965.02,37.76 L964.43,37.89 L963.84,38.02 L963.25,38.15 L962.66,38.29 L962.08,38.43 L961.50,38.57 L960.92,38.71 L960.34,38.85 L959.76,39.00 L959.19,39.15 L958.61,39.30 L958.04,39.46 L957.47,39.61 L956.91,39.77 L956.34,39.93 L955.78,40.10 L955.22,40.26 L954.66,40.43 L954.10,40.60 L953.54,40.77 L952.99,40.94 L952.44,41.12 L951.89,41.30 L951.34,41.48 L950.80,41.66 L950.25,41.84 L949.71,42.03 L949.17,42.22 L948.63,42.41 L948.10,42.60 L947.57,42.79 L947.03,42.99 L946.51,43.19 L945.98,43.39 L945.45,43.59 L944.93,43.79 L944.41,44.00 L943.89,44.21 L943.37,44.42 L942.86,44.63 L942.35,44.84 L941.84,45.05 L941.33,45.27 L940.82,45.49 L940.32,45.71 L939.82,45.93 L939.32,46.16 L938.82,46.38 L938.32,46.61 L937.83,46.84 L937.34,47.07 L936.85,47.30 L936.36,47.54 L935.88,47.77 L935.40,48.01 L934.92,48.25 L934.44,48.49 L933.96,48.73 L933.49,48.97 L933.02,49.22 L932.55,49.47 L932.08,49.72 L931.62,49.97 L931.15,50.22 L930.69,50.47 L930.24,50.73 L929.78,50.98 L929.33,51.24 L928.88,51.50 L928.43,51.76 L927.98,52.02 L927.54,52.29 L927.09,52.55 L926.65,52.82 L926.22,53.08 L925.78,53.35 L925.35,53.62 L924.92,53.90 L924.49,54.17 L924.07,54.44 L923.64,54.72 L923.22,55.00 L922.80,55.27 L922.39,55.55 L921.97,55.83 L921.56,56.12 L921.15,56.40 L920.75,56.68 L920.34,56.97 L919.94,57.26 L919.54,57.54 L919.15,57.83 L918.75,58.12 L918.36,58.41 L917.97,58.71 L917.58,59.00 L917.20,59.29 L916.82,59.59 L916.44,59.89 L916.06,60.18 L915.69,60.48 L915.31,60.78 L914.94,61.08 L914.58,61.39 L914.21,61.69 L913.85,61.99 L913.49,62.30 L913.13,62.60 L912.78,62.91 L912.43,63.22 L912.08,63.52 L911.73,63.83 L911.39,64.14 L911.04,64.45 L910.71,64.77 L910.37,65.08 L910.03,65.39 L909.70,65.71 L909.37,66.02 L909.05,66.34 L908.72,66.65 L908.40,66.97 L908.09,67.29 L907.77,67.61 L907.46,67.93 L907.15,68.25 L906.84,68.57 L906.53,68.89 L906.23,69.21 L905.93,69.53 L905.63,69.86 L905.34,70.18 L905.04,70.50 L904.76,70.83 L904.47,71.16 L904.18,71.48 L903.90,71.81 L903.62,72.14 L903.35,72.46 L903.07,72.79 L902.80,73.12 L902.53,73.45 L902.27,73.78 L902.00,74.11 L901.74,74.44 L901.49,74.77 L901.23,75.10 L900.98,75.43 L900.73,75.77 L900.48,76.10 L900.24,76.43 L900.00,76.76 L899.76,77.10 L899.52,77.43 L899.29,77.77 L899.06,78.10 L898.83,78.43 L898.60,78.77 L898.38,79.10 L898.16,79.44 L897.94,79.78 L897.73,80.11 L897.52,80.45 L897.31,80.78 L897.10,81.12 L896.90,81.46 L896.70,81.79 L896.50,82.13 L896.30,82.47 L896.11,82.80 L895.92,83.14 L895.73,83.48 L895.55,83.81 L895.37,84.15 L895.19,84.49 L895.01,84.83 L894.84,85.16 L894.67,85.50 L894.50,85.84 L894.33,86.17 L894.17,86.51 L894.01,86.85 L893.85,87.18 L893.70,87.52 L893.55,87.86 L893.40,88.19 L893.25,88.53 L893.11,88.87 L892.97,89.20 L892.83,89.54 L892.70,89.87 L892.57,90.21 L892.44,90.55 L892.31,90.88 L892.19,91.22 L892.07,91.55 L891.95,91.88 L891.84,92.22 L891.72,92.55 L891.62,92.88 L891.51,93.22 L891.40,93.55 L891.30,93.88 L891.21,94.21 L891.11,94.55 L891.02,94.88 L890.93,95.21 L890.84,95.54 L890.75,95.87 L890.67,96.20 L890.59,96.53 L890.51,96.85 L890.44,97.18 L890.37,97.51 L890.30,97.84 L890.23,98.16 L890.17,98.49 L890.11,98.81 L890.05,99.14 L889.99,99.46 L889.94,99.79 L889.89,100.11 L889.84,100.43 L889.79,100.75 L889.75,101.07 L889.71,101.39 L889.67,101.71 L889.64,102.03 L889.60,102.35 L889.57,102.67 L889.54,102.99 L889.52,103.30 L889.50,103.62 L889.48,103.93 L889.46,104.25 L889.44,104.56 L889.43,104.87 L889.42,105.18 L889.41,105.49 L889.40,105.80 L889.40,106.11 L889.40,106.42 L889.40,106.72 L889.40,107.03 L889.41,107.34 L889.42,107.64 L889.43,107.94 L889.44,108.24 L889.46,108.55 L889.48,108.85 L889.50,109.15 L889.52,109.44 L889.55,109.74 L889.57,110.04 L889.60,110.33 L889.63,110.63 L889.67,110.92 L889.71,111.21 L889.74,111.50 L889.79,111.79 L889.83,112.08 L889.87,112.37 L889.92,112.65 L889.97,112.94 L890.02,113.22 L890.08,113.50 L890.14,113.78 L890.20,114.06 L890.26,114.34 L890.32,114.62 L890.39,114.90 L890.45,115.17 L890.52,115.44 L890.60,115.72 L890.67,115.99 L890.75,116.26 L890.83,116.53 L890.91,116.79 L890.99,117.06 L891.07,117.32 L891.16,117.58 L891.25,117.85 L891.34,118.10 L891.43,118.36 L891.53,118.62 L891.62,118.88 L891.72,119.13 L891.82,119.38 L891.92,119.63 L892.03,119.88 L892.13,120.13 L892.24,120.38 L892.35,120.62 L892.46,120.86 L892.57,121.10 L892.69,121.34 L892.81,121.58 L892.92,121.82 L893.05,122.05 L893.17,122.29 L893.29,122.52 L893.42,122.75 L893.54,122.98 L893.67,123.20 L893.80,123.43 L893.93,123.65 L894.07,123.87 L894.20,124.09 L894.34,124.31 L894.48,124.52 L894.62,124.74 L894.76,124.95 L894.90,125.16 L895.04,125.37 L895.19,125.57 L895.34,125.78 L895.48,125.98 L895.63,126.18 L895.79,126.38 L895.94,126.58 L896.09,126.77 L896.25,126.96 L896.40,127.15 L896.56,127.34 L896.72,127.53 L896.88,127.71 L897.04,127.90 L897.21,128.08 L897.37,128.26 L897.54,128.43 L897.70,128.61 L897.87,128.78 L898.04,128.95 L898.21,129.12 L898.38,129.29 L898.55,129.45 L898.73,129.62 L898.90,129.78 L899.08,129.94 L899.25,130.09 L899.43,130.25 L899.61,130.40 L899.79,130.55 L899.97,130.70 L900.15,130.85 L900.34,130.99 L900.52,131.14 L900.70,131.28 L900.89,131.42 L901.08,131.56 L901.26,131.69 L901.45,131.83 L901.64,131.96 L901.83,132.09 L902.02,132.22 L902.21,132.34 L902.41,132.47 L902.60,132.59 L902.79,132.71 L902.99,132.83 L903.18,132.95 L903.38,133.06 L903.57,133.18 L903.77,133.29 L903.97,133.40 L904.17,133.51 L904.37,133.62 L904.57,133.72 L904.77,133.82 L904.97,133.93 L905.17,134.02 L905.37,134.12 L905.57,134.22 L905.78,134.31 L905.98,134.41 L906.18,134.50 L906.39,134.59 L906.59,134.67 L906.80,134.76 L907.00,134.84 L907.21,134.93 L907.41,135.01 L907.62,135.08 L907.83,135.16 L908.03,135.24 L908.24,135.31 L908.45,135.38 L908.66,135.45 L908.87,135.52 L909.08,135.59 L909.28,135.66 L909.49,135.72 L909.70,135.78 L909.91,135.84 L910.12,135.90 L910.33,135.96 L910.54,136.02 L910.75,136.07 L910.96,136.12 L911.17,136.18 L911.38,136.23 L911.59,136.27 L911.80,136.32 L912.01,136.36 L912.22,136.41 L912.43,136.45 L912.64,136.49 L912.85,136.53 L913.06,136.57 L913.27,136.60 L913.48,136.64 L913.69,136.67 L913.90,136.70 L914.11,136.73 L914.32,136.76 L914.53,136.79 L914.74,136.81 L914.94,136.83 L915.15,136.86 L915.36,136.88 L915.57,136.90 L915.78,136.92 L915.98,136.93 L916.19,136.95 L916.40,136.96 L916.60,136.97 L916.81,136.98 L917.01,136.99 L917.22,137.00 L917.42,137.01 L917.63,137.01 L917.83,137.02 L918.03,137.02 L918.24,137.02 L918.44,137.02 L918.64,137.02 L918.84,137.02 L919.04,137.01 L919.24,137.01 L919.44,137.00 L919.64,136.99 L919.84,136.98 L920.04,136.97 L920.23,136.96 L920.43,136.95 L920.63,136.93 L920.82,136.91 L921.02,136.90 L921.21,136.88 L921.40,136.86 L921.59,136.84 L921.78,136.82 L921.98,136.79 L922.16,136.77 L922.35,136.74 L922.54,136.71 L922.73,136.68 L922.91,136.65 L923.10,136.62 L923.28,136.59 L923.47,136.56 L923.65,136.52 L923.83,136.49 L924.01,136.45 L924.19,136.41 L924.37,136.37 L924.55,136.33 L924.72,136.29 L924.90,136.25 L925.07,136.20 L925.25,136.16 L925.42,136.11 L925.59,136.06 L925.76,136.01 L925.93,135.97 L926.10,135.91 L926.26,135.86 L926.43,135.81 L926.59,135.75 L926.75,135.70 L926.92,135.64 L927.08,135.59 L927.24,135.53 L927.39,135.47 L927.55,135.41 L927.71,135.35 L927.86,135.28 L928.01,135.22 L928.16,135.15 L928.31,135.09 L928.46,135.02 L928.61,134.95 L928.76,134.89 L928.90,134.82 L929.05,134.74 L929.19,134.67 L929.33,134.60 L929.47,134.53 L929.61,134.45 L929.75,134.38 L929.88,134.30 L930.02,134.22 L930.15,134.14 L930.29,134.06 L930.42,133.98 L930.55,133.90 L930.68,133.82 L930.80,133.74 L930.93,133.65 L931.06,133.57 L931.18,133.48 L931.30,133.39 L931.42,133.31 L931.54,133.22 L931.66,133.13 L931.78,133.04 L931.90,132.95 L932.01,132.85 L932.12,132.76 L932.24,132.67 L932.35,132.57 L932.46,132.48 L932.57,132.38 L932.67,132.28 L932.78,132.19 L932.88,132.09 L932.99,131.99 L933.09,131.89 L933.19,131.79 L933.29,131.69 L933.39,131.58 L933.49,131.48 L933.58,131.38 L933.68,131.27 L933.77,131.16 L933.86,131.06 L933.95,130.95 L934.04,130.84 L934.13,130.73 L934.22,130.63 L934.30,130.52 L934.39,130.40 L934.47,130.29 L934.55,130.18 L934.63,130.07 L934.71,129.96 L934.79,129.84 L934.86,129.73 L934.94,129.61 L935.01,129.50 L935.08,129.38 L935.16,129.26 L935.23,129.14 L935.29,129.03 L935.36,128.91 L935.43,128.79 L935.49,128.67 L935.55,128.55 L935.62,128.43 L935.68,128.31 L935.74,128.18 L935.79,128.06 L935.85,127.94 L935.91,127.82 L935.96,127.69 L936.01,127.57 L936.07,127.44 L936.12,127.32 L936.16,127.20 L936.21,127.07 L936.26,126.94 L936.30,126.82 L936.35,126.69 L936.39,126.56 L936.43,126.44 L936.47,126.31 L936.51,126.18 L936.54,126.05 L936.58,125.93 L936.61,125.80 L936.65,125.67 L936.68,125.54 L936.71,125.41 L936.74,125.28 L936.76,125.15 L936.79,125.02 L936.82,124.89 L936.84,124.76 L936.86,124.63 L936.88,124.50 L936.90,124.37 L936.92,124.24 L936.94,124.11 L936.95,123.98 L936.97,123.84 L936.98,123.71 L936.99,123.58 L937.00,123.45 L937.01,123.32 L937.02,123.19 L937.02,123.06 L937.03,122.93 L937.03,122.79 L937.03,122.66 L937.03,122.53 L937.03,122.40 L937.03,122.27 L937.03,122.14 L937.02,122.01 L937.02,121.88 L937.01,121.75 L937.00,121.62 L936.99,121.48 L936.98,121.35 L936.97,121.22 L936.95,121.09 L936.94,120.96 L936.92,120.83 L936.90,120.70 L936.88,120.58 L936.86,120.45 L936.84,120.32 L936.81,120.19 L936.79,120.06 L936.76,119.93 L936.73,119.80 L936.71,119.68 L936.67,119.55 L936.64,119.42 L936.61,119.29 L936.57,119.17 L936.54,119.04 L936.50,118.92 L936.46,118.79 L936.42,118.67 L936.38,118.54 L936.34,118.42 L936.29,118.29 L936.25,118.17 L936.20,118.05 L936.15,117.93 L936.10,117.80 L936.05,117.68 L936.00,117.56 L935.94,117.44 L935.89,117.32 L935.83,117.20 L935.77,117.08 L935.71,116.96 L935.65,116.85 L935.59,116.73 L935.53,116.61 L935.46,116.50 L935.40,116.38 L935.33,116.27 L935.26,116.15 L935.19,116.04 L935.12,115.92 L935.05,115.81 L934.98,115.70 L934.90,115.59 L934.83,115.48 L934.75,115.37 L934.67,115.26 L934.60,115.15 L934.52,115.05 L934.44,114.94 L934.35,114.83 L934.27,114.73 L934.19,114.62 L934.10,114.52 L934.02,114.42 L933.93,114.31 L933.84,114.21 L933.75,114.11 L933.66,114.01 L933.57,113.92 L933.48,113.82 L933.39,113.72 L933.29,113.63 L933.20,113.53 L933.10,113.44 L933.01,113.34 L932.91,113.25 L932.81,113.16 L932.71,113.07 L932.61,112.98 L932.51,112.89 L932.41,112.80 L932.31,112.72 L932.20,112.63 L932.10,112.55 L932.00,112.47 L931.89,112.38 L931.78,112.30 L931.68,112.22 L931.57,112.14 L931.46,112.06 L931.35,111.99 L931.24,111.91 L931.13,111.84 L931.02,111.76 L930.91,111.69 L930.80,111.62 L930.69,111.54 L930.57,111.47 L930.46,111.40 L930.34,111.34 L930.23,111.27 L930.11,111.20 L930.00,111.14 L929.88,111.07 L929.76,111.01 L929.65,110.95 L929.53,110.88 L929.41,110.82 L929.29,110.76 L929.17,110.71 L929.05,110.65 L928.93,110.59 L928.81,110.54 L928.69,110.48 L928.57,110.43 L928.44,110.37 L928.32,110.32 L928.20,110.27 L928.07,110.22 L927.95,110.17 L927.83,110.12 L927.70,110.07 L927.58,110.03 L927.45,109.98 L927.33,109.94 L927.20,109.89 L927.08,109.85 L926.95,109.81 L926.83,109.77 L926.70,109.73 L926.57,109.69 L926.45,109.65 L926.32,109.61 L926.19,109.58 L926.07,109.54 L925.94,109.51 L925.81,109.47 L925.68,109.44 L925.56,109.41 L925.43,109.38 L925.30,109.35 L925.17,109.32 L925.05,109.29 L924.92,109.26 L924.79,109.24 L924.66,109.21 L924.53,109.19 L924.41,109.16 L924.28,109.14 L924.15,109.12 L924.02,109.10 L923.90,109.08 L923.77,109.06 L923.64,109.04 L923.51,109.02 L923.38,109.01 L923.26,108.99 L923.13,108.97 L923.00,108.96 L922.88,108.95 L922.75,108.93 L922.62,108.92 L922.50,108.91 L922.37,108.90 L922.25,108.89 L922.12,108.88 L921.99,108.88 L921.87,108.87 L921.74,108.86 L921.62,108.86 L921.50,108.86 L921.37,108.85 L921.25,108.85 L921.12,108.85 L921.00,108.85 L920.88,108.85 L920.76,108.85 L920.63,108.85 L920.51,108.85 L920.39,108.86 L920.27,108.86 L920.15,108.86 L920.03,108.87 L919.91,108.88 L919.79,108.88 L919.67,108.89 L919.56,108.90 L919.44,108.91 L919.32,108.92 L919.21,108.93 L919.09,108.95 L918.97,108.96 L918.86,108.97 L918.75,108.99 L918.63,109.00 L918.52,109.02 L918.41,109.04 L918.30,109.05 L918.18,109.07 L918.07,109.09 L917.96,109.11 L917.85,109.13 L917.75,109.15 L917.64,109.18 L917.53,109.20 L917.43,109.22 L917.32,109.25 L917.21,109.27 L917.11,109.30 L917.01,109.33 L916.91,109.35 L916.80,109.38 L916.70,109.41 L916.60,109.44 L916.50,109.47 L916.40,109.50 L916.31,109.54 L916.21,109.57 L916.11,109.60 L916.02,109.64 L915.93,109.67 L915.83,109.71 L915.74,109.74 L915.65,109.78 L915.56,109.82 L915.47,109.86 L915.38,109.90 L915.29,109.94 L915.21,109.98 L915.12,110.02 L915.03,110.06 L914.95,110.11 L914.87,110.15 L914.78,110.19 L914.70,110.24 L914.62,110.29 L914.54,110.33 L914.46,110.38 L914.38,110.43 L914.31,110.48 L914.23,110.53 L914.16,110.58 L914.08,110.63 L914.01,110.68 L913.93,110.73 L913.86,110.78 L913.79,110.84 L913.72,110.89 L913.65,110.95 L913.58,111.00 L913.51,111.06 L913.45,111.11 L913.38,111.17 L913.32,111.23 L913.25,111.29 L913.19,111.35 L913.13,111.41 L913.06,111.47 L913.00,111.53 L912.94,111.59 L912.88,111.66 L912.82,111.72 L912.77,111.78 L912.71,111.85 L912.65,111.92 L912.60,111.98 L912.54,112.05 L912.49,112.12 L912.44,112.18 L912.39,112.25 L912.33,112.32 L912.28,112.39 L912.24,112.46 L912.19,112.53 L912.14,112.60 L912.09,112.67 L912.05,112.75 L912.00,112.82 L911.96,112.89 L911.91,112.97 L911.87,113.04 L911.83,113.12 L911.79,113.19 L911.75,113.27 L911.71,113.34 L911.67,113.42 L911.63,113.50 L911.59,113.57 L911.56,113.65 L911.52,113.73 L911.48,113.81 L911.45,113.89 L911.42,113.97 L911.39,114.05 L911.35,114.13 L911.32,114.21 L911.29,114.29 L911.26,114.37 L911.23,114.45 L911.21,114.54 L911.18,114.62 L911.15,114.70 L911.13,114.79 L911.10,114.87 L911.08,114.95 L911.06,115.04 L911.03,115.12 L911.01,115.21 L910.99,115.29 L910.97,115.38 L910.95,115.46 L910.93,115.55 L910.92,115.63 L910.90,115.72 L910.88,115.80 L910.87,115.89 L910.85,115.98 L910.84,116.06 L910.83,116.15 L910.81,116.24 L910.80,116.33 L910.79,116.41 L910.78,116.50 L910.77,116.59 L910.76,116.68 L910.76,116.77 L910.75,116.85 L910.74,116.94 L910.74,117.03 L910.73,117.12 L910.73,117.21 L910.73,117.30 L910.72,117.38 L910.72,117.47 L910.72,117.56 L910.72,117.65 L910.72,117.74 L910.72,117.83 L910.72,117.92 L910.72,118.01 L910.73,118.10 L910.73,118.18 L910.74,118.27 L910.74,118.36 L910.75,118.45 L910.75,118.54 L910.76,118.63 L910.77,118.72 L910.78,118.81 L910.79,118.89 L910.80,118.98 L910.81,119.07 L910.82,119.16 L910.84,119.25 L910.85,119.34 L910.86,119.42 L910.88,119.51 L910.89,119.60 L910.91,119.69 L910.93,119.77 L910.94,119.86 L910.96,119.95 L910.98,120.03 L911.00,120.12 L911.02,120.21 L911.04,120.29 L911.06,120.38 L911.08,120.47 L911.11,120.55 L911.13,120.64 L911.16,120.72 L911.18,120.81 L911.21,120.89 L911.23,120.97 L911.26,121.06 L911.29,121.14 L911.32,121.23 L911.35,121.31 L911.37,121.39 L911.41,121.47 L911.44,121.56 L911.47,121.64 L911.50,121.72 L911.53,121.80 L911.57,121.88 L911.60,121.96 L911.64,122.04 L911.67,122.12 L911.71,122.20 L911.75,122.28 L911.78,122.36 L911.82,122.43 L911.86,122.51 L911.90,122.59 L911.94,122.67 L911.98,122.74 L912.02,122.82 L912.07,122.89 L912.11,122.97 L912.15,123.04 L912.20,123.11 L912.24,123.19 L912.29,123.26 L912.33,123.33 L912.38,123.40 L912.43,123.48 L912.48,123.55 L912.52,123.62 L912.57,123.69 L912.62,123.75 L912.67,123.82 L912.73,123.89 L912.78,123.96 L912.83,124.02 L912.88,124.09 L912.93,124.15 L912.99,124.22 L913.04,124.28 L913.10,124.35 L913.15,124.41 L913.21,124.47 L913.26,124.53 L913.32,124.59 L913.38,124.65 L913.44,124.71 L913.50,124.77 L913.55,124.83 L913.61,124.89 L913.67,124.94 L913.73,125.00 L913.79,125.05 L913.86,125.11 L913.92,125.16 L913.98,125.21 L914.04,125.26 L914.11,125.32 L914.17,125.37 L914.23,125.42 L914.30,125.46 L914.36,125.51 L914.43,125.56 L914.49,125.60 L914.56,125.65 L914.63,125.69 L914.69,125.74 L914.76,125.78 L914.83,125.82 L914.90,125.86 L914.96,125.91 L915.03,125.94 L915.10,125.98 L915.17,126.02 L915.24,126.06 L915.31,126.10 L915.38,126.13 L915.45,126.17 L915.52,126.20 L915.60,126.23 L915.67,126.27 L915.74,126.30 L915.81,126.33 L915.89,126.36 L915.96,126.39 L916.03,126.42 L916.11,126.45 L916.18,126.48 L916.25,126.50 L916.33,126.53 L916.40,126.55 L916.48,126.58 L916.55,126.60 L916.63,126.62 L916.70,126.65 L916.78,126.67 L916.86,126.69 L916.93,126.71 L917.01,126.73 L917.09,126.75 L917.16,126.77 L917.24,126.78 L917.32,126.80 L917.40,126.82 L917.47,126.83 L917.55,126.85 L917.63,126.86 L917.71,126.87 L917.79,126.89 L917.87,126.90 L917.94,126.91 L918.02,126.92 L918.10,126.93 L918.18,126.94 L918.26,126.95 L918.34,126.96 L918.42,126.96 L918.50,126.97 L918.58,126.98 L918.66,126.98 L918.74,126.99 L918.82,126.99 L918.90,127.00 L918.98,127.00 L919.06,127.00 L919.14,127.00 L919.22,127.00 L919.30,127.00 L919.38,127.00 L919.46,127.00 L919.54,127.00 L919.63,127.00 L919.71,127.00 L919.79,127.00 L919.87,126.99 L919.95,126.99 L920.03,126.98 L920.11,126.98 L920.19,126.97 L920.27,126.97 L920.35,126.96 L920.43,126.95 L920.52,126.94 L920.60,126.93 L920.68,126.92 L920.76,126.91 L920.84,126.90 L920.92,126.89 L921.00,126.88 L921.08,126.87 L921.16,126.86 L921.24,126.84 L921.32,126.83 L921.40,126.82 L921.48,126.80 L921.56,126.79 L921.64,126.77 L921.72,126.76 L921.80,126.74 L921.88,126.72 L921.96,126.70 L922.04,126.69 L922.12,126.67 L922.20,126.65 L922.28,126.63 L922.35,126.61 L922.43,126.59 L922.51,126.57 L922.59,126.54 L922.67,126.52 L922.75,126.50 L922.82,126.48 L922.90,126.45 L922.98,126.43 L923.06,126.41 L923.13,126.38 L923.21,126.36 L923.29,126.33 L923.36,126.30 L923.44,126.28 L923.51,126.25 L923.59,126.22 L923.67,126.20 L923.74,126.17 L923.81,126.14 L923.89,126.11 L923.96,126.08 L924.04,126.05 L924.11,126.02 L924.19,125.99 L924.26,125.96 L924.33,125.93 L924.40,125.89 L924.48,125.86 L924.55,125.83 L924.62,125.80 L924.69,125.76 L924.76,125.73 L924.83,125.70 L924.90,125.66 L924.97,125.63 L925.04,125.59 L925.11,125.55 L925.18,125.52 L925.25,125.48 L925.32,125.45 L925.39,125.41 L925.45,125.37 L925.52,125.33 L925.59,125.30 L925.65,125.26 L925.72,125.22 L925.78,125.18 L925.85,125.14 L925.91,125.10 L925.98,125.06 L926.04,125.02 L926.11,124.98 L926.17,124.94 L926.23,124.90 L926.29,124.86 L926.35,124.81 L926.41,124.77 L926.48,124.73 L926.54,124.69 L926.60,124.64 L926.65,124.60 L926.71,124.56 L926.77,124.51 L926.83,124.47 L926.89,124.42 L926.94,124.38 L927.00,124.33 L927.05,124.29 L927.11,124.24 L927.16,124.20 L927.22,124.15 L927.27,124.11 L927.32,124.06 L927.38,124.01 L927.43,123.97 L927.48,123.92 L927.53,123.87 L927.58,123.82 L927.63,123.78 L927.68,123.73 L927.73,123.68 L927.77,123.63 L927.82,123.58 L927.87,123.53 L927.91,123.48 L927.96,123.44 L928.00,123.39 L928.05,123.34 L928.09,123.29 L928.13,123.24 L928.17,123.19 L928.21,123.14 L928.26,123.09 L928.30,123.03 L928.33,122.98 L928.37,122.93 L928.41,122.88 L928.45,122.83 L928.48,122.78 L928.52,122.73 L928.56,122.67 L928.59,122.62 L928.62,122.57 L928.66,122.52 L928.69,122.47 L928.72,122.41 L928.75,122.36 L928.78,122.31 L928.81,122.26 L928.84,122.20 L928.87,122.15 L928.89,122.10 L928.92,122.04 L928.94,121.99 L928.97,121.94 L928.99,121.88 L929.02,121.83 L929.04,121.77 L929.06,121.72 L929.08,121.67 L929.10,121.61 L929.12,121.56 L929.14,121.50 L929.15,121.45 L929.17,121.39 L929.19,121.34 L929.20,121.29 L929.21,121.23 L929.23,121.18 L929.24,121.12 L929.25,121.07 L929.26,121.01 L929.27,120.96 L929.28,120.90 L929.29,120.85 L929.29,120.79 L929.30,120.74 L929.31,120.68 L929.31,120.63 L929.31,120.57 L929.31,120.52 L929.32,120.46 L929.32,120.41 L929.32,120.35 L929.32,120.30 L929.31,120.24 L929.31,120.19 L929.31,120.13 L929.30,120.08 L929.30,120.02 L929.29,119.97 L929.28,119.91 L929.28,119.86 L929.27,119.80 L929.26,119.75 L929.25,119.69 L929.24,119.64 L929.22,119.58 L929.21,119.53 L929.20,119.47 L929.18,119.42 L929.17,119.36 L929.15,119.31 L929.14,119.25 L929.12,119.20 L929.10,119.14 L929.08,119.09 L929.06,119.04 L929.04,118.98 L929.02,118.93 L929.00,118.87 L928.98,118.82 L928.96,118.76 L928.93,118.71 L928.91,118.66 L928.88,118.60 L928.86,118.55 L928.83,118.50 L928.80,118.44 L928.77,118.39 L928.75,118.34 L928.72,118.28 L928.69,118.23 L928.66,118.18 L928.62,118.13 L928.59,118.07 L928.56,118.02 L928.53,117.97 L928.49,117.92 L928.46,117.87 L928.42,117.81 L928.39,117.76 L928.35,117.71 L928.32,117.66 L928.28,117.61 L928.24,117.56 L928.20,117.51 L928.16,117.46 L928.12,117.41 L928.08,117.36 L928.04,117.31 L928.00,117.26 L927.96,117.21 L927.92,117.16 L927.87,117.11 L927.83,117.06 L927.79,117.01 L927.74,116.96 L927.70,116.91 L927.65,116.86 L927.60,116.82 L927.56,116.77 L927.51,116.72 L927.46,116.67 L927.42,116.63 L927.37,116.58 L927.32,116.53 L927.27,116.49 L927.22,116.44 L927.17,116.39 L927.12,116.35 L927.07,116.30 L927.02,116.26 L926.96,116.21 L926.91,116.17 L926.86,116.12 L926.80,116.08 L926.75,116.04 L926.70,115.99 L926.64,115.95 L926.59,115.91 L926.53,115.86 L926.48,115.82 L926.42,115.78 L926.36,115.74 L926.31,115.69 L926.25,115.65 L926.19,115.61 L926.13,115.57 L926.08,115.53 L926.02,115.49 L925.96,115.45 L925.90,115.41 L925.84,115.37 L925.78,115.33 L925.72,115.29 L925.66,115.26 L925.60,115.22 L925.54,115.18 L925.48,115.14 L925.41,115.11 L925.35,115.07 L925.29,115.04 L925.23,115.00 L925.16,114.96 L925.10,114.93 L925.04,114.89 L924.97,114.86 L924.91,114.83 L924.85,114.79 L924.78,114.76 L924.72,114.73 L924.65,114.69 L924.59,114.66 L924.52,114.63 L924.46,114.60 L924.39,114.57 L924.33,114.54 L924.26,114.51 L924.20,114.48 L924.13,114.45 L924.06,114.42 L924.00,114.39 L923.93,114.37 L923.86,114.34 L923.80,114.31 L923.73,114.28 L923.66,114.26 L923.59,114.23 L923.53,114.21 L923.46,114.18 L923.39,114.16 L923.32,114.13 L923.26,114.11 L923.19,114.09 L923.12,114.07 L923.05,114.04 L922.98,114.02 L922.91,114.00 L922.85,113.98 L922.78,113.96 L922.71,113.94 L922.64,113.92 L922.57,113.90 L922.50,113.88 L922.43,113.87 L922.37,113.85 L922.30,113.83 L922.23,113.82 L922.16,113.80 L922.09,113.79 L922.02,113.77 L921.95,113.76 L921.88,113.74 L921.81,113.73 L921.75,113.72 L921.68,113.70 L921.61,113.69 L921.54,113.68 L921.47,113.67 L921.40,113.66 L921.33,113.65 L921.26,113.64 L921.20,113.64 L921.13,113.63 L921.06,113.62 L920.99,113.61 L920.92,113.61 L920.85,113.60 L920.79,113.60 L920.72,113.59 L920.65,113.59 L920.58,113.59 L920.51,113.58 L920.45,113.58 L920.38,113.58 L920.31,113.58 L920.25,113.58 L920.18,113.58 L920.11,113.58 L920.04,113.58 L919.98,113.59 L919.91,113.59 L919.85,113.59 L919.78,113.60 L919.71,113.60 L919.65,113.61 L919.58,113.61 L919.52,113.62" stroke="#0000ff" stroke-width="2" fill="none" stroke-linejoin="round"/>
<path d="M650.80,543.00 L650.80,895.10 L1002.80,895.10" stroke="#000" stroke-width="1.3" fill="none"/>
<line x1="642.80" y1="543.00" x2="650.80" y2="543.00" stroke="#000" stroke-width="1.3"/>
<text transform="matrix(0.3200 0 0 0.3200 617.080 554.300)" font-family="'Liberation Sans', Arial, Helvetica, sans-serif" font-size="100" fill="#000">2</text>
<line x1="642.80" y1="643.60" x2="650.80" y2="643.60" stroke="#000" stroke-width="1.3"/>
<text transform="matrix(0.3200 0 0 0.3200 616.760 654.740)" font-family="'Liberation Sans', Arial, Helvetica, sans-serif" font-size="100" fill="#000">0</text>
<line x1="642.80" y1="744.20" x2="650.80" y2="744.20" stroke="#000" stroke-width="1.3"/>
<text transform="matrix(0.3200 0 0 0.3200 606.520 755.500)" font-family="'Liberation Sans', Arial, Helvetica, sans-serif" font-size="100" fill="#000">-2</text>
<line x1="642.80" y1="844.80" x2="650.80" y2="844.80" stroke="#000" stroke-width="1.3"/>
<text transform="matrix(0.3200 0 0 0.3200 605.880 856.100)" font-family="'Liberation Sans', Arial, Helvetica, sans-serif" font-size="100" fill="#000">-4</text>
<line x1="650.80" y1="895.10" x2="650.80" y2="903.10" stroke="#000" stroke-width="1.3"/>
<text transform="matrix(0.3200 0 0 0.3200 642.790 934.640)" font-family="'Liberation Sans', Arial, Helvetica, sans-serif" font-size="100" fill="#000">0</text>
<line x1="738.80" y1="895.10" x2="738.80" y2="903.10" stroke="#000" stroke-width="1.3"/>
<text transform="matrix(0.3200 0 0 0.3200 730.950 934.480)" font-family="'Liberation Sans', Arial, Helvetica, sans-serif" font-size="100" fill="#000">5</text>
<line x1="826.80" y1="895.10" x2="826.80" y2="903.10" stroke="#000" stroke-width="1.3"/>
<text transform="matrix(0.3200 0 0 0.3200 809.350 934.640)" font-family="'Liberation Sans', Arial, Helvetica, sans-serif" font-size="100" fill="#000">10</text>
<line x1="914.80" y1="895.10" x2="914.80" y2="903.10" stroke="#000" stroke-width="1.3"/>
<text transform="matrix(0.3200 0 0 0.3200 897.350 934.480)" font-family="'Liberation Sans', Arial, Helvetica, sans-serif" font-size="100" fill="#000">15</text>
<line x1="1002.80" y1="895.10" x2="1002.80" y2="903.10" stroke="#000" stroke-width="1.3"/>
<text transform="matrix(0.3200 0 0 0.3200 985.830 934.640)" font-family="'Liberation Sans', Arial, Helvetica, sans-serif" font-size="100" fill="#000">20</text>
<path d="M650.80,643.60 L651.09,643.60 L651.38,643.60 L651.67,643.60 L651.96,643.60 L652.25,643.60 L652.54,643.60 L652.83,643.60 L653.13,643.60 L653.42,643.60 L653.71,643.60 L654.00,643.60 L654.29,643.60 L654.58,643.60 L654.87,643.60 L655.16,643.60 L655.45,643.60 L655.74,643.60 L656.03,643.60 L656.32,643.60 L656.61,643.60 L656.90,643.60 L657.19,643.60 L657.48,643.60 L657.78,643.60 L658.07,643.60 L658.36,643.60 L658.65,643.60 L658.94,643.60 L659.23,643.60 L659.52,643.60 L659.81,643.60 L660.10,643.60 L660.39,643.60 L660.68,643.60 L660.97,643.60 L661.26,643.60 L661.55,643.60 L661.84,643.60 L662.14,643.60 L662.43,643.60 L662.72,643.60 L663.01,643.60 L663.30,643.60 L663.59,643.60 L663.88,643.60 L664.17,643.60 L664.46,643.60 L664.75,643.60 L665.04,643.60 L665.33,643.60 L665.62,643.60 L665.91,643.60 L666.20,643.60 L666.49,643.60 L666.79,643.60 L667.08,643.60 L667.37,643.60 L667.66,643.60 L667.95,643.60 L668.24,643.60 L668.53,643.60 L668.82,643.60 L669.11,643.60 L669.40,643.60 L669.69,643.60 L669.98,643.60 L670.27,643.60 L670.56,643.60 L670.85,643.60 L671.14,643.60 L671.44,643.60 L671.73,643.60 L672.02,643.60 L672.31,643.60 L672.60,643.60 L672.89,643.60 L673.18,643.60 L673.47,643.60 L673.76,643.60 L674.05,643.60 L674.34,643.60 L674.63,643.60 L674.92,643.60 L675.21,643.60 L675.50,643.60 L675.80,643.60 L676.09,643.60 L676.38,643.60 L676.67,643.60 L676.96,643.60 L677.25,643.60 L677.54,643.60 L677.83,643.60 L678.12,643.60 L678.41,643.60 L678.70,643.60 L678.99,643.60 L679.28,643.60 L679.57,643.60 L679.86,643.60 L680.15,643.60 L680.45,643.60 L680.74,643.60 L681.03,643.60 L681.32,643.60 L681.61,643.60 L681.90,643.60 L682.19,643.60 L682.48,643.60 L682.77,643.60 L683.06,643.60 L683.35,643.60 L683.64,643.60 L683.93,643.60 L684.22,643.60 L684.51,643.60 L684.81,643.60 L685.10,643.60 L685.39,643.60 L685.68,643.60 L685.97,643.60 L686.26,643.60 L686.55,643.60 L686.84,643.60 L687.13,643.60 L687.42,643.60 L687.71,643.60 L688.00,643.60 L688.29,643.60 L688.58,643.60 L688.87,643.60 L689.16,643.60 L689.46,643.60 L689.75,643.60 L690.04,643.60 L690.33,643.60 L690.62,643.60 L690.91,643.60 L691.20,643.60 L691.49,643.60 L691.78,643.60 L692.07,643.60 L692.36,643.60 L692.65,643.60 L692.94,643.60 L693.23,643.60 L693.52,643.60 L693.82,643.60 L694.11,643.60 L694.40,643.60 L694.69,643.60 L694.98,643.60 L695.27,643.60 L695.56,643.60 L695.85,643.60 L696.14,643.60 L696.43,643.60 L696.72,643.60 L697.01,643.60 L697.30,643.60 L697.59,643.60 L697.88,643.60 L698.17,643.60 L698.47,643.60 L698.76,643.60 L699.05,643.60 L699.34,643.60 L699.63,643.60 L699.92,643.60 L700.21,643.60 L700.50,643.60 L700.79,643.60 L701.08,643.60 L701.37,643.60 L701.66,643.60 L701.95,643.60 L702.24,643.60 L702.53,643.60 L702.82,643.60 L703.12,643.60 L703.41,643.60 L703.70,643.60 L703.99,643.60 L704.28,643.60 L704.57,643.60 L704.86,643.60 L705.15,643.60 L705.44,643.60 L705.73,643.60 L706.02,643.60 L706.31,643.60 L706.60,643.60 L706.89,643.60 L707.18,643.60 L707.48,643.60 L707.77,643.60 L708.06,643.60 L708.35,643.60 L708.64,643.60 L708.93,643.60 L709.22,643.60 L709.51,643.60 L709.80,643.60 L710.09,643.60 L710.38,643.60 L710.67,643.60 L710.96,643.60 L711.25,643.60 L711.54,643.60 L711.83,643.60 L712.13,643.60 L712.42,643.60 L712.71,643.60 L713.00,643.60 L713.29,643.60 L713.58,643.60 L713.87,643.60 L714.16,643.60 L714.45,643.60 L714.74,643.60 L715.03,643.60 L715.32,643.60 L715.61,643.60 L715.90,643.60 L716.19,643.60 L716.49,643.60 L716.78,643.60 L717.07,643.60 L717.36,643.60 L717.65,643.60 L717.94,643.60 L718.23,643.60 L718.52,643.60 L718.81,643.60 L719.10,643.60 L719.39,643.60 L719.68,643.60 L719.97,643.60 L720.26,643.60 L720.55,643.60 L720.84,643.60 L721.14,643.60 L721.43,643.60 L721.72,643.60 L722.01,643.60 L722.30,643.60 L722.59,643.60 L722.88,643.60 L723.17,643.60 L723.46,643.60 L723.75,643.60 L724.04,643.60 L724.33,643.60 L724.62,643.60 L724.91,643.60 L725.20,643.60 L725.50,643.60 L725.79,643.60 L726.08,643.60 L726.37,643.60 L726.66,643.60 L726.95,643.60 L727.24,643.60 L727.53,643.60 L727.82,643.60 L728.11,643.60 L728.40,643.60 L728.69,643.60 L728.98,643.60 L729.27,643.60 L729.56,643.60 L729.85,643.60 L730.15,643.60 L730.44,643.60 L730.73,643.60 L731.02,643.60 L731.31,643.60 L731.60,643.60 L731.89,643.60 L732.18,643.60 L732.47,643.60 L732.76,643.60 L733.05,643.60 L733.34,643.60 L733.63,643.60 L733.92,643.60 L734.21,643.60 L734.50,643.60 L734.80,643.60 L735.09,643.60 L735.38,643.60 L735.67,643.60 L735.96,643.60 L736.25,643.60 L736.54,643.60 L736.83,643.60 L737.12,643.60 L737.41,643.60 L737.70,643.60 L737.99,643.60 L738.28,643.60 L738.57,643.60 L738.86,643.60 L739.16,643.60 L739.45,643.60 L739.74,643.65 L740.03,643.61 L740.32,643.51 L740.61,643.36 L740.90,643.15 L741.19,642.89 L741.48,642.58 L741.77,642.22 L742.06,641.80 L742.35,641.35 L742.64,640.84 L742.93,640.29 L743.22,639.69 L743.51,639.06 L743.81,638.38 L744.10,637.66 L744.39,636.91 L744.68,636.11 L744.97,635.28 L745.26,634.42 L745.55,633.52 L745.84,632.59 L746.13,631.63 L746.42,630.64 L746.71,629.63 L747.00,628.58 L747.29,627.52 L747.58,626.42 L747.87,625.31 L748.17,624.17 L748.46,623.01 L748.75,621.84 L749.04,620.64 L749.33,619.44 L749.62,618.21 L749.91,616.97 L750.20,615.72 L750.49,614.46 L750.78,613.19 L751.07,611.92 L751.36,610.63 L751.65,609.34 L751.94,608.04 L752.23,606.75 L752.52,605.45 L752.82,604.15 L753.11,602.85 L753.40,601.55 L753.69,600.26 L753.98,598.97 L754.27,597.69 L754.56,596.41 L754.85,595.15 L755.14,593.89 L755.43,592.65 L755.72,591.42 L756.01,590.20 L756.30,589.00 L756.59,587.82 L756.88,586.65 L757.18,585.50 L757.47,584.38 L757.76,583.27 L758.05,582.19 L758.34,581.14 L758.63,580.11 L758.92,579.10 L759.21,578.13 L759.50,577.19 L759.79,576.27 L760.08,575.39 L760.37,574.54 L760.66,573.71 L760.95,572.92 L761.24,572.16 L761.53,571.42 L761.83,570.71 L762.12,570.04 L762.41,569.39 L762.70,568.77 L762.99,568.17 L763.28,567.60 L763.57,567.06 L763.86,566.55 L764.15,566.06 L764.44,565.60 L764.73,565.17 L765.02,564.76 L765.31,564.38 L765.60,564.02 L765.89,563.68 L766.18,563.38 L766.48,563.09 L766.77,562.83 L767.06,562.59 L767.35,562.38 L767.64,562.19 L767.93,562.02 L768.22,561.87 L768.51,561.75 L768.80,561.65 L769.09,561.57 L769.38,561.51 L769.67,561.47 L769.96,561.46 L770.25,561.46 L770.54,561.49 L770.84,561.53 L771.13,561.59 L771.42,561.68 L771.71,561.78 L772.00,561.90 L772.29,562.04 L772.58,562.20 L772.87,562.38 L773.16,562.57 L773.45,562.78 L773.74,563.01 L774.03,563.26 L774.32,563.52 L774.61,563.80 L774.90,564.09 L775.19,564.40 L775.49,564.73 L775.78,565.07 L776.07,565.42 L776.36,565.79 L776.65,566.18 L776.94,566.58 L777.23,566.99 L777.52,567.42 L777.81,567.86 L778.10,568.31 L778.39,568.77 L778.68,569.25 L778.97,569.74 L779.26,570.24 L779.55,570.75 L779.85,571.28 L780.14,571.81 L780.43,572.36 L780.72,572.91 L781.01,573.48 L781.30,574.06 L781.59,574.64 L781.88,575.23 L782.17,575.84 L782.46,576.45 L782.75,577.07 L783.04,577.70 L783.33,578.34 L783.62,578.98 L783.91,579.63 L784.20,580.29 L784.50,580.96 L784.79,581.63 L785.08,582.31 L785.37,582.99 L785.66,583.68 L785.95,584.38 L786.24,585.09 L786.53,585.80 L786.82,586.51 L787.11,587.23 L787.40,587.96 L787.69,588.70 L787.98,589.43 L788.27,590.18 L788.56,590.93 L788.86,591.68 L789.15,592.44 L789.44,593.21 L789.73,593.98 L790.02,594.75 L790.31,595.53 L790.60,596.32 L790.89,597.11 L791.18,597.90 L791.47,598.69 L791.76,599.50 L792.05,600.30 L792.34,601.11 L792.63,601.92 L792.92,602.74 L793.21,603.56 L793.51,604.38 L793.80,605.20 L794.09,606.03 L794.38,606.87 L794.67,607.70 L794.96,608.54 L795.25,609.38 L795.54,610.22 L795.83,611.07 L796.12,611.92 L796.41,612.77 L796.70,613.62 L796.99,614.47 L797.28,615.33 L797.57,616.19 L797.86,617.05 L798.16,617.91 L798.45,618.77 L798.74,619.64 L799.03,620.50 L799.32,621.37 L799.61,622.24 L799.90,623.11 L800.19,623.98 L800.48,624.85 L800.77,625.72 L801.06,626.59 L801.35,627.46 L801.64,628.33 L801.93,629.20 L802.22,630.08 L802.52,630.95 L802.81,631.82 L803.10,632.69 L803.39,633.56 L803.68,634.43 L803.97,635.29 L804.26,636.16 L804.55,637.02 L804.84,637.88 L805.13,638.74 L805.42,639.59 L805.71,640.44 L806.00,641.29 L806.29,642.13 L806.58,642.96 L806.87,643.80 L807.17,644.63 L807.46,645.45 L807.75,646.26 L808.04,647.08 L808.33,647.88 L808.62,648.68 L808.91,649.47 L809.20,650.25 L809.49,651.03 L809.78,651.80 L810.07,652.56 L810.36,653.31 L810.65,654.05 L810.94,654.79 L811.23,655.51 L811.53,656.23 L811.82,656.93 L812.11,657.63 L812.40,658.31 L812.69,658.99 L812.98,659.65 L813.27,660.30 L813.56,660.94 L813.85,661.57 L814.14,662.18 L814.43,662.78 L814.72,663.37 L815.01,663.95 L815.30,664.51 L815.59,665.06 L815.88,665.59 L816.18,666.11 L816.47,666.61 L816.76,667.10 L817.05,667.58 L817.34,668.04 L817.63,668.49 L817.92,668.92 L818.21,669.34 L818.50,669.75 L818.79,670.14 L819.08,670.52 L819.37,670.89 L819.66,671.24 L819.95,671.58 L820.24,671.91 L820.54,672.22 L820.83,672.52 L821.12,672.81 L821.41,673.09 L821.70,673.35 L821.99,673.61 L822.28,673.85 L822.57,674.07 L822.86,674.29 L823.15,674.49 L823.44,674.69 L823.73,674.87 L824.02,675.04 L824.31,675.20 L824.60,675.34 L824.89,675.48 L825.19,675.60 L825.48,675.72 L825.77,675.82 L826.06,675.92 L826.35,676.00 L826.64,676.07 L826.93,676.13 L827.22,676.18 L827.51,676.23 L827.80,676.26 L828.09,676.28 L828.38,676.29 L828.67,676.30 L828.96,676.29 L829.25,676.27 L829.54,676.25 L829.84,676.22 L830.13,676.17 L830.42,676.12 L830.71,676.06 L831.00,675.99 L831.29,675.91 L831.58,675.83 L831.87,675.74 L832.16,675.63 L832.45,675.52 L832.74,675.41 L833.03,675.28 L833.32,675.15 L833.61,675.01 L833.90,674.86 L834.20,674.70 L834.49,674.54 L834.78,674.37 L835.07,674.19 L835.36,674.01 L835.65,673.82 L835.94,673.62 L836.23,673.42 L836.52,673.21 L836.81,672.99 L837.10,672.77 L837.39,672.54 L837.68,672.31 L837.97,672.07 L838.26,671.83 L838.55,671.57 L838.85,671.32 L839.14,671.06 L839.43,670.79 L839.72,670.52 L840.01,670.24 L840.30,669.96 L840.59,669.68 L840.88,669.38 L841.17,669.09 L841.46,668.79 L841.75,668.49 L842.04,668.18 L842.33,667.87 L842.62,667.55 L842.91,667.23 L843.21,666.91 L843.50,666.58 L843.79,666.25 L844.08,665.92 L844.37,665.58 L844.66,665.24 L844.95,664.90 L845.24,664.56 L845.53,664.21 L845.82,663.86 L846.11,663.51 L846.40,663.15 L846.69,662.79 L846.98,662.43 L847.27,662.07 L847.56,661.71 L847.86,661.34 L848.15,660.98 L848.44,660.61 L848.73,660.24 L849.02,659.87 L849.31,659.49 L849.60,659.12 L849.89,658.74 L850.18,658.37 L850.47,657.99 L850.76,657.61 L851.05,657.23 L851.34,656.85 L851.63,656.47 L851.92,656.08 L852.22,655.70 L852.51,655.32 L852.80,654.93 L853.09,654.55 L853.38,654.16 L853.67,653.77 L853.96,653.39 L854.25,653.00 L854.54,652.61 L854.83,652.22 L855.12,651.83 L855.41,651.45 L855.70,651.06 L855.99,650.67 L856.28,650.28 L856.57,649.89 L856.87,649.50 L857.16,649.12 L857.45,648.73 L857.74,648.34 L858.03,647.96 L858.32,647.57 L858.61,647.19 L858.90,646.80 L859.19,646.42 L859.48,646.03 L859.77,645.65 L860.06,645.27 L860.35,644.89 L860.64,644.51 L860.93,644.13 L861.22,643.75 L861.52,643.38 L861.81,643.00 L862.10,642.63 L862.39,642.26 L862.68,641.89 L862.97,641.52 L863.26,641.15 L863.55,640.79 L863.84,640.42 L864.13,640.06 L864.42,639.70 L864.71,639.34 L865.00,638.99 L865.29,638.63 L865.58,638.28 L865.88,637.93 L866.17,637.58 L866.46,637.24 L866.75,636.89 L867.04,636.55 L867.33,636.22 L867.62,635.88 L867.91,635.55 L868.20,635.22 L868.49,634.89 L868.78,634.56 L869.07,634.24 L869.36,633.92 L869.65,633.61 L869.94,633.29 L870.23,632.98 L870.53,632.68 L870.82,632.37 L871.11,632.07 L871.40,631.78 L871.69,631.48 L871.98,631.19 L872.27,630.91 L872.56,630.62 L872.85,630.35 L873.14,630.07 L873.43,629.80 L873.72,629.53 L874.01,629.27 L874.30,629.01 L874.59,628.75 L874.89,628.50 L875.18,628.25 L875.47,628.01 L875.76,627.77 L876.05,627.54 L876.34,627.31 L876.63,627.08 L876.92,626.86 L877.21,626.65 L877.50,626.43 L877.79,626.23 L878.08,626.03 L878.37,625.83 L878.66,625.64 L878.95,625.45 L879.24,625.27 L879.54,625.09 L879.83,624.92 L880.12,624.75 L880.41,624.59 L880.70,624.44 L880.99,624.29 L881.28,624.14 L881.57,624.00 L881.86,623.87 L882.15,623.74 L882.44,623.62 L882.73,623.50 L883.02,623.39 L883.31,623.29 L883.60,623.19 L883.90,623.10 L884.19,623.01 L884.48,622.93 L884.77,622.86 L885.06,622.79 L885.35,622.73 L885.64,622.68 L885.93,622.63 L886.22,622.59 L886.51,622.55 L886.80,622.53 L887.09,622.50 L887.38,622.49 L887.67,622.48 L887.96,622.48 L888.25,622.49 L888.55,622.50 L888.84,622.52 L889.13,622.55 L889.42,622.59 L889.71,622.63 L890.00,622.68 L890.29,622.74 L890.58,622.80 L890.87,622.88 L891.16,622.96 L891.45,623.04 L891.74,623.14 L892.03,623.24 L892.32,623.36 L892.61,623.48 L892.90,623.60 L893.20,623.74 L893.49,623.88 L893.78,624.03 L894.07,624.19 L894.36,624.36 L894.65,624.53 L894.94,624.71 L895.23,624.90 L895.52,625.09 L895.81,625.29 L896.10,625.50 L896.39,625.71 L896.68,625.93 L896.97,626.16 L897.26,626.39 L897.56,626.63 L897.85,626.87 L898.14,627.12 L898.43,627.37 L898.72,627.63 L899.01,627.89 L899.30,628.16 L899.59,628.43 L899.88,628.71 L900.17,628.99 L900.46,629.27 L900.75,629.56 L901.04,629.86 L901.33,630.15 L901.62,630.45 L901.91,630.76 L902.21,631.07 L902.50,631.38 L902.79,631.69 L903.08,632.01 L903.37,632.33 L903.66,632.65 L903.95,632.97 L904.24,633.30 L904.53,633.63 L904.82,633.96 L905.11,634.29 L905.40,634.62 L905.69,634.96 L905.98,635.29 L906.27,635.63 L906.57,635.97 L906.86,636.31 L907.15,636.65 L907.44,636.99 L907.73,637.33 L908.02,637.67 L908.31,638.01 L908.60,638.36 L908.89,638.70 L909.18,639.04 L909.47,639.38 L909.76,639.72 L910.05,640.06 L910.34,640.40 L910.63,640.73 L910.92,641.07 L911.22,641.40 L911.51,641.74 L911.80,642.07 L912.09,642.40 L912.38,642.73 L912.67,643.06 L912.96,643.38 L913.25,643.71 L913.54,644.03 L913.83,644.35 L914.12,644.67 L914.41,644.99 L914.70,645.30 L914.99,645.61 L915.28,645.92 L915.58,646.23 L915.87,646.54 L916.16,646.84 L916.45,647.14 L916.74,647.44 L917.03,647.74 L917.32,648.03 L917.61,648.32 L917.90,648.61 L918.19,648.89 L918.48,649.18 L918.77,649.46 L919.06,649.73 L919.35,650.01 L919.64,650.28 L919.93,650.54 L920.23,650.81 L920.52,651.07 L920.81,651.32 L921.10,651.58 L921.39,651.82 L921.68,652.07 L921.97,652.31 L922.26,652.55 L922.55,652.79 L922.84,653.02 L923.13,653.24 L923.42,653.47 L923.71,653.68 L924.00,653.90 L924.29,654.11 L924.58,654.31 L924.88,654.52 L925.17,654.71 L925.46,654.91 L925.75,655.09 L926.04,655.28 L926.33,655.46 L926.62,655.63 L926.91,655.80 L927.20,655.96 L927.49,656.12 L927.78,656.28 L928.07,656.43 L928.36,656.57 L928.65,656.71 L928.94,656.84 L929.24,656.97 L929.53,657.09 L929.82,657.21 L930.11,657.33 L930.40,657.44 L930.69,657.54 L930.98,657.64 L931.27,657.73 L931.56,657.82 L931.85,657.91 L932.14,657.99 L932.43,658.06 L932.72,658.14 L933.01,658.20 L933.30,658.27 L933.59,658.32 L933.89,658.38 L934.18,658.43 L934.47,658.47 L934.76,658.51 L935.05,658.55 L935.34,658.58 L935.63,658.61 L935.92,658.63 L936.21,658.65 L936.50,658.67 L936.79,658.68 L937.08,658.68 L937.37,658.69 L937.66,658.69 L937.95,658.68 L938.25,658.67 L938.54,658.66 L938.83,658.65 L939.12,658.63 L939.41,658.60 L939.70,658.58 L939.99,658.55 L940.28,658.51 L940.57,658.48 L940.86,658.43 L941.15,658.39 L941.44,658.34 L941.73,658.29 L942.02,658.24 L942.31,658.18 L942.60,658.12 L942.90,658.05 L943.19,657.99 L943.48,657.91 L943.77,657.84 L944.06,657.76 L944.35,657.68 L944.64,657.60 L944.93,657.52 L945.22,657.43 L945.51,657.33 L945.80,657.24 L946.09,657.14 L946.38,657.04 L946.67,656.94 L946.96,656.83 L947.26,656.73 L947.55,656.62 L947.84,656.50 L948.13,656.39 L948.42,656.27 L948.71,656.15 L949.00,656.02 L949.29,655.90 L949.58,655.77 L949.87,655.64 L950.16,655.51 L950.45,655.37 L950.74,655.24 L951.03,655.10 L951.32,654.96 L951.61,654.81 L951.91,654.67 L952.20,654.52 L952.49,654.37 L952.78,654.22 L953.07,654.07 L953.36,653.91 L953.65,653.75 L953.94,653.60 L954.23,653.44 L954.52,653.27 L954.81,653.11 L955.10,652.95 L955.39,652.78 L955.68,652.61 L955.97,652.44 L956.26,652.27 L956.56,652.10 L956.85,651.92 L957.14,651.75 L957.43,651.57 L957.72,651.39 L958.01,651.21 L958.30,651.03 L958.59,650.85 L958.88,650.67 L959.17,650.49 L959.46,650.30 L959.75,650.11 L960.04,649.93 L960.33,649.74 L960.62,649.55 L960.92,649.36 L961.21,649.17 L961.50,648.98 L961.79,648.79 L962.08,648.60 L962.37,648.40 L962.66,648.21 L962.95,648.02 L963.24,647.82 L963.53,647.63 L963.82,647.43 L964.11,647.23 L964.40,647.04 L964.69,646.84 L964.98,646.64 L965.27,646.45 L965.57,646.25 L965.86,646.05 L966.15,645.85 L966.44,645.65 L966.73,645.46 L967.02,645.26 L967.31,645.06 L967.60,644.86 L967.89,644.66 L968.18,644.47 L968.47,644.27 L968.76,644.07 L969.05,643.87 L969.34,643.67 L969.63,643.48 L969.93,643.28 L970.22,643.09 L970.51,642.89 L970.80,642.69 L971.09,642.50 L971.38,642.31 L971.67,642.11 L971.96,641.92 L972.25,641.73 L972.54,641.53 L972.83,641.34 L973.12,641.15 L973.41,640.96 L973.70,640.77 L973.99,640.59 L974.28,640.40 L974.58,640.21 L974.87,640.03 L975.16,639.85 L975.45,639.66 L975.74,639.48 L976.03,639.30 L976.32,639.12 L976.61,638.94 L976.90,638.77 L977.19,638.59 L977.48,638.42 L977.77,638.24 L978.06,638.07 L978.35,637.90 L978.64,637.73 L978.94,637.57 L979.23,637.40 L979.52,637.24 L979.81,637.08 L980.10,636.92 L980.39,636.76 L980.68,636.60 L980.97,636.45 L981.26,636.29 L981.55,636.14 L981.84,635.99 L982.13,635.84 L982.42,635.70 L982.71,635.55 L983.00,635.41 L983.29,635.27 L983.59,635.14 L983.88,635.00 L984.17,634.87 L984.46,634.74 L984.75,634.61 L985.04,634.48 L985.33,634.36 L985.62,634.24 L985.91,634.12 L986.20,634.01 L986.49,633.89 L986.78,633.78 L987.07,633.67 L987.36,633.57 L987.65,633.46 L987.94,633.36 L988.24,633.27 L988.53,633.17 L988.82,633.08 L989.11,632.99 L989.40,632.90 L989.69,632.82 L989.98,632.74 L990.27,632.66 L990.56,632.59 L990.85,632.52 L991.14,632.45 L991.43,632.39 L991.72,632.32 L992.01,632.27 L992.30,632.21 L992.60,632.16 L992.89,632.11 L993.18,632.07 L993.47,632.02 L993.76,631.99 L994.05,631.95 L994.34,631.92 L994.63,631.89 L994.92,631.87 L995.21,631.85 L995.50,631.84 L995.79,631.82 L996.08,631.81 L996.37,631.81 L996.66,631.81 L996.95,631.81 L997.25,631.82 L997.54,631.83 L997.83,631.85 L998.12,631.86 L998.41,631.89 L998.70,631.91 L998.99,631.95 L999.28,631.98" stroke="#0000ff" stroke-width="3" fill="none" stroke-linejoin="miter" stroke-miterlimit="6"/>
<path d="M650.80,643.60 L651.09,643.60 L651.38,643.60 L651.67,643.60 L651.96,643.60 L652.25,643.60 L652.54,643.60 L652.83,643.60 L653.13,643.60 L653.42,643.60 L653.71,643.60 L654.00,643.60 L654.29,643.60 L654.58,643.60 L654.87,643.60 L655.16,643.60 L655.45,643.60 L655.74,643.60 L656.03,643.60 L656.32,643.60 L656.61,643.60 L656.90,643.60 L657.19,643.60 L657.48,643.60 L657.78,643.60 L658.07,643.60 L658.36,643.60 L658.65,643.60 L658.94,643.60 L659.23,643.60 L659.52,643.60 L659.81,643.60 L660.10,643.60 L660.39,643.60 L660.68,643.60 L660.97,643.60 L661.26,643.60 L661.55,643.60 L661.84,643.60 L662.14,643.60 L662.43,643.60 L662.72,643.60 L663.01,643.60 L663.30,643.60 L663.59,643.60 L663.88,643.60 L664.17,643.60 L664.46,643.60 L664.75,643.60 L665.04,643.60 L665.33,643.60 L665.62,643.60 L665.91,643.60 L666.20,643.60 L666.49,643.60 L666.79,643.60 L667.08,643.60 L667.37,643.60 L667.66,643.60 L667.95,643.60 L668.24,643.60 L668.53,643.60 L668.82,643.60 L669.11,643.60 L669.40,643.60 L669.69,643.60 L669.98,643.60 L670.27,643.60 L670.56,643.60 L670.85,643.60 L671.14,643.60 L671.44,643.60 L671.73,643.60 L672.02,643.60 L672.31,643.60 L672.60,643.60 L672.89,643.60 L673.18,643.60 L673.47,643.60 L673.76,643.60 L674.05,643.60 L674.34,643.60 L674.63,643.60 L674.92,643.60 L675.21,643.60 L675.50,643.60 L675.80,643.60 L676.09,643.60 L676.38,643.60 L676.67,643.60 L676.96,643.60 L677.25,643.60 L677.54,643.60 L677.83,643.60 L678.12,643.60 L678.41,643.60 L678.70,643.60 L678.99,643.60 L679.28,643.60 L679.57,643.60 L679.86,643.60 L680.15,643.60 L680.45,643.60 L680.74,643.60 L681.03,643.60 L681.32,643.60 L681.61,643.60 L681.90,643.60 L682.19,643.60 L682.48,643.60 L682.77,643.60 L683.06,643.60 L683.35,643.60 L683.64,643.60 L683.93,643.60 L684.22,643.60 L684.51,643.60 L684.81,643.60 L685.10,643.60 L685.39,643.60 L685.68,643.60 L685.97,643.60 L686.26,643.60 L686.55,643.60 L686.84,643.60 L687.13,643.60 L687.42,643.60 L687.71,643.60 L688.00,643.60 L688.29,643.60 L688.58,643.60 L688.87,643.60 L689.16,643.60 L689.46,643.60 L689.75,643.60 L690.04,643.60 L690.33,643.60 L690.62,643.60 L690.91,643.60 L691.20,643.60 L691.49,643.60 L691.78,643.60 L692.07,643.60 L692.36,643.60 L692.65,643.60 L692.94,643.60 L693.23,643.60 L693.52,643.60 L693.82,643.60 L694.11,643.60 L694.40,643.60 L694.69,643.60 L694.98,643.60 L695.27,643.60 L695.56,643.60 L695.85,643.60 L696.14,643.60 L696.43,643.60 L696.72,643.60 L697.01,643.60 L697.30,643.60 L697.59,643.60 L697.88,643.60 L698.17,643.60 L698.47,643.60 L698.76,643.60 L699.05,643.60 L699.34,643.60 L699.63,643.60 L699.92,643.60 L700.21,643.60 L700.50,643.60 L700.79,643.60 L701.08,643.60 L701.37,643.60 L701.66,643.60 L701.95,643.60 L702.24,643.60 L702.53,643.60 L702.82,643.60 L703.12,643.60 L703.41,643.60 L703.70,643.60 L703.99,643.60 L704.28,643.60 L704.57,643.60 L704.86,643.60 L705.15,643.60 L705.44,643.60 L705.73,643.60 L706.02,643.60 L706.31,643.60 L706.60,643.60 L706.89,643.60 L707.18,643.60 L707.48,643.60 L707.77,643.60 L708.06,643.60 L708.35,643.60 L708.64,643.60 L708.93,643.60 L709.22,643.60 L709.51,643.60 L709.80,643.60 L710.09,643.60 L710.38,643.60 L710.67,643.60 L710.96,643.60 L711.25,643.60 L711.54,643.60 L711.83,643.60 L712.13,643.60 L712.42,643.60 L712.71,643.60 L713.00,643.60 L713.29,643.60 L713.58,643.60 L713.87,643.60 L714.16,643.60 L714.45,643.60 L714.74,643.60 L715.03,643.60 L715.32,643.60 L715.61,643.60 L715.90,643.60 L716.19,643.60 L716.49,643.60 L716.78,643.60 L717.07,643.60 L717.36,643.60 L717.65,643.60 L717.94,643.60 L718.23,643.60 L718.52,643.60 L718.81,643.60 L719.10,643.60 L719.39,643.60 L719.68,643.60 L719.97,643.60 L720.26,643.60 L720.55,643.60 L720.84,643.60 L721.14,643.60 L721.43,643.60 L721.72,643.60 L722.01,643.60 L722.30,643.60 L722.59,643.60 L722.88,643.60 L723.17,643.60 L723.46,643.60 L723.75,643.60 L724.04,643.60 L724.33,643.60 L724.62,643.60 L724.91,643.60 L725.20,643.60 L725.50,643.60 L725.79,643.60 L726.08,643.60 L726.37,643.60 L726.66,643.60 L726.95,643.60 L727.24,643.60 L727.53,643.60 L727.82,643.60 L728.11,643.60 L728.40,643.60 L728.69,643.60 L728.98,643.60 L729.27,643.60 L729.56,643.60 L729.85,643.60 L730.15,643.60 L730.44,643.60 L730.73,643.60 L731.02,643.60 L731.31,643.60 L731.60,643.60 L731.89,643.60 L732.18,643.60 L732.47,643.60 L732.76,643.60 L733.05,643.60 L733.34,643.60 L733.63,643.60 L733.92,643.60 L734.21,643.60 L734.50,643.60 L734.80,643.60 L735.09,643.60 L735.38,643.60 L735.67,643.60 L735.96,643.60 L736.25,643.60 L736.54,643.60 L736.83,643.60 L737.12,643.60 L737.41,643.60 L737.70,643.60 L737.99,643.60 L738.28,643.60 L738.57,643.60 L738.86,643.60 L739.16,643.60 L739.45,643.60 L739.74,643.70 L740.03,644.95 L740.32,647.42 L740.61,650.94 L740.90,655.34 L741.19,660.46 L741.48,666.11 L741.77,672.13 L742.06,678.34 L742.35,684.59 L742.64,690.69 L742.93,696.58 L743.22,702.26 L743.51,707.75 L743.81,713.05 L744.10,718.19 L744.39,723.18 L744.68,728.03 L744.97,732.76 L745.26,737.39 L745.55,741.91 L745.84,746.36 L746.13,750.75 L746.42,755.08 L746.71,759.37 L747.00,763.65 L747.29,767.91 L747.58,772.18 L747.87,776.48 L748.17,780.80 L748.46,785.18 L748.75,789.62 L749.04,794.14 L749.33,798.74 L749.62,803.41 L749.91,808.14 L750.20,812.89 L750.49,817.66 L750.78,822.42 L751.07,827.16 L751.36,831.86 L751.65,836.50 L751.94,841.06 L752.23,845.52 L752.52,849.31 L752.82,847.26 L753.11,845.20 L753.40,843.15 L753.69,841.10 L753.98,839.06 L754.27,837.01 L754.56,834.96 L754.85,832.91 L755.14,830.86 L755.43,828.80 L755.72,826.74 L756.01,824.68 L756.30,822.62 L756.59,820.54 L756.88,818.47 L757.18,816.39 L757.47,814.30 L757.76,812.20 L758.05,810.10 L758.34,807.99 L758.63,805.87 L758.92,803.74 L759.21,801.60 L759.50,799.45 L759.79,797.29 L760.08,795.11 L760.37,792.93 L760.66,790.73 L760.95,788.52 L761.24,786.30 L761.53,784.06 L761.83,781.82 L762.12,779.57 L762.41,777.30 L762.70,775.03 L762.99,772.75 L763.28,770.46 L763.57,768.17 L763.86,765.87 L764.15,763.56 L764.44,761.24 L764.73,758.92 L765.02,756.60 L765.31,754.27 L765.60,751.94 L765.89,749.60 L766.18,747.27 L766.48,744.93 L766.77,742.58 L767.06,740.24 L767.35,737.90 L767.64,735.56 L767.93,733.22 L768.22,730.88 L768.51,728.54 L768.80,726.21 L769.09,723.89 L769.38,721.57 L769.67,719.26 L769.96,716.96 L770.25,714.66 L770.54,712.38 L770.84,710.11 L771.13,707.86 L771.42,705.61 L771.71,703.39 L772.00,701.17 L772.29,698.98 L772.58,696.80 L772.87,694.65 L773.16,692.51 L773.45,690.39 L773.74,688.30 L774.03,686.23 L774.32,684.18 L774.61,682.16 L774.90,680.17 L775.19,678.20 L775.49,676.26 L775.78,674.35 L776.07,672.47 L776.36,670.63 L776.65,668.81 L776.94,667.03 L777.23,665.28 L777.52,663.55 L777.81,661.86 L778.10,660.19 L778.39,658.56 L778.68,656.95 L778.97,655.37 L779.26,653.81 L779.55,652.28 L779.85,650.78 L780.14,649.30 L780.43,647.84 L780.72,646.41 L781.01,645.00 L781.30,643.61 L781.59,642.25 L781.88,640.91 L782.17,639.59 L782.46,638.29 L782.75,637.02 L783.04,635.76 L783.33,634.53 L783.62,633.32 L783.91,632.13 L784.20,630.97 L784.50,629.82 L784.79,628.70 L785.08,627.60 L785.37,626.51 L785.66,625.45 L785.95,624.42 L786.24,623.40 L786.53,622.40 L786.82,621.42 L787.11,620.47 L787.40,619.53 L787.69,618.61 L787.98,617.72 L788.27,616.84 L788.56,615.99 L788.86,615.15 L789.15,614.34 L789.44,613.54 L789.73,612.76 L790.02,612.01 L790.31,611.27 L790.60,610.55 L790.89,609.85 L791.18,609.17 L791.47,608.51 L791.76,607.87 L792.05,607.24 L792.34,606.64 L792.63,606.05 L792.92,605.49 L793.21,604.94 L793.51,604.40 L793.80,603.89 L794.09,603.40 L794.38,602.92 L794.67,602.46 L794.96,602.02 L795.25,601.59 L795.54,601.19 L795.83,600.80 L796.12,600.43 L796.41,600.07 L796.70,599.73 L796.99,599.41 L797.28,599.11 L797.57,598.82 L797.86,598.55 L798.16,598.30 L798.45,598.06 L798.74,597.84 L799.03,597.64 L799.32,597.45 L799.61,597.27 L799.90,597.12 L800.19,596.98 L800.48,596.85 L800.77,596.74 L801.06,596.65 L801.35,596.57 L801.64,596.51 L801.93,596.46 L802.22,596.43 L802.52,596.41 L802.81,596.41 L803.10,596.42 L803.39,596.45 L803.68,596.49 L803.97,596.54 L804.26,596.61 L804.55,596.69 L804.84,596.79 L805.13,596.90 L805.42,597.02 L805.71,597.16 L806.00,597.30 L806.29,597.47 L806.58,597.64 L806.87,597.83 L807.17,598.02 L807.46,598.24 L807.75,598.46 L808.04,598.69 L808.33,598.94 L808.62,599.19 L808.91,599.46 L809.20,599.74 L809.49,600.03 L809.78,600.33 L810.07,600.64 L810.36,600.96 L810.65,601.29 L810.94,601.63 L811.23,601.98 L811.53,602.34 L811.82,602.71 L812.11,603.09 L812.40,603.48 L812.69,603.88 L812.98,604.28 L813.27,604.69 L813.56,605.12 L813.85,605.55 L814.14,605.98 L814.43,606.43 L814.72,606.88 L815.01,607.34 L815.30,607.81 L815.59,608.29 L815.88,608.77 L816.18,609.26 L816.47,609.75 L816.76,610.26 L817.05,610.76 L817.34,611.28 L817.63,611.80 L817.92,612.32 L818.21,612.85 L818.50,613.39 L818.79,613.93 L819.08,614.48 L819.37,615.03 L819.66,615.58 L819.95,616.14 L820.24,616.71 L820.54,617.28 L820.83,617.85 L821.12,618.43 L821.41,619.01 L821.70,619.59 L821.99,620.17 L822.28,620.76 L822.57,621.36 L822.86,621.95 L823.15,622.55 L823.44,623.15 L823.73,623.75 L824.02,624.35 L824.31,624.96 L824.60,625.57 L824.89,626.17 L825.19,626.78 L825.48,627.39 L825.77,628.01 L826.06,628.62 L826.35,629.23 L826.64,629.85 L826.93,630.46 L827.22,631.07 L827.51,631.69 L827.80,632.30 L828.09,632.91 L828.38,633.52 L828.67,634.14 L828.96,634.75 L829.25,635.35 L829.54,635.96 L829.84,636.57 L830.13,637.17 L830.42,637.77 L830.71,638.37 L831.00,638.97 L831.29,639.57 L831.58,640.16 L831.87,640.75 L832.16,641.34 L832.45,641.92 L832.74,642.50 L833.03,643.08 L833.32,643.65 L833.61,644.22 L833.90,644.79 L834.20,645.35 L834.49,645.91 L834.78,646.46 L835.07,647.01 L835.36,647.55 L835.65,648.09 L835.94,648.62 L836.23,649.15 L836.52,649.67 L836.81,650.18 L837.10,650.69 L837.39,651.20 L837.68,651.70 L837.97,652.19 L838.26,652.67 L838.55,653.15 L838.85,653.62 L839.14,654.08 L839.43,654.54 L839.72,654.98 L840.01,655.42 L840.30,655.86 L840.59,656.28 L840.88,656.70 L841.17,657.11 L841.46,657.51 L841.75,657.90 L842.04,658.29 L842.33,658.67 L842.62,659.04 L842.91,659.41 L843.21,659.76 L843.50,660.11 L843.79,660.45 L844.08,660.79 L844.37,661.11 L844.66,661.43 L844.95,661.75 L845.24,662.05 L845.53,662.35 L845.82,662.64 L846.11,662.92 L846.40,663.20 L846.69,663.47 L846.98,663.73 L847.27,663.98 L847.56,664.23 L847.86,664.47 L848.15,664.70 L848.44,664.93 L848.73,665.15 L849.02,665.36 L849.31,665.56 L849.60,665.76 L849.89,665.95 L850.18,666.14 L850.47,666.32 L850.76,666.49 L851.05,666.65 L851.34,666.81 L851.63,666.96 L851.92,667.10 L852.22,667.24 L852.51,667.37 L852.80,667.50 L853.09,667.61 L853.38,667.72 L853.67,667.83 L853.96,667.93 L854.25,668.02 L854.54,668.10 L854.83,668.18 L855.12,668.25 L855.41,668.32 L855.70,668.38 L855.99,668.43 L856.28,668.48 L856.57,668.52 L856.87,668.55 L857.16,668.58 L857.45,668.60 L857.74,668.62 L858.03,668.63 L858.32,668.63 L858.61,668.63 L858.90,668.62 L859.19,668.60 L859.48,668.58 L859.77,668.56 L860.06,668.52 L860.35,668.48 L860.64,668.44 L860.93,668.39 L861.22,668.33 L861.52,668.27 L861.81,668.20 L862.10,668.13 L862.39,668.05 L862.68,667.96 L862.97,667.87 L863.26,667.77 L863.55,667.67 L863.84,667.56 L864.13,667.45 L864.42,667.33 L864.71,667.21 L865.00,667.08 L865.29,666.94 L865.58,666.80 L865.88,666.65 L866.17,666.50 L866.46,666.35 L866.75,666.18 L867.04,666.01 L867.33,665.84 L867.62,665.66 L867.91,665.48 L868.20,665.29 L868.49,665.10 L868.78,664.90 L869.07,664.69 L869.36,664.48 L869.65,664.27 L869.94,664.05 L870.23,663.82 L870.53,663.59 L870.82,663.36 L871.11,663.12 L871.40,662.87 L871.69,662.63 L871.98,662.37 L872.27,662.11 L872.56,661.85 L872.85,661.58 L873.14,661.31 L873.43,661.03 L873.72,660.75 L874.01,660.47 L874.30,660.18 L874.59,659.89 L874.89,659.59 L875.18,659.29 L875.47,658.99 L875.76,658.68 L876.05,658.37 L876.34,658.06 L876.63,657.74 L876.92,657.42 L877.21,657.10 L877.50,656.77 L877.79,656.44 L878.08,656.11 L878.37,655.78 L878.66,655.44 L878.95,655.10 L879.24,654.76 L879.54,654.42 L879.83,654.07 L880.12,653.73 L880.41,653.38 L880.70,653.03 L880.99,652.67 L881.28,652.32 L881.57,651.96 L881.86,651.61 L882.15,651.25 L882.44,650.89 L882.73,650.53 L883.02,650.17 L883.31,649.80 L883.60,649.44 L883.90,649.08 L884.19,648.71 L884.48,648.35 L884.77,647.98 L885.06,647.62 L885.35,647.25 L885.64,646.89 L885.93,646.52 L886.22,646.15 L886.51,645.79 L886.80,645.42 L887.09,645.06 L887.38,644.69 L887.67,644.33 L887.96,643.97 L888.25,643.60 L888.55,643.24 L888.84,642.88 L889.13,642.52 L889.42,642.16 L889.71,641.81 L890.00,641.45 L890.29,641.10 L890.58,640.74 L890.87,640.39 L891.16,640.04 L891.45,639.70 L891.74,639.35 L892.03,639.01 L892.32,638.67 L892.61,638.33 L892.90,637.99 L893.20,637.66 L893.49,637.32 L893.78,637.00 L894.07,636.67 L894.36,636.35 L894.65,636.03 L894.94,635.71 L895.23,635.39 L895.52,635.08 L895.81,634.78 L896.10,634.47 L896.39,634.17 L896.68,633.88 L896.97,633.58 L897.26,633.29 L897.56,633.01 L897.85,632.73 L898.14,632.45 L898.43,632.18 L898.72,631.91 L899.01,631.65 L899.30,631.39 L899.59,631.13 L899.88,630.88 L900.17,630.64 L900.46,630.40 L900.75,630.16 L901.04,629.93 L901.33,629.71 L901.62,629.49 L901.91,629.27 L902.21,629.06 L902.50,628.86 L902.79,628.66 L903.08,628.47 L903.37,628.29 L903.66,628.11 L903.95,627.93 L904.24,627.77 L904.53,627.61 L904.82,627.45 L905.11,627.30 L905.40,627.16 L905.69,627.03 L905.98,626.90 L906.27,626.78 L906.57,626.67 L906.86,626.56 L907.15,626.46 L907.44,626.37 L907.73,626.28 L908.02,626.20 L908.31,626.13 L908.60,626.06 L908.89,626.00 L909.18,625.95 L909.47,625.90 L909.76,625.86 L910.05,625.83 L910.34,625.80 L910.63,625.78 L910.92,625.77 L911.22,625.76 L911.51,625.75 L911.80,625.76 L912.09,625.76 L912.38,625.78 L912.67,625.80 L912.96,625.82 L913.25,625.85 L913.54,625.89 L913.83,625.93 L914.12,625.98 L914.41,626.03 L914.70,626.09 L914.99,626.15 L915.28,626.21 L915.58,626.29 L915.87,626.36 L916.16,626.44 L916.45,626.53 L916.74,626.62 L917.03,626.71 L917.32,626.81 L917.61,626.92 L917.90,627.02 L918.19,627.14 L918.48,627.25 L918.77,627.37 L919.06,627.50 L919.35,627.63 L919.64,627.76 L919.93,627.90 L920.23,628.03 L920.52,628.18 L920.81,628.33 L921.10,628.48 L921.39,628.63 L921.68,628.79 L921.97,628.95 L922.26,629.11 L922.55,629.28 L922.84,629.45 L923.13,629.62 L923.42,629.80 L923.71,629.98 L924.00,630.16 L924.29,630.34 L924.58,630.53 L924.88,630.72 L925.17,630.91 L925.46,631.10 L925.75,631.30 L926.04,631.50 L926.33,631.70 L926.62,631.90 L926.91,632.11 L927.20,632.31 L927.49,632.52 L927.78,632.73 L928.07,632.95 L928.36,633.16 L928.65,633.37 L928.94,633.59 L929.24,633.81 L929.53,634.03 L929.82,634.25 L930.11,634.47 L930.40,634.70 L930.69,634.92 L930.98,635.15 L931.27,635.38 L931.56,635.60 L931.85,635.83 L932.14,636.06 L932.43,636.29 L932.72,636.52 L933.01,636.75 L933.30,636.98 L933.59,637.21 L933.89,637.45 L934.18,637.68 L934.47,637.91 L934.76,638.14 L935.05,638.38 L935.34,638.61 L935.63,638.84 L935.92,639.07 L936.21,639.31 L936.50,639.54 L936.79,639.77 L937.08,640.01 L937.37,640.24 L937.66,640.47 L937.95,640.70 L938.25,640.93 L938.54,641.17 L938.83,641.40 L939.12,641.63 L939.41,641.86 L939.70,642.09 L939.99,642.32 L940.28,642.55 L940.57,642.78 L940.86,643.00 L941.15,643.23 L941.44,643.46 L941.73,643.68 L942.02,643.91 L942.31,644.13 L942.60,644.36 L942.90,644.58 L943.19,644.80 L943.48,645.02 L943.77,645.24 L944.06,645.46 L944.35,645.68 L944.64,645.90 L944.93,646.12 L945.22,646.33 L945.51,646.54 L945.80,646.76 L946.09,646.97 L946.38,647.18 L946.67,647.39 L946.96,647.60 L947.26,647.80 L947.55,648.01 L947.84,648.21 L948.13,648.41 L948.42,648.61 L948.71,648.81 L949.00,649.01 L949.29,649.21 L949.58,649.40 L949.87,649.59 L950.16,649.78 L950.45,649.97 L950.74,650.16 L951.03,650.35 L951.32,650.53 L951.61,650.71 L951.91,650.89 L952.20,651.07 L952.49,651.25 L952.78,651.42 L953.07,651.59 L953.36,651.76 L953.65,651.93 L953.94,652.10 L954.23,652.26 L954.52,652.42 L954.81,652.58 L955.10,652.74 L955.39,652.89 L955.68,653.04 L955.97,653.19 L956.26,653.34 L956.56,653.48 L956.85,653.63 L957.14,653.76 L957.43,653.90 L957.72,654.04 L958.01,654.17 L958.30,654.30 L958.59,654.42 L958.88,654.55 L959.17,654.67 L959.46,654.78 L959.75,654.90 L960.04,655.01 L960.33,655.12 L960.62,655.23 L960.92,655.33 L961.21,655.43 L961.50,655.53 L961.79,655.62 L962.08,655.71 L962.37,655.80 L962.66,655.88 L962.95,655.96 L963.24,656.04 L963.53,656.11 L963.82,656.18 L964.11,656.25 L964.40,656.32 L964.69,656.38 L964.98,656.43 L965.27,656.49 L965.57,656.54 L965.86,656.58 L966.15,656.63 L966.44,656.66 L966.73,656.70 L967.02,656.73 L967.31,656.76 L967.60,656.78 L967.89,656.80 L968.18,656.82 L968.47,656.83 L968.76,656.84 L969.05,656.84 L969.34,656.84 L969.63,656.84 L969.93,656.83 L970.22,656.82 L970.51,656.80 L970.80,656.78 L971.09,656.76 L971.38,656.73 L971.67,656.69 L971.96,656.66 L972.25,656.61 L972.54,656.57 L972.83,656.52 L973.12,656.46 L973.41,656.40 L973.70,656.33 L973.99,656.27 L974.28,656.19 L974.58,656.11 L974.87,656.03 L975.16,655.94 L975.45,655.85 L975.74,655.75 L976.03,655.65 L976.32,655.54 L976.61,655.43 L976.90,655.32 L977.19,655.20 L977.48,655.08 L977.77,654.95 L978.06,654.82 L978.35,654.69 L978.64,654.55 L978.94,654.41 L979.23,654.27 L979.52,654.12 L979.81,653.97 L980.10,653.82 L980.39,653.66 L980.68,653.50 L980.97,653.34 L981.26,653.18 L981.55,653.01 L981.84,652.84 L982.13,652.67 L982.42,652.50 L982.71,652.32 L983.00,652.14 L983.29,651.97 L983.59,651.78 L983.88,651.60 L984.17,651.42 L984.46,651.23 L984.75,651.04 L985.04,650.86 L985.33,650.67 L985.62,650.48 L985.91,650.28 L986.20,650.09 L986.49,649.90 L986.78,649.70 L987.07,649.51 L987.36,649.32 L987.65,649.12 L987.94,648.92 L988.24,648.73 L988.53,648.53 L988.82,648.34 L989.11,648.14 L989.40,647.95 L989.69,647.75 L989.98,647.56 L990.27,647.36 L990.56,647.17 L990.85,646.98 L991.14,646.79 L991.43,646.59 L991.72,646.40 L992.01,646.22 L992.30,646.03 L992.60,645.84 L992.89,645.66 L993.18,645.48 L993.47,645.29 L993.76,645.12 L994.05,644.94 L994.34,644.76 L994.63,644.59 L994.92,644.42 L995.21,644.25 L995.50,644.08 L995.79,643.92 L996.08,643.76 L996.37,643.60 L996.66,643.44 L996.95,643.29 L997.25,643.14 L997.54,642.99 L997.83,642.85 L998.12,642.71 L998.41,642.57 L998.70,642.43 L998.99,642.30 L999.28,642.18" stroke="#ff0000" stroke-width="3" fill="none" stroke-linejoin="miter" stroke-miterlimit="6"/>
<path d="M844.15,729.92 L844.15,848.55 L962.50,848.55" stroke="#000" stroke-width="1.2" fill="none"/>
<line x1="836.15" y1="757.30" x2="844.15" y2="757.30" stroke="#000" stroke-width="1.2"/>
<line x1="836.15" y1="793.80" x2="844.15" y2="793.80" stroke="#000" stroke-width="1.2"/>
<line x1="836.15" y1="830.30" x2="844.15" y2="830.30" stroke="#000" stroke-width="1.2"/>
<line x1="883.60" y1="848.55" x2="883.60" y2="856.55" stroke="#000" stroke-width="1.2"/>
<line x1="962.50" y1="848.55" x2="962.50" y2="856.55" stroke="#000" stroke-width="1.2"/>
<path d="M914.77,831.03 L915.35,830.60 L915.92,830.18 L916.50,829.76 L917.07,829.34 L917.64,828.92 L918.22,828.50 L918.79,828.08 L919.35,827.66 L919.92,827.24 L920.49,826.82 L921.05,826.40 L921.61,825.98 L922.17,825.56 L922.72,825.14 L923.27,824.71 L923.82,824.29 L924.37,823.87 L924.91,823.45 L925.45,823.02 L925.98,822.60 L926.51,822.18 L927.04,821.75 L927.56,821.33 L928.08,820.90 L928.59,820.47 L929.10,820.05 L929.60,819.62 L930.10,819.19 L930.59,818.76 L931.08,818.33 L931.55,817.90 L932.03,817.47 L932.50,817.03 L932.96,816.60 L933.41,816.16 L933.86,815.73 L934.30,815.29 L934.73,814.85 L935.16,814.41 L935.57,813.97 L935.98,813.52 L936.39,813.08 L936.78,812.63 L937.17,812.19 L937.55,811.74 L937.92,811.29 L938.29,810.84 L938.64,810.39 L938.99,809.93 L939.34,809.48 L939.67,809.02 L940.00,808.56 L940.32,808.10 L940.63,807.64 L940.94,807.18 L941.24,806.72 L941.53,806.26 L941.82,805.79 L942.10,805.32 L942.37,804.86 L942.63,804.39 L942.89,803.92 L943.14,803.45 L943.38,802.98 L943.62,802.51 L943.85,802.04 L944.07,801.57 L944.29,801.09 L944.50,800.62 L944.71,800.14 L944.90,799.67 L945.09,799.19 L945.28,798.71 L945.46,798.24 L945.63,797.76 L945.79,797.28 L945.95,796.80 L946.11,796.32 L946.25,795.84 L946.39,795.36 L946.53,794.88 L946.66,794.40 L946.78,793.92 L946.89,793.44 L947.00,792.96 L947.11,792.48 L947.21,792.00 L947.30,791.52 L947.39,791.04 L947.47,790.56 L947.54,790.08 L947.61,789.60 L947.68,789.12 L947.74,788.64 L947.79,788.16 L947.84,787.68 L947.88,787.20 L947.92,786.73 L947.95,786.25 L947.97,785.78 L947.99,785.30 L948.01,784.83 L948.02,784.35 L948.02,783.88 L948.02,783.41 L948.02,782.94 L948.01,782.47 L947.99,782.01 L947.97,781.54 L947.95,781.08 L947.92,780.61 L947.88,780.15 L947.84,779.69 L947.80,779.24 L947.75,778.78 L947.69,778.33 L947.63,777.88 L947.57,777.43 L947.50,776.98 L947.43,776.53 L947.35,776.09 L947.27,775.65 L947.18,775.21 L947.09,774.77 L947.00,774.34 L946.90,773.91 L946.80,773.48 L946.69,773.05 L946.58,772.63 L946.46,772.21 L946.34,771.79 L946.22,771.38 L946.09,770.97 L945.96,770.56 L945.82,770.16 L945.68,769.75 L945.54,769.36 L945.39,768.96 L945.24,768.57 L945.08,768.18 L944.92,767.80 L944.76,767.42 L944.59,767.04 L944.42,766.67 L944.25,766.30 L944.07,765.93 L943.89,765.57 L943.71,765.21 L943.52,764.86 L943.33,764.50 L943.14,764.16 L942.94,763.81 L942.74,763.47 L942.54,763.13 L942.33,762.79 L942.12,762.46 L941.91,762.13 L941.69,761.81 L941.47,761.49 L941.25,761.17 L941.02,760.85 L940.80,760.54 L940.57,760.23 L940.33,759.92 L940.10,759.61 L939.86,759.31 L939.62,759.01 L939.37,758.72 L939.13,758.42 L938.88,758.13 L938.63,757.84 L938.37,757.56 L938.11,757.27 L937.86,756.99 L937.59,756.71 L937.33,756.44 L937.06,756.17 L936.80,755.90 L936.53,755.63 L936.25,755.36 L935.98,755.10 L935.70,754.84 L935.42,754.58 L935.14,754.33 L934.86,754.08 L934.58,753.83 L934.29,753.58 L934.00,753.33 L933.71,753.09 L933.42,752.85 L933.13,752.61 L932.83,752.38 L932.53,752.15 L932.24,751.92 L931.94,751.69 L931.63,751.46 L931.33,751.24 L931.03,751.02 L930.72,750.80 L930.41,750.59 L930.10,750.38 L929.79,750.17 L929.48,749.96 L929.16,749.75 L928.84,749.55 L928.53,749.35 L928.21,749.15 L927.89,748.95 L927.57,748.76 L927.24,748.57 L926.92,748.38 L926.59,748.19 L926.26,748.01 L925.93,747.83 L925.60,747.65 L925.27,747.47 L924.94,747.30 L924.61,747.12 L924.27,746.95 L923.93,746.79 L923.59,746.62 L923.26,746.46 L922.91,746.30 L922.57,746.14 L922.23,745.98 L921.89,745.83 L921.54,745.67 L921.19,745.52 L920.85,745.38 L920.50,745.23 L920.15,745.09 L919.80,744.95 L919.45,744.81 L919.09,744.67 L918.74,744.54 L918.38,744.41 L918.03,744.28 L917.67,744.15 L917.31,744.02 L916.95,743.90 L916.59,743.78 L916.23,743.66 L915.87,743.54 L915.51,743.43 L915.14,743.31 L914.78,743.20 L914.42,743.09 L914.05,742.99 L913.68,742.88 L913.31,742.78 L912.95,742.68 L912.58,742.58 L912.21,742.49 L911.84,742.39 L911.47,742.30 L911.09,742.21 L910.72,742.12 L910.35,742.04 L909.97,741.95 L909.60,741.87 L909.22,741.79 L908.85,741.72 L908.47,741.64 L908.09,741.57 L907.72,741.49 L907.34,741.43 L906.96,741.36 L906.58,741.29 L906.20,741.23 L905.82,741.17 L905.44,741.11 L905.06,741.05 L904.68,740.99 L904.30,740.94 L903.92,740.89 L903.53,740.84 L903.15,740.79 L902.77,740.74 L902.38,740.70 L902.00,740.65 L901.62,740.61 L901.23,740.57 L900.85,740.54 L900.46,740.50 L900.08,740.47 L899.69,740.44 L899.30,740.41 L898.92,740.38 L898.53,740.35 L898.15,740.33 L897.76,740.31 L897.37,740.29 L896.99,740.27 L896.60,740.25 L896.22,740.24 L895.83,740.22 L895.44,740.21 L895.05,740.20 L894.67,740.19 L894.28,740.19 L893.89,740.18 L893.51,740.18 L893.12,740.18 L892.74,740.18 L892.35,740.18 L891.96,740.18 L891.58,740.19 L891.19,740.20 L890.81,740.21 L890.42,740.22 L890.04,740.23 L889.66,740.24 L889.27,740.26 L888.89,740.27 L888.51,740.29 L888.13,740.31 L887.75,740.34 L887.37,740.36 L886.99,740.38 L886.61,740.41 L886.23,740.44 L885.86,740.47 L885.48,740.50 L885.11,740.53 L884.74,740.56 L884.36,740.60 L883.99,740.64 L883.62,740.67 L883.25,740.71 L882.89,740.75 L882.52,740.80 L882.16,740.84 L881.79,740.88 L881.43,740.93 L881.07,740.98 L880.72,741.03 L880.36,741.08 L880.00,741.13 L879.65,741.18 L879.30,741.24 L878.95,741.29 L878.60,741.35 L878.25,741.41 L877.91,741.47 L877.57,741.53 L877.23,741.59 L876.89,741.65 L876.55,741.72 L876.22,741.78 L875.89,741.85 L875.56,741.92 L875.23,741.99 L874.90,742.06 L874.58,742.13 L874.26,742.20 L873.94,742.27 L873.62,742.35 L873.31,742.42 L873.00,742.50 L872.69,742.58 L872.39,742.66 L872.08,742.74 L871.78,742.82 L871.49,742.90 L871.19,742.98 L870.90,743.07 L870.61,743.15 L870.33,743.24 L870.04,743.32 L869.76,743.41 L869.49,743.50 L869.21,743.59 L868.94,743.68 L868.68,743.77 L868.41,743.86 L868.15,743.96 L867.89,744.05 L867.64,744.15 L867.39,744.24 L867.14,744.34 L866.90,744.44 L866.66,744.53 L866.42,744.63 L866.19,744.73 L865.96,744.83 L865.74,744.94 L865.51,745.04 L865.30,745.14 L865.08,745.24 L864.87,745.35 L864.66,745.45 L864.46,745.56 L864.26,745.66 L864.06,745.77 L863.87,745.88 L863.68,745.99 L863.49,746.10 L863.31,746.21 L863.13,746.32 L862.95,746.43 L862.78,746.54 L862.61,746.65 L862.44,746.76 L862.28,746.88 L862.12,746.99 L861.96,747.10 L861.81,747.22 L861.66,747.33 L861.52,747.45 L861.37,747.56 L861.23,747.68 L861.10,747.80 L860.96,747.92 L860.83,748.03 L860.70,748.15 L860.58,748.27 L860.46,748.39 L860.34,748.51 L860.23,748.63 L860.11,748.75 L860.00,748.87 L859.90,748.99 L859.80,749.11 L859.70,749.23 L859.60,749.36 L859.51,749.48 L859.41,749.60 L859.33,749.72 L859.24,749.85 L859.16,749.97 L859.08,750.09 L859.00,750.22 L858.93,750.34 L858.86,750.47 L858.79,750.59 L858.73,750.71 L858.66,750.84 L858.60,750.96 L858.55,751.09 L858.49,751.21 L858.44,751.34 L858.39,751.46 L858.35,751.59 L858.30,751.72 L858.26,751.84 L858.22,751.97 L858.19,752.09 L858.16,752.22 L858.13,752.35 L858.10,752.47 L858.07,752.60 L858.05,752.72 L858.03,752.85 L858.01,752.97 L858.00,753.10 L857.98,753.23 L857.97,753.35 L857.97,753.48 L857.96,753.60 L857.96,753.73 L857.96,753.85 L857.96,753.98 L857.96,754.10 L857.97,754.23 L857.98,754.35 L857.99,754.48 L858.00,754.60 L858.02,754.73 L858.03,754.85 L858.05,754.98 L858.08,755.10 L858.10,755.22 L858.13,755.35 L858.16,755.47 L858.19,755.59 L858.22,755.71 L858.26,755.84 L858.29,755.96 L858.33,756.08 L858.37,756.20 L858.42,756.32 L858.46,756.44 L858.51,756.56 L858.56,756.68 L858.61,756.80 L858.66,756.92 L858.72,757.04 L858.78,757.16 L858.84,757.27 L858.90,757.39 L858.96,757.51 L859.02,757.62 L859.09,757.74 L859.16,757.86 L859.23,757.97 L859.30,758.08 L859.37,758.20 L859.45,758.31 L859.53,758.42 L859.61,758.54 L859.69,758.65 L859.77,758.76 L859.85,758.87 L859.94,758.98 L860.03,759.09 L860.12,759.20 L860.21,759.31 L860.30,759.41 L860.39,759.52 L860.49,759.63 L860.59,759.73 L860.68,759.84 L860.78,759.94 L860.89,760.04 L860.99,760.14 L861.09,760.25 L861.20,760.35 L861.31,760.45 L861.41,760.55 L861.52,760.65 L861.64,760.74 L861.75,760.84 L861.86,760.94 L861.98,761.03 L862.09,761.13 L862.21,761.22 L862.33,761.31 L862.45,761.40 L862.57,761.50 L862.70,761.59 L862.82,761.67 L862.95,761.76 L863.07,761.85 L863.20,761.94 L863.33,762.02 L863.46,762.11 L863.59,762.19 L863.72,762.27 L863.86,762.36 L863.99,762.44 L864.13,762.52 L864.26,762.60 L864.40,762.68 L864.54,762.75 L864.68,762.83 L864.82,762.91 L864.96,762.98 L865.10,763.05 L865.25,763.13 L865.39,763.20 L865.54,763.27 L865.68,763.34 L865.83,763.41 L865.97,763.48 L866.12,763.55 L866.27,763.62 L866.42,763.68 L866.57,763.75 L866.72,763.81 L866.88,763.88 L867.03,763.94 L867.18,764.00 L867.34,764.06 L867.49,764.12 L867.65,764.18 L867.80,764.24 L867.96,764.30 L868.12,764.36 L868.27,764.41 L868.43,764.47 L868.59,764.52 L868.75,764.58 L868.91,764.63 L869.07,764.68 L869.23,764.73 L869.39,764.78 L869.56,764.83 L869.72,764.88 L869.88,764.93 L870.04,764.98 L870.21,765.02 L870.37,765.07 L870.53,765.11 L870.70,765.16 L870.86,765.20 L871.03,765.24 L871.19,765.28 L871.36,765.32 L871.53,765.36 L871.69,765.40 L871.86,765.44 L872.03,765.48 L872.20,765.52 L872.36,765.55 L872.53,765.59 L872.70,765.62 L872.87,765.66 L873.04,765.69 L873.21,765.72 L873.38,765.75 L873.55,765.78 L873.72,765.81 L873.89,765.84 L874.06,765.87 L874.23,765.90 L874.40,765.92 L874.57,765.95 L874.74,765.97 L874.91,766.00 L875.08,766.02 L875.25,766.04 L875.42,766.07 L875.60,766.09 L875.77,766.11 L875.94,766.13 L876.11,766.15 L876.28,766.16 L876.45,766.18 L876.63,766.20 L876.80,766.21 L876.97,766.23 L877.14,766.24 L877.32,766.26 L877.49,766.27 L877.66,766.28 L877.83,766.30 L878.00,766.31 L878.18,766.32 L878.35,766.33 L878.52,766.33 L878.69,766.34 L878.87,766.35 L879.04,766.36 L879.21,766.36 L879.38,766.37 L879.55,766.37 L879.72,766.37 L879.90,766.38 L880.07,766.38 L880.24,766.38 L880.41,766.38 L880.58,766.38 L880.75,766.38 L880.92,766.38 L881.09,766.38 L881.26,766.37 L881.43,766.37 L881.60,766.37 L881.77,766.36 L881.94,766.36 L882.11,766.35 L882.28,766.34 L882.45,766.34 L882.62,766.33 L882.79,766.32 L882.95,766.31 L883.12,766.30 L883.29,766.29 L883.46,766.27 L883.62,766.26 L883.79,766.25 L883.96,766.24 L884.12,766.22 L884.29,766.21 L884.45,766.19 L884.62,766.17 L884.78,766.16 L884.95,766.14 L885.11,766.12 L885.27,766.10 L885.44,766.08 L885.60,766.06 L885.76,766.04 L885.92,766.02 L886.08,766.00 L886.25,765.97 L886.41,765.95 L886.57,765.92 L886.73,765.90 L886.88,765.87 L887.04,765.85 L887.20,765.82 L887.36,765.79 L887.51,765.77 L887.67,765.74 L887.83,765.71 L887.98,765.68 L888.14,765.65 L888.29,765.62 L888.44,765.58 L888.60,765.55 L888.75,765.52 L888.90,765.48 L889.05,765.45 L889.20,765.41 L889.35,765.38 L889.50,765.34 L889.65,765.31 L889.80,765.27 L889.95,765.23 L890.09,765.19 L890.24,765.15 L890.38,765.11 L890.53,765.07 L890.67,765.03 L890.82,764.99 L890.96,764.95 L891.10,764.90 L891.24,764.86 L891.38,764.82 L891.52,764.77 L891.66,764.73 L891.80,764.68 L891.93,764.63 L892.07,764.59 L892.21,764.54 L892.34,764.49 L892.47,764.44 L892.61,764.39 L892.74,764.34 L892.87,764.29 L893.00,764.24 L893.13,764.19 L893.26,764.14 L893.39,764.09 L893.51,764.03 L893.64,763.98 L893.77,763.93 L893.89,763.87 L894.01,763.82 L894.14,763.76 L894.26,763.70 L894.38,763.65 L894.50,763.59 L894.62,763.53 L894.73,763.47 L894.85,763.42 L894.96,763.36 L895.08,763.30 L895.19,763.24 L895.30,763.18 L895.42,763.12 L895.53,763.05 L895.64,762.99 L895.74,762.93 L895.85,762.87 L895.96,762.80 L896.06,762.74 L896.17,762.68 L896.27,762.61 L896.37,762.55 L896.47,762.48 L896.57,762.42 L896.67,762.35 L896.77,762.29 L896.86,762.22 L896.96,762.15 L897.05,762.09 L897.14,762.02 L897.23,761.95 L897.32,761.89 L897.41,761.82 L897.50,761.75 L897.58,761.68 L897.67,761.61 L897.75,761.54 L897.84,761.47 L897.92,761.40 L898.00,761.33 L898.08,761.26 L898.15,761.19 L898.23,761.12 L898.30,761.05 L898.38,760.98 L898.45,760.91 L898.52,760.83 L898.59,760.76 L898.66,760.69 L898.72,760.62 L898.79,760.55 L898.85,760.47 L898.91,760.40 L898.98,760.33 L899.04,760.25 L899.09,760.18 L899.15,760.11 L899.21,760.03 L899.26,759.96 L899.31,759.89 L899.36,759.81 L899.41,759.74 L899.46,759.66 L899.51,759.59 L899.55,759.51 L899.59,759.44 L899.64,759.37 L899.68,759.29 L899.72,759.22 L899.75,759.14 L899.79,759.07 L899.82,758.99 L899.86,758.92 L899.89,758.84 L899.92,758.77 L899.94,758.69 L899.97,758.62 L899.99,758.54 L900.02,758.47 L900.04,758.39 L900.06,758.32 L900.08,758.24 L900.09,758.17 L900.11,758.09 L900.12,758.02 L900.13,757.94 L900.14,757.87 L900.15,757.79 L900.15,757.72 L900.16,757.64 L900.16,757.57 L900.16,757.49 L900.16,757.42 L900.16,757.34 L900.15,757.27 L900.15,757.19 L900.14,757.12 L900.13,757.05 L900.12,756.97 L900.11,756.90 L900.09,756.83 L900.07,756.75 L900.05,756.68 L900.03,756.61 L900.01,756.53 L899.99,756.46 L899.96,756.39 L899.93,756.31 L899.90,756.24 L899.87,756.17 L899.84,756.10 L899.80,756.03 L899.76,755.96 L899.72,755.88 L899.68,755.81 L899.64,755.74 L899.59,755.67 L899.54,755.60 L899.49,755.53 L899.44,755.46 L899.39,755.39 L899.33,755.32 L899.28,755.25 L899.22,755.19 L899.15,755.12 L899.09,755.05 L899.02,754.98 L898.96,754.91 L898.89,754.85 L898.82,754.78 L898.74,754.71 L898.67,754.65 L898.59,754.58 L898.51,754.52 L898.43,754.45 L898.35,754.39 L898.27,754.32 L898.18,754.26 L898.10,754.20 L898.01,754.13 L897.92,754.07 L897.82,754.01 L897.73,753.95 L897.64,753.88 L897.54,753.82 L897.44,753.76 L897.34,753.70 L897.24,753.64 L897.14,753.58 L897.03,753.52 L896.93,753.47 L896.82,753.41 L896.71,753.35 L896.60,753.29 L896.49,753.24 L896.38,753.18 L896.27,753.13 L896.15,753.07 L896.04,753.02 L895.92,752.96 L895.80,752.91 L895.68,752.86 L895.56,752.80 L895.44,752.75 L895.32,752.70 L895.19,752.65 L895.07,752.60 L894.94,752.55 L894.81,752.50 L894.69,752.45 L894.56,752.40 L894.43,752.36 L894.30,752.31 L894.16,752.26 L894.03,752.22 L893.90,752.17 L893.76,752.13 L893.63,752.09 L893.49,752.04 L893.35,752.00 L893.21,751.96 L893.08,751.92 L892.94,751.88 L892.80,751.84 L892.66,751.80 L892.51,751.76 L892.37,751.73 L892.23,751.69 L892.09,751.65 L891.94,751.62 L891.80,751.58 L891.65,751.55 L891.51,751.52 L891.36,751.48 L891.21,751.45 L891.07,751.42 L890.92,751.39 L890.77,751.36 L890.62,751.33 L890.48,751.30 L890.33,751.28 L890.18,751.25 L890.03,751.23 L889.88,751.20 L889.73,751.18 L889.58,751.15 L889.43,751.13 L889.28,751.11 L889.13,751.09 L888.98,751.07 L888.82,751.05 L888.67,751.03 L888.52,751.02 L888.37,751.00 L888.22,750.98 L888.07,750.97 L887.92,750.96 L887.76,750.94 L887.61,750.93 L887.46,750.92 L887.31,750.91 L887.16,750.90 L887.01,750.89 L886.86,750.88 L886.71,750.87 L886.55,750.86 L886.40,750.85 L886.25,750.85 L886.10,750.84 L885.95,750.84 L885.81,750.83 L885.66,750.83 L885.51,750.83 L885.36,750.83 L885.21,750.83 L885.06,750.83 L884.92,750.83 L884.77,750.83 L884.62,750.83 L884.48,750.83 L884.33,750.83 L884.18,750.84 L884.04,750.84 L883.89,750.85 L883.75,750.85 L883.61,750.86 L883.46,750.86 L883.32,750.87 L883.18,750.88 L883.03,750.89 L882.89,750.90 L882.75,750.91 L882.61,750.92 L882.47,750.93 L882.33,750.94 L882.19,750.95 L882.05,750.96 L881.92,750.98 L881.78,750.99 L881.64,751.01 L881.50,751.02 L881.37,751.04 L881.23,751.05 L881.10,751.07 L880.96,751.09 L880.83,751.10 L880.70,751.12 L880.57,751.14 L880.44,751.16 L880.30,751.18 L880.17,751.20 L880.04,751.22 L879.92,751.24 L879.79,751.27 L879.66,751.29 L879.53,751.31 L879.41,751.33 L879.28,751.36 L879.16,751.38 L879.03,751.41 L878.91,751.43 L878.79,751.46 L878.67,751.48 L878.55,751.51 L878.43,751.54 L878.31,751.57 L878.19,751.59 L878.07,751.62 L877.96,751.65 L877.84,751.68 L877.73,751.71 L877.61,751.74 L877.50,751.77 L877.39,751.80 L877.27,751.83 L877.16,751.86 L877.05,751.90 L876.95,751.93 L876.84,751.96 L876.73,751.99 L876.63,752.03 L876.52,752.06 L876.42,752.10 L876.31,752.13 L876.21,752.17 L876.11,752.20 L876.01,752.24 L875.91,752.27 L875.81,752.31 L875.72,752.35 L875.62,752.38 L875.53,752.42 L875.43,752.46 L875.34,752.50 L875.25,752.53 L875.16,752.57 L875.07,752.61 L874.98,752.65 L874.89,752.69 L874.81,752.73 L874.72,752.77 L874.64,752.81 L874.56,752.85 L874.48,752.89 L874.40,752.93 L874.32,752.97 L874.24,753.02 L874.16,753.06 L874.09,753.10 L874.01,753.14 L873.94,753.18 L873.87,753.23 L873.80,753.27 L873.73,753.31 L873.66,753.36 L873.59,753.40 L873.53,753.44 L873.46,753.49 L873.40,753.53 L873.34,753.58 L873.28,753.62 L873.22,753.66 L873.16,753.71 L873.11,753.75 L873.05,753.80 L873.00,753.84 L872.95,753.89 L872.89,753.94 L872.84,753.98 L872.79,754.03 L872.75,754.07 L872.70,754.12 L872.65,754.16 L872.61,754.21 L872.57,754.26 L872.53,754.30 L872.49,754.35 L872.45,754.40 L872.41,754.44 L872.37,754.49 L872.33,754.54 L872.30,754.59 L872.27,754.63 L872.23,754.68 L872.20,754.73 L872.17,754.77 L872.14,754.82 L872.12,754.87 L872.09,754.92 L872.06,754.96 L872.04,755.01 L872.01,755.06 L871.99,755.11 L871.97,755.15 L871.95,755.20 L871.93,755.25 L871.91,755.30 L871.90,755.35 L871.88,755.39 L871.87,755.44 L871.85,755.49 L871.84,755.54 L871.83,755.58 L871.82,755.63 L871.81,755.68 L871.80,755.73 L871.79,755.78 L871.78,755.82 L871.78,755.87 L871.77,755.92 L871.77,755.97 L871.77,756.01 L871.77,756.06 L871.77,756.11 L871.77,756.16 L871.77,756.20 L871.77,756.25 L871.77,756.30 L871.78,756.35 L871.78,756.40 L871.79,756.44 L871.80,756.49 L871.81,756.54 L871.81,756.58 L871.82,756.63 L871.83,756.68 L871.85,756.73 L871.86,756.77 L871.87,756.82 L871.89,756.87 L871.90,756.91 L871.92,756.96 L871.94,757.01 L871.95,757.06 L871.97,757.10 L871.99,757.15 L872.01,757.20 L872.03,757.24 L872.06,757.29 L872.08,757.33 L872.10,757.38 L872.13,757.43 L872.15,757.47 L872.18,757.52 L872.21,757.57 L872.24,757.61 L872.27,757.66 L872.29,757.70 L872.33,757.75 L872.36,757.79 L872.39,757.84 L872.42,757.88 L872.46,757.93 L872.49,757.97 L872.52,758.02 L872.56,758.06 L872.60,758.11 L872.63,758.15 L872.67,758.20 L872.71,758.24 L872.75,758.29 L872.79,758.33 L872.83,758.37 L872.87,758.42 L872.92,758.46 L872.96,758.50 L873.00,758.55 L873.05,758.59 L873.09,758.63 L873.14,758.68 L873.19,758.72 L873.23,758.76 L873.28,758.80 L873.33,758.85 L873.38,758.89 L873.43,758.93 L873.48,758.97 L873.53,759.01 L873.58,759.05 L873.63,759.10 L873.69,759.14 L873.74,759.18 L873.79,759.22 L873.85,759.26 L873.91,759.30 L873.96,759.34 L874.02,759.38 L874.07,759.42 L874.13,759.46 L874.19,759.50 L874.25,759.54 L874.31,759.58 L874.37,759.61 L874.43,759.65 L874.49,759.69 L874.55,759.73 L874.61,759.77 L874.68,759.81 L874.74,759.84 L874.80,759.88 L874.87,759.92 L874.93,759.95 L875.00,759.99 L875.06,760.03 L875.13,760.06 L875.20,760.10 L875.26,760.13 L875.33,760.17 L875.40,760.20 L875.47,760.24 L875.54,760.27 L875.61,760.31 L875.68,760.34 L875.75,760.38 L875.82,760.41 L875.89,760.44 L875.96,760.48 L876.03,760.51 L876.11,760.54 L876.18,760.58 L876.25,760.61 L876.33,760.64 L876.40,760.67 L876.47,760.70 L876.55,760.73 L876.63,760.76 L876.70,760.79 L876.78,760.82 L876.85,760.85 L876.93,760.88 L877.01,760.91 L877.08,760.94 L877.16,760.97 L877.24,761.00 L877.32,761.03 L877.40,761.05 L877.48,761.08 L877.56,761.11 L877.63,761.14 L877.71,761.16 L877.79,761.19 L877.88,761.21 L877.96,761.24 L878.04,761.27 L878.12,761.29 L878.20,761.32 L878.28,761.34 L878.36,761.36 L878.45,761.39 L878.53,761.41 L878.61,761.43 L878.70,761.46 L878.78,761.48 L878.86,761.50 L878.95,761.52 L879.03,761.54 L879.11,761.56 L879.20,761.58 L879.28,761.60 L879.37,761.62 L879.45,761.64 L879.54,761.66 L879.62,761.68 L879.71,761.70 L879.79,761.72 L879.88,761.74 L879.97,761.75 L880.05,761.77 L880.14,761.79 L880.22,761.80 L880.31,761.82 L880.40,761.83 L880.48,761.85 L880.57,761.86 L880.66,761.88 L880.74,761.89 L880.83,761.90 L880.92,761.92 L881.01,761.93 L881.09,761.94 L881.18,761.95 L881.27,761.96 L881.36,761.97 L881.44,761.98 L881.53,761.99 L881.62,762.00 L881.71,762.01 L881.80,762.02 L881.88,762.03 L881.97,762.04 L882.06,762.05 L882.15,762.05 L882.23,762.06 L882.32,762.07 L882.41,762.07 L882.50,762.08 L882.59,762.08 L882.67,762.09 L882.76,762.09 L882.85,762.09 L882.94,762.10 L883.03,762.10 L883.11,762.10 L883.20,762.10 L883.29,762.10 L883.38,762.10 L883.46,762.11 L883.55,762.10 L883.64,762.10 L883.73,762.10 L883.81,762.10 L883.90,762.10 L883.99,762.10 L884.07,762.09 L884.16,762.09 L884.25,762.09 L884.33,762.08 L884.42,762.08 L884.51,762.07 L884.59,762.06 L884.68,762.06 L884.77,762.05 L884.85,762.04 L884.94,762.04 L885.02,762.03 L885.11,762.02 L885.19,762.01 L885.28,762.00 L885.36,761.99 L885.45,761.98 L885.53,761.96 L885.61,761.95 L885.70,761.94 L885.78,761.93 L885.87,761.91 L885.95,761.90 L886.03,761.88 L886.11,761.87 L886.20,761.85 L886.28,761.83 L886.36,761.82 L886.44,761.80 L886.52,761.78 L886.61,761.76 L886.69,761.74 L886.77,761.72 L886.85,761.70 L886.93,761.68 L887.01,761.66 L887.09,761.64 L887.17,761.62 L887.25,761.60 L887.32,761.57 L887.40,761.55 L887.48,761.52 L887.56,761.50 L887.64,761.47 L887.71,761.45 L887.79,761.42 L887.86,761.40 L887.94,761.37 L888.02,761.34 L888.09,761.31 L888.17,761.29 L888.24,761.26 L888.31,761.23 L888.39,761.20 L888.46,761.17 L888.53,761.14 L888.61,761.11 L888.68,761.08 L888.75,761.05 L888.82,761.02 L888.89,760.98 L888.96,760.95 L889.03,760.92 L889.10,760.89 L889.17,760.85 L889.24,760.82 L889.31,760.79 L889.37,760.75 L889.44,760.72 L889.51,760.68 L889.57,760.65 L889.64,760.62 L889.70,760.58 L889.77,760.54 L889.83,760.51 L889.90,760.47 L889.96,760.44 L890.02,760.40 L890.08,760.36 L890.15,760.33 L890.21,760.29 L890.27,760.25 L890.33,760.21 L890.39,760.18 L890.44,760.14 L890.50,760.10 L890.56,760.06 L890.62,760.02 L890.67,759.99 L890.73,759.95 L890.78,759.91 L890.84,759.87 L890.89,759.83 L890.95,759.79 L891.00,759.75 L891.05,759.71 L891.10,759.67 L891.15,759.63 L891.20,759.59 L891.25,759.55 L891.30,759.51 L891.35,759.47 L891.40,759.43 L891.45,759.39 L891.49,759.35 L891.54,759.31 L891.58,759.27 L891.63,759.23 L891.67,759.19 L891.71,759.15 L891.76,759.11 L891.80,759.07 L891.84,759.03 L891.88,758.99 L891.92,758.95 L891.96,758.91 L891.99,758.87 L892.03,758.83 L892.07,758.79 L892.10,758.75 L892.14,758.71 L892.17,758.67 L892.20,758.63 L892.24,758.59 L892.27,758.55 L892.30,758.51 L892.33,758.48 L892.36,758.44 L892.39,758.40 L892.42,758.36 L892.44,758.32 L892.47,758.28 L892.49,758.24 L892.52,758.20 L892.54,758.16 L892.57,758.13 L892.59,758.09 L892.61,758.05 L892.63,758.01 L892.65,757.98 L892.67,757.94 L892.68,757.90 L892.70,757.86 L892.72,757.83 L892.73,757.79 L892.75,757.76 L892.76,757.72 L892.77,757.68 L892.78,757.65 L892.79,757.61 L892.80,757.58 L892.81,757.54 L892.82,757.51 L892.83,757.48 L892.83,757.44 L892.84,757.41 L892.84,757.37 L892.84,757.34 L892.85,757.31 L892.85,757.28 L892.85,757.25 L892.85,757.21 L892.84,757.18 L892.84,757.15 L892.84,757.12 L892.83,757.09 L892.83,757.06 L892.82,757.03 L892.81,757.00 L892.80,756.97 L892.79,756.95 L892.78,756.92 L892.77,756.89 L892.76,756.86 L892.74,756.84 L892.73,756.81 L892.71,756.78" stroke="#0000ff" stroke-width="2" fill="none" stroke-linejoin="round"/>
<text transform="matrix(0.3302 0.0000 0.0000 0.3527 -1.4906 22.8473)" font-family="'Liberation Sans', Arial, Helvetica, sans-serif" font-style="normal" font-weight="bold" font-size="100" fill="#000000">a</text>
<text transform="matrix(0.4497 0.0000 0.0000 0.4015 2.2580 253.2000)" font-family="'Liberation Serif', 'Times New Roman', serif" font-style="italic" font-weight="normal" font-size="100" fill="#ff0000">E</text>
<text transform="matrix(0.1978 0.0000 0.0000 0.2056 32.5067 233.8944)" font-family="'Liberation Serif', 'Times New Roman', serif" font-style="italic" font-weight="normal" font-size="100" fill="#ff0000">δ</text>
<text transform="matrix(0.3111 0.0000 0.0000 0.2913 31.5111 257.1000)" font-family="'Liberation Serif', 'Times New Roman', serif" font-style="italic" font-weight="normal" font-size="100" fill="#ff0000">x</text>
<text transform="matrix(0.3556 0.0000 0.0000 0.3690 45.4333 251.6310)" font-family="'Liberation Serif', 'Times New Roman', serif" font-style="italic" font-weight="normal" font-size="100" fill="#ff0000">δ</text>
<text transform="matrix(0.3676 0.0000 0.0000 0.4178 64.2000 253.4267)" font-family="'Liberation Serif', 'Times New Roman', serif" font-style="normal" font-weight="normal" font-size="100" fill="#ff0000">(</text>
<text transform="matrix(0.4264 0.0000 0.0000 0.3807 76.2014 251.6193)" font-family="'Liberation Serif', 'Times New Roman', serif" font-style="italic" font-weight="normal" font-size="100" fill="#ff0000">t</text>
<text transform="matrix(0.3676 0.0000 0.0000 0.4178 91.6177 253.4267)" font-family="'Liberation Serif', 'Times New Roman', serif" font-style="normal" font-weight="normal" font-size="100" fill="#ff0000">)</text>
<text transform="matrix(0.3896 0.0000 0.0000 0.3478 107.4057 252.0000)" font-family="'Liberation Serif', 'Times New Roman', serif" font-style="normal" font-weight="bold" font-size="100" fill="#ff0000">x</text>
<text transform="matrix(0.5156 0.0000 0.0000 0.3000 107.9844 248.7000)" font-family="'Liberation Serif', 'Times New Roman', serif" font-style="normal" font-weight="normal" font-size="100" fill="#ff0000">ˆ</text>
<text transform="matrix(0.5177 0.0000 0.0000 0.4622 134.8700 321.0933)" font-family="'Liberation Serif', 'Times New Roman', serif" font-style="normal" font-weight="bold" font-size="100" fill="#0000ff">j</text>
<text transform="matrix(0.2267 0.0000 0.0000 0.2437 153.0200 306.7563)" font-family="'Liberation Serif', 'Times New Roman', serif" font-style="italic" font-weight="normal" font-size="100" fill="#0000ff">δ</text>
<text transform="matrix(0.3580 0.0000 0.0000 0.3507 522.4940 25.3000)" font-family="'Liberation Sans', Arial, Helvetica, sans-serif" font-style="normal" font-weight="bold" font-size="100" fill="#000000">b</text>
<text transform="matrix(0.4350 0.0000 0.0000 0.4244 738.3301 458.2826)" font-family="'Liberation Sans', Arial, Helvetica, sans-serif" font-style="normal" font-weight="normal" font-size="100" fill="#000000">time,</text>
<text transform="matrix(0.4275 0.0000 0.0000 0.4062 851.2900 458.0000)" font-family="'Liberation Serif', 'Times New Roman', serif" font-style="normal" font-weight="normal" font-size="100" fill="#000000">2</text>
<text transform="matrix(0.4684 0.0000 0.0000 0.4182 872.6782 457.4000)" font-family="'Liberation Serif', 'Times New Roman', serif" font-style="normal" font-weight="normal" font-size="100" fill="#000000">Δ</text>
<text transform="matrix(0.4460 0.0000 0.0000 0.3982 903.5674 458.2018)" font-family="'Liberation Serif', 'Times New Roman', serif" font-style="italic" font-weight="normal" font-size="100" fill="#000000">t</text>
<text transform="matrix(0.5893 0.0000 0.0000 0.6030 920.4000 467.1970)" font-family="'Liberation Serif', 'Times New Roman', serif" font-style="normal" font-weight="normal" font-size="100" fill="#000000">/</text>
<text transform="matrix(0.4667 0.0000 0.0000 0.4174 939.3333 458.6000)" font-family="'Liberation Serif', 'Times New Roman', serif" font-style="italic" font-weight="normal" font-size="100" fill="#000000">ħ</text>
<text transform="matrix(0.0000 -0.4310 0.4395 0.0000 584.1860 372.9170)" font-family="'Liberation Sans', Arial, Helvetica, sans-serif" font-style="normal" font-weight="normal" font-size="100" fill="#000000">radiated field,</text>
<text transform="matrix(0.0000 -0.5000 0.4842 0.0000 560.4368 100.4000)" font-family="'Liberation Serif', 'Times New Roman', serif" font-style="normal" font-weight="bold" font-size="100" fill="#000000">~</text>
<text transform="matrix(0.0000 -0.5109 0.4791 0.0000 586.2418 106.3326)" font-family="'Liberation Serif', 'Times New Roman', serif" font-style="italic" font-weight="normal" font-size="100" fill="#000000">Ɛ</text>
<text transform="matrix(0.0000 -0.2978 0.3183 0.0000 570.3817 78.4933)" font-family="'Liberation Serif', 'Times New Roman', serif" font-style="italic" font-weight="normal" font-size="100" fill="#000000">δ</text>
<text transform="matrix(0.0000 -0.3482 0.3109 0.0000 597.2000 80.6857)" font-family="'Liberation Serif', 'Times New Roman', serif" font-style="italic" font-weight="normal" font-size="100" fill="#000000">x</text>
<text transform="matrix(0.0000 -0.3067 0.3880 0.0000 596.9800 61.9267)" font-family="'Liberation Serif', 'Times New Roman', serif" font-style="normal" font-weight="normal" font-size="100" fill="#000000">,</text>
<text transform="matrix(0.0000 -0.3231 0.2970 0.0000 597.0627 49.4154)" font-family="'Liberation Serif', 'Times New Roman', serif" font-style="italic" font-weight="normal" font-size="100" fill="#000000">y</text>
<text transform="matrix(0.5543 0.0000 0.0000 0.5090 678.6370 175.9821)" font-family="'Liberation Serif', 'Times New Roman', serif" font-style="italic" font-weight="normal" font-size="100" fill="#ff0000">Ɛ</text>
<text transform="matrix(0.3244 0.0000 0.0000 0.3352 707.4267 159.4648)" font-family="'Liberation Serif', 'Times New Roman', serif" font-style="italic" font-weight="normal" font-size="100" fill="#ff0000">δ</text>
<text transform="matrix(0.3173 0.0000 0.0000 0.3060 707.3385 186.4746)" font-family="'Liberation Serif', 'Times New Roman', serif" font-style="italic" font-weight="normal" font-size="100" fill="#ff0000">y</text>
<text transform="matrix(0.5457 0.0000 0.0000 0.5060 710.0630 344.7881)" font-family="'Liberation Serif', 'Times New Roman', serif" font-style="italic" font-weight="normal" font-size="100" fill="#0000ff">Ɛ</text>
<text transform="matrix(0.3200 0.0000 0.0000 0.3310 738.8400 328.3690)" font-family="'Liberation Serif', 'Times New Roman', serif" font-style="italic" font-weight="normal" font-size="100" fill="#0000ff">δ</text>
<text transform="matrix(0.3628 0.0000 0.0000 0.3239 736.8002 355.9000)" font-family="'Liberation Serif', 'Times New Roman', serif" font-style="italic" font-weight="normal" font-size="100" fill="#0000ff">x</text>
<text transform="matrix(0.3476 0.0000 0.0000 0.3577 873.4524 339.9423)" font-family="'Liberation Sans', Arial, Helvetica, sans-serif" font-style="normal" font-weight="normal" font-size="100" fill="#000000">x100</text>
<text transform="matrix(0.2078 0.0000 0.0000 0.2132 835.5843 27.7132)" font-family="'Liberation Sans', Arial, Helvetica, sans-serif" font-style="normal" font-weight="normal" font-size="100" fill="#000000">4</text>
<text transform="matrix(0.2304 0.0000 0.0000 0.2071 834.8478 77.9000)" font-family="'Liberation Sans', Arial, Helvetica, sans-serif" font-style="normal" font-weight="normal" font-size="100" fill="#000000">2</text>
<text transform="matrix(0.2062 0.0000 0.0000 0.2042 835.8750 127.2958)" font-family="'Liberation Sans', Arial, Helvetica, sans-serif" font-style="normal" font-weight="normal" font-size="100" fill="#000000">0</text>
<text transform="matrix(0.2175 0.0000 0.0000 0.2129 852.4300 169.5000)" font-family="'Liberation Sans', Arial, Helvetica, sans-serif" font-style="normal" font-weight="normal" font-size="100" fill="#000000">-2</text>
<text transform="matrix(0.2042 0.0000 0.0000 0.2099 916.2833 169.2901)" font-family="'Liberation Sans', Arial, Helvetica, sans-serif" font-style="normal" font-weight="normal" font-size="100" fill="#000000">0</text>
<text transform="matrix(0.2217 0.0000 0.0000 0.2086 975.2913 169.3000)" font-family="'Liberation Sans', Arial, Helvetica, sans-serif" font-style="normal" font-weight="normal" font-size="100" fill="#000000">2</text>
<text transform="matrix(0.3420 0.0000 0.0000 0.3000 981.7580 183.2000)" font-family="'Liberation Serif', 'Times New Roman', serif" font-style="normal" font-weight="bold" font-size="100" fill="#000000">~</text>
<text transform="matrix(0.4239 0.0000 0.0000 0.4015 975.1283 203.9970)" font-family="'Liberation Serif', 'Times New Roman', serif" font-style="italic" font-weight="normal" font-size="100" fill="#000000">Ɛ</text>
<text transform="matrix(0.2622 0.0000 0.0000 0.2634 998.4133 189.8366)" font-family="'Liberation Serif', 'Times New Roman', serif" font-style="italic" font-weight="normal" font-size="100" fill="#000000">δ</text>
<text transform="matrix(0.2873 0.0000 0.0000 0.2565 997.0730 212.5000)" font-family="'Liberation Serif', 'Times New Roman', serif" font-style="italic" font-weight="normal" font-size="100" fill="#000000">x</text>
<text transform="matrix(0.0000 -0.3500 0.3842 0.0000 797.5368 61.8500)" font-family="'Liberation Serif', 'Times New Roman', serif" font-style="normal" font-weight="bold" font-size="100" fill="#000000">~</text>
<text transform="matrix(0.0000 -0.3978 0.4015 0.0000 816.0970 67.5935)" font-family="'Liberation Serif', 'Times New Roman', serif" font-style="italic" font-weight="normal" font-size="100" fill="#000000">Ɛ</text>
<text transform="matrix(0.0000 -0.2444 0.2690 0.0000 802.7310 43.9333)" font-family="'Liberation Serif', 'Times New Roman', serif" font-style="italic" font-weight="normal" font-size="100" fill="#000000">δ</text>
<text transform="matrix(0.0000 -0.2673 0.2552 0.0000 825.3403 44.7615)" font-family="'Liberation Serif', 'Times New Roman', serif" font-style="italic" font-weight="normal" font-size="100" fill="#000000">y</text>
<text transform="matrix(0.3551 0.0000 0.0000 0.3600 1.4796 532.6400)" font-family="'Liberation Sans', Arial, Helvetica, sans-serif" font-style="normal" font-weight="bold" font-size="100" fill="#000000">c</text>
<text transform="matrix(0.5824 0.0000 0.0000 0.5200 43.1104 908.1000)" font-family="'Liberation Serif', 'Times New Roman', serif" font-style="italic" font-weight="normal" font-size="100" fill="#ff0000">E</text>
<text transform="matrix(0.2531 0.0000 0.0000 0.2455 77.5875 885.3545)" font-family="'Liberation Serif', 'Times New Roman', serif" font-style="normal" font-weight="normal" font-size="100" fill="#ff0000">Θ</text>
<text transform="matrix(0.2995 0.0000 0.0000 0.2674 72.9612 917.0000)" font-family="'Liberation Serif', 'Times New Roman', serif" font-style="italic" font-weight="normal" font-size="100" fill="#ff0000">x</text>
<text transform="matrix(0.5357 0.0000 0.0000 0.4783 98.5765 908.1000)" font-family="'Liberation Serif', 'Times New Roman', serif" font-style="normal" font-weight="bold" font-size="100" fill="#ff0000">x</text>
<text transform="matrix(0.4125 0.0000 0.0000 0.4600 104.6875 906.0000)" font-family="'Liberation Serif', 'Times New Roman', serif" font-style="normal" font-weight="normal" font-size="100" fill="#ff0000">ˆ</text>
<text transform="matrix(0.4878 0.0000 0.0000 0.4356 127.1583 825.1533)" font-family="'Liberation Serif', 'Times New Roman', serif" font-style="normal" font-weight="bold" font-size="100" fill="#0000ff">j</text>
<text transform="matrix(0.2672 0.0000 0.0000 0.2591 142.8312 812.4409)" font-family="'Liberation Serif', 'Times New Roman', serif" font-style="normal" font-weight="normal" font-size="100" fill="#0000ff">Θ</text>
<text transform="matrix(0.3660 0.0000 0.0000 0.3507 525.3360 534.7000)" font-family="'Liberation Sans', Arial, Helvetica, sans-serif" font-style="normal" font-weight="bold" font-size="100" fill="#000000">d</text>
<text transform="matrix(0.4369 0.0000 0.0000 0.4233 741.7262 972.3977)" font-family="'Liberation Sans', Arial, Helvetica, sans-serif" font-style="normal" font-weight="normal" font-size="100" fill="#000000">time,</text>
<text transform="matrix(0.4150 0.0000 0.0000 0.4062 855.0400 971.8000)" font-family="'Liberation Serif', 'Times New Roman', serif" font-style="normal" font-weight="normal" font-size="100" fill="#000000">2</text>
<text transform="matrix(0.4785 0.0000 0.0000 0.4273 876.1473 971.8000)" font-family="'Liberation Serif', 'Times New Roman', serif" font-style="normal" font-weight="normal" font-size="100" fill="#000000">Δ</text>
<text transform="matrix(0.4342 0.0000 0.0000 0.3877 907.8678 972.0123)" font-family="'Liberation Serif', 'Times New Roman', serif" font-style="italic" font-weight="normal" font-size="100" fill="#000000">t</text>
<text transform="matrix(0.5679 0.0000 0.0000 0.6030 924.8000 980.8970)" font-family="'Liberation Serif', 'Times New Roman', serif" font-style="normal" font-weight="normal" font-size="100" fill="#000000">/</text>
<text transform="matrix(0.4675 0.0000 0.0000 0.4174 942.8130 972.4000)" font-family="'Liberation Serif', 'Times New Roman', serif" font-style="italic" font-weight="normal" font-size="100" fill="#000000">ħ</text>
<text transform="matrix(0.0000 -0.4315 0.4395 0.0000 588.0860 885.7205)" font-family="'Liberation Sans', Arial, Helvetica, sans-serif" font-style="normal" font-weight="normal" font-size="100" fill="#000000">radiated field,</text>
<text transform="matrix(0.0000 -0.4940 0.4579 0.0000 562.4316 614.9940)" font-family="'Liberation Serif', 'Times New Roman', serif" font-style="normal" font-weight="bold" font-size="100" fill="#000000">~</text>
<text transform="matrix(0.0000 -0.5261 0.5045 0.0000 589.3910 622.0783)" font-family="'Liberation Serif', 'Times New Roman', serif" font-style="italic" font-weight="normal" font-size="100" fill="#000000">Ɛ</text>
<text transform="matrix(0.0000 -0.3656 0.3485 0.0000 572.7515 593.4625)" font-family="'Liberation Serif', 'Times New Roman', serif" font-style="normal" font-weight="normal" font-size="100" fill="#000000">Θ</text>
<text transform="matrix(0.0000 -0.3579 0.3196 0.0000 600.3000 595.9451)" font-family="'Liberation Serif', 'Times New Roman', serif" font-style="italic" font-weight="normal" font-size="100" fill="#000000">x</text>
<text transform="matrix(0.0000 -0.2333 0.4000 0.0000 600.0000 575.1333)" font-family="'Liberation Serif', 'Times New Roman', serif" font-style="normal" font-weight="normal" font-size="100" fill="#000000">,</text>
<text transform="matrix(0.0000 -0.3250 0.3090 0.0000 600.3119 563.4000)" font-family="'Liberation Serif', 'Times New Roman', serif" font-style="italic" font-weight="normal" font-size="100" fill="#000000">y</text>
<text transform="matrix(0.4935 0.0000 0.0000 0.4746 705.0196 553.3507)" font-family="'Liberation Serif', 'Times New Roman', serif" font-style="italic" font-weight="normal" font-size="100" fill="#0000ff">Ɛ</text>
<text transform="matrix(0.3500 0.0000 0.0000 0.3318 732.5000 537.8682)" font-family="'Liberation Serif', 'Times New Roman', serif" font-style="normal" font-weight="normal" font-size="100" fill="#0000ff">Θ</text>
<text transform="matrix(0.3336 0.0000 0.0000 0.2978 730.6783 564.1000)" font-family="'Liberation Serif', 'Times New Roman', serif" font-style="italic" font-weight="normal" font-size="100" fill="#0000ff">x</text>
<text transform="matrix(0.5196 0.0000 0.0000 0.4731 691.3413 803.3537)" font-family="'Liberation Serif', 'Times New Roman', serif" font-style="italic" font-weight="normal" font-size="100" fill="#ff0000">Ɛ</text>
<text transform="matrix(0.3609 0.0000 0.0000 0.3409 718.6563 788.4591)" font-family="'Liberation Serif', 'Times New Roman', serif" font-style="normal" font-weight="normal" font-size="100" fill="#ff0000">Θ</text>
<text transform="matrix(0.3058 0.0000 0.0000 0.2970 718.5462 813.6627)" font-family="'Liberation Serif', 'Times New Roman', serif" font-style="italic" font-weight="normal" font-size="100" fill="#ff0000">y</text>
<text transform="matrix(0.3458 0.0000 0.0000 0.3563 891.5542 573.3437)" font-family="'Liberation Sans', Arial, Helvetica, sans-serif" font-style="normal" font-weight="normal" font-size="100" fill="#000000">x100</text>
<text transform="matrix(0.2193 0.0000 0.0000 0.1958 818.7105 764.7042)" font-family="'Liberation Sans', Arial, Helvetica, sans-serif" font-style="normal" font-weight="normal" font-size="100" fill="#000000">0</text>
<text transform="matrix(0.2213 0.0000 0.0000 0.1986 811.6150 802.2000)" font-family="'Liberation Sans', Arial, Helvetica, sans-serif" font-style="normal" font-weight="normal" font-size="100" fill="#000000">-2</text>
<text transform="matrix(0.2159 0.0000 0.0000 0.2044 811.6366 838.8044)" font-family="'Liberation Sans', Arial, Helvetica, sans-serif" font-style="normal" font-weight="normal" font-size="100" fill="#000000">-4</text>
<text transform="matrix(0.2125 0.0000 0.0000 0.2056 877.7500 877.9944)" font-family="'Liberation Sans', Arial, Helvetica, sans-serif" font-style="normal" font-weight="normal" font-size="100" fill="#000000">0</text>
<text transform="matrix(0.2217 0.0000 0.0000 0.2086 956.7913 878.2000)" font-family="'Liberation Sans', Arial, Helvetica, sans-serif" font-style="normal" font-weight="normal" font-size="100" fill="#000000">2</text>
<text transform="matrix(0.3520 0.0000 0.0000 0.3000 981.1480 839.1000)" font-family="'Liberation Serif', 'Times New Roman', serif" font-style="normal" font-weight="bold" font-size="100" fill="#000000">~</text>
<text transform="matrix(0.4609 0.0000 0.0000 0.4254 973.6174 861.9493)" font-family="'Liberation Serif', 'Times New Roman', serif" font-style="italic" font-weight="normal" font-size="100" fill="#000000">Ɛ</text>
<text transform="matrix(0.3109 0.0000 0.0000 0.3091 998.2563 848.1909)" font-family="'Liberation Serif', 'Times New Roman', serif" font-style="normal" font-weight="normal" font-size="100" fill="#000000">Θ</text>
<text transform="matrix(0.2970 0.0000 0.0000 0.2652 996.5636 872.1000)" font-family="'Liberation Serif', 'Times New Roman', serif" font-style="italic" font-weight="normal" font-size="100" fill="#000000">x</text>
<text transform="matrix(0.0000 -0.3480 0.3421 0.0000 809.9684 731.2480)" font-family="'Liberation Serif', 'Times New Roman', serif" font-style="normal" font-weight="bold" font-size="100" fill="#000000">~</text>
<text transform="matrix(0.0000 -0.4609 0.4254 0.0000 832.3493 737.8826)" font-family="'Liberation Serif', 'Times New Roman', serif" font-style="italic" font-weight="normal" font-size="100" fill="#000000">Ɛ</text>
<text transform="matrix(0.0000 -0.3125 0.2985 0.0000 818.5015 713.3500)" font-family="'Liberation Serif', 'Times New Roman', serif" font-style="normal" font-weight="normal" font-size="100" fill="#000000">Θ</text>
<text transform="matrix(0.0000 -0.2654 0.2687 0.0000 841.7582 713.7769)" font-family="'Liberation Serif', 'Times New Roman', serif" font-style="italic" font-weight="normal" font-size="100" fill="#000000">y</text>
</svg>
</body></html>
